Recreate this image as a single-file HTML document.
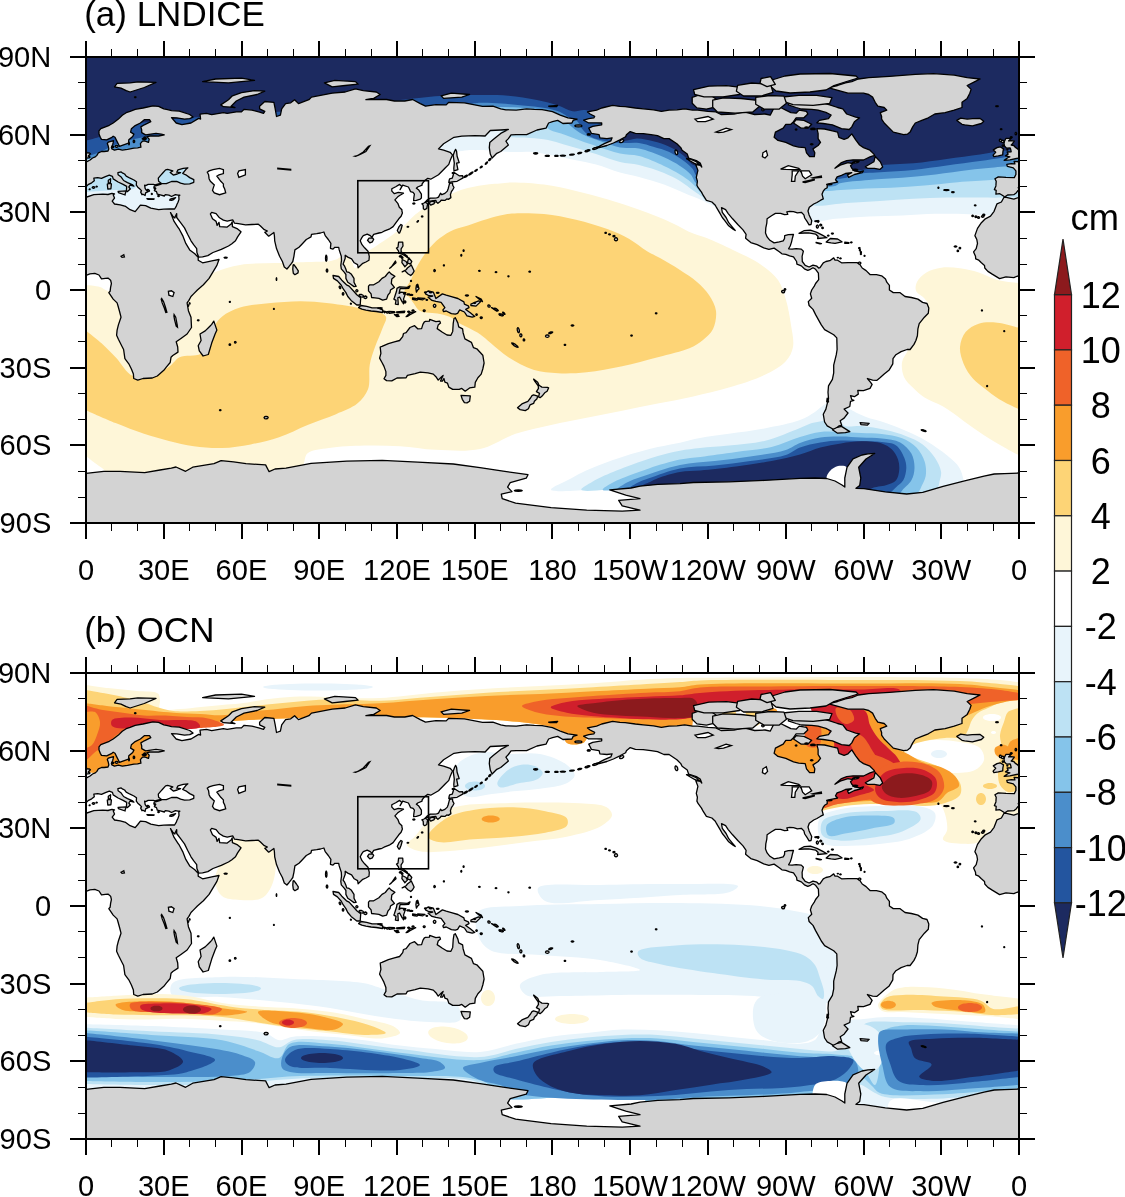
<!DOCTYPE html>
<html><head><meta charset="utf-8"><title>LNDICE OCN</title><style>html,body{margin:0;padding:0;background:#fff;overflow:hidden}svg{display:block}</style></head><body>
<svg width="1125" height="1197" viewBox="0 0 1125 1197" font-family='"Liberation Sans", Arial, Helvetica, sans-serif'>
<clipPath id="clip0"><rect x="86.0" y="57.0" width="933.0" height="466.0"/></clipPath>
<g clip-path="url(#clip0)">
<rect x="86.0" y="57.0" width="933.0" height="466.0" fill="#ffffff"/>
<path d="M86.0 285.0 C86.0 285.0 96.1 285.8 100.0 287.0 C103.1 288.0 104.2 289.7 108.0 291.0 C116.4 293.9 136.3 301.2 150.0 300.0 C163.7 298.8 182.0 287.3 190.0 284.0 C193.4 282.6 194.4 282.3 197.3 280.9 C202.0 278.7 208.5 274.6 215.1 272.0 C222.6 269.1 230.9 266.4 240.0 264.9 C250.7 263.1 263.7 263.6 275.6 263.1 C287.4 262.6 301.3 262.3 311.1 262.0 C318.0 261.8 324.3 261.9 328.9 261.3 C331.8 260.9 333.5 260.5 336.0 259.6 C338.9 258.5 342.3 254.6 345.0 255.0 C347.6 255.4 350.3 259.6 352.0 262.0 C353.4 264.0 353.6 267.7 355.0 268.0 C356.6 268.3 359.0 264.2 361.3 262.4 C363.9 260.4 369.1 258.9 369.9 256.8 C370.5 255.3 367.9 253.4 368.4 251.8 C369.2 249.5 373.8 247.7 377.0 245.4 C380.8 242.7 385.7 239.7 389.8 236.8 C393.7 234.0 397.6 231.4 401.2 228.3 C404.7 225.2 407.9 221.4 411.1 218.4 C414.0 215.7 416.5 213.3 419.6 211.2 C422.7 209.0 426.3 207.5 429.6 205.6 C432.9 203.7 436.1 201.8 439.6 199.9 C443.2 198.0 447.2 195.9 450.9 194.2 C454.3 192.6 457.2 191.1 460.9 189.9 C465.2 188.5 470.3 187.4 475.1 186.4 C479.8 185.5 484.9 184.7 489.3 184.2 C493.1 183.8 496.3 183.8 500.0 183.5 C503.9 183.2 507.0 182.5 512.0 182.4 C520.1 182.3 533.4 183.1 544.0 184.5 C554.7 185.9 565.4 188.4 576.0 190.9 C586.7 193.4 597.4 196.3 608.0 199.5 C618.7 202.7 629.4 206.2 640.0 210.1 C650.7 214.0 662.5 218.6 672.0 222.9 C679.9 226.5 686.9 231.0 693.3 233.6 C698.2 235.6 701.6 236.0 706.7 238.0 C714.1 240.9 724.2 245.7 733.0 250.0 C742.0 254.4 752.2 258.6 760.0 264.0 C766.9 268.8 773.6 273.8 778.0 280.0 C782.1 285.9 783.9 292.9 786.0 300.0 C788.3 307.8 789.8 316.9 791.0 325.0 C792.1 332.5 794.2 340.6 793.0 347.0 C792.0 352.4 789.8 356.8 786.0 361.0 C781.2 366.4 772.8 371.0 764.4 375.1 C754.3 380.1 740.8 384.0 728.9 387.6 C717.1 391.1 705.2 393.7 693.3 396.4 C681.5 399.1 669.6 401.2 657.8 403.6 C645.9 406.0 634.1 408.3 622.2 410.7 C610.4 413.1 598.5 415.4 586.7 417.8 C574.8 420.2 562.9 422.2 551.1 424.9 C539.2 427.6 527.3 429.9 515.6 433.8 C503.6 437.8 492.8 446.3 480.0 449.0 C466.3 451.9 449.6 450.4 435.6 449.8 C423.1 449.3 411.9 446.9 400.0 446.2 C388.1 445.5 376.3 445.2 364.4 445.5 C352.6 445.8 339.2 446.4 328.9 448.0 C320.8 449.3 312.4 449.3 307.6 453.3 C303.2 457.0 306.0 465.8 300.0 470.0 C285.9 479.9 232.0 476.7 200.0 478.0 C170.5 479.2 130.8 483.3 115.0 478.0 C107.9 475.6 105.9 471.1 101.3 467.6 C96.6 464.1 89.2 458.5 87.1 456.9 C86.5 456.4 86.0 456.0 86.0 456.0 L86.0 285.0 Z" fill="#fef6d8"/>
<path d="M1019.0 283.0 C1019.0 283.0 1004.1 281.7 997.3 279.9 C990.7 278.1 985.0 274.3 978.7 272.4 C972.6 270.5 966.3 269.1 960.0 268.3 C953.8 267.5 947.1 266.9 941.3 267.7 C936.0 268.4 930.5 269.9 926.4 272.4 C922.6 274.7 918.7 278.3 917.1 281.7 C915.7 284.6 915.0 288.4 916.1 291.1 C917.3 294.1 922.4 295.8 924.5 298.5 C926.3 300.8 928.4 302.8 928.3 306.0 C928.2 311.8 918.5 322.1 915.0 330.0 C911.8 337.0 910.2 345.0 907.7 350.8 C905.8 355.2 902.8 357.9 902.1 362.0 C901.3 366.5 902.1 372.5 904.0 376.9 C905.9 381.2 909.9 384.7 913.3 388.1 C916.7 391.5 920.1 394.6 924.5 397.5 C929.7 400.9 936.9 402.9 943.1 406.6 C949.9 410.6 956.8 416.1 963.6 420.9 C970.4 425.7 977.1 430.7 984.0 435.2 C990.7 439.6 998.4 444.0 1004.5 447.5 C1009.3 450.3 1015.6 453.7 1017.7 454.6 C1018.3 454.9 1019.0 455.0 1019.0 455.0 L1019.0 283.0 Z" fill="#fef6d8"/>
<path d="M86.0 330.7 C86.0 330.7 96.4 338.7 101.3 343.1 C106.3 347.6 110.7 352.2 115.6 357.3 C121.2 363.1 126.1 373.4 133.0 376.0 C139.4 378.4 148.5 375.9 155.0 374.0 C160.7 372.3 165.7 369.0 170.0 366.0 C173.7 363.4 175.4 359.3 179.6 357.3 C185.0 354.7 195.4 357.0 200.9 353.8 C205.9 350.9 209.6 345.0 212.0 340.0 C214.2 335.4 213.2 329.4 215.1 325.3 C216.8 321.7 218.9 319.0 222.2 316.4 C226.5 312.9 233.2 309.7 240.0 307.6 C248.2 305.0 258.6 304.4 268.4 303.3 C278.7 302.2 290.0 301.2 300.4 301.2 C310.2 301.2 318.9 302.1 328.9 303.3 C340.1 304.7 354.1 306.7 364.4 309.3 C372.5 311.3 383.6 312.3 385.8 316.4 C387.5 319.5 383.7 324.4 382.2 328.9 C380.3 334.4 377.2 340.7 375.1 346.7 C373.1 352.6 371.0 357.9 369.8 364.4 C368.4 371.9 370.6 382.4 368.0 389.3 C365.8 395.1 362.1 399.6 357.3 403.6 C351.8 408.2 343.7 410.8 336.0 414.2 C327.3 418.0 317.0 421.1 307.6 424.9 C298.1 428.8 288.7 434.0 279.1 437.3 C269.8 440.5 260.2 442.6 250.7 444.4 C241.3 446.2 231.7 447.7 222.2 448.0 C212.7 448.3 202.9 447.5 193.8 446.2 C185.2 445.0 177.2 443.0 168.9 440.9 C160.6 438.8 152.5 436.6 144.0 433.8 C134.8 430.8 125.0 426.9 115.6 423.1 C106.1 419.2 90.2 412.3 87.1 410.7 C86.5 410.4 86.0 410.0 86.0 410.0 L86.0 330.7 Z" fill="#fdd476"/>
<path d="M1019.0 328.0 C1019.0 328.0 1004.3 323.5 997.3 322.8 C990.9 322.2 984.2 322.0 978.7 323.7 C973.7 325.3 968.7 328.2 965.6 332.1 C962.4 336.0 960.4 341.9 960.0 347.1 C959.6 352.5 961.5 358.6 963.7 363.9 C965.9 369.2 969.5 374.7 973.1 378.8 C976.3 382.5 980.0 384.8 984.0 388.0 C988.6 391.6 993.7 395.9 999.2 399.3 C1004.9 402.8 1015.1 407.6 1017.7 408.6 C1018.4 408.9 1019.0 409.0 1019.0 409.0 L1019.0 328.0 Z" fill="#fdd476"/>
<path d="M404.0 293.7 C403.2 291.1 409.1 283.8 411.1 279.5 C412.8 275.9 413.8 272.9 415.4 269.6 C417.1 266.2 419.0 262.9 421.1 259.6 C423.3 256.2 425.4 252.9 428.2 249.6 C431.4 245.8 435.4 241.6 439.6 238.3 C443.9 234.9 448.9 231.9 453.8 229.7 C458.4 227.7 463.3 227.0 468.0 225.5 C472.8 224.0 477.2 222.1 482.2 220.5 C487.8 218.7 494.6 216.7 500.0 215.5 C504.4 214.5 507.0 213.9 512.0 213.5 C520.1 212.9 533.4 213.0 544.0 214.0 C554.7 215.0 565.4 217.2 576.0 219.7 C586.7 222.3 598.5 225.7 608.0 229.3 C615.9 232.3 622.7 235.3 629.3 239.0 C635.6 242.5 641.2 247.7 646.7 251.0 C651.3 253.8 655.2 255.3 660.0 258.0 C666.0 261.4 673.7 265.9 680.0 270.0 C686.0 273.9 692.0 277.6 697.0 282.0 C701.6 286.0 705.8 290.1 709.0 295.0 C712.2 299.8 715.3 305.4 716.0 311.0 C716.7 316.7 715.4 324.0 713.0 329.0 C710.8 333.5 706.8 336.8 703.0 340.0 C699.1 343.2 695.5 345.6 690.0 348.0 C681.8 351.6 668.8 354.3 657.8 357.3 C646.3 360.4 634.1 363.7 622.2 366.2 C610.4 368.7 597.9 371.1 586.7 372.3 C576.7 373.3 567.4 373.8 558.2 373.3 C549.6 372.8 541.4 372.3 533.3 369.8 C524.8 367.1 515.8 362.0 508.4 357.3 C501.7 353.0 495.8 347.3 490.7 343.1 C486.7 339.8 484.4 337.2 480.0 334.2 C473.9 330.1 461.7 324.9 456.9 321.8 C454.6 320.3 454.1 319.1 452.0 318.0 C449.0 316.4 444.6 315.1 440.0 314.0 C434.1 312.6 424.0 313.4 419.6 310.8 C416.7 309.1 415.9 306.1 414.0 303.7 C412.0 301.2 410.0 297.7 408.0 296.0 C406.6 294.8 404.4 295.1 404.0 293.7 Z" fill="#fdd476"/>
<path d="M86.0 150.0 C86.0 150.0 239.0 152.5 300.0 150.0 C345.8 148.1 397.3 134.7 420.0 140.0 C430.0 142.3 432.3 150.1 440.0 152.0 C448.7 154.1 462.7 150.2 470.0 150.0 C474.2 149.9 475.8 149.9 480.0 150.0 C487.4 150.2 501.4 151.7 510.7 152.0 C518.4 152.3 524.9 151.4 532.0 152.0 C539.1 152.6 546.2 154.3 553.3 155.6 C560.4 156.9 567.6 158.5 574.7 160.0 C581.8 161.5 588.7 162.5 596.0 164.5 C603.8 166.6 612.4 170.4 620.0 172.6 C626.7 174.5 632.3 175.2 639.0 177.0 C646.8 179.1 656.1 181.6 664.0 184.5 C671.5 187.2 678.7 190.8 685.3 193.5 C691.0 195.9 696.2 197.7 701.3 200.0 C706.1 202.2 712.4 204.9 715.2 207.0 C716.6 208.1 717.8 210.1 718.0 210.0 C718.3 209.8 715.1 206.3 716.0 205.0 C719.7 199.6 794.0 196.4 805.0 205.0 C809.7 208.7 805.1 218.2 808.9 220.9 C813.7 224.4 826.2 219.4 835.6 218.7 C846.1 217.9 857.8 216.9 868.9 216.4 C880.0 215.9 891.1 215.9 902.2 215.5 C913.3 215.1 924.5 214.0 935.6 213.8 C946.7 213.6 959.5 213.9 968.9 214.2 C975.8 214.5 981.2 215.0 986.7 215.3 C991.5 215.6 995.2 215.9 1000.0 216.0 C1005.8 216.2 1019.0 216.0 1019.0 216.0 L1019.0 50.0 L86.0 50.0 L86.0 150.0 Z" fill="#e8f4fb"/>
<path d="M86.0 165.0 C86.0 165.0 233.9 148.4 300.0 140.0 C357.2 132.7 426.1 117.0 460.0 118.0 C476.0 118.5 487.2 120.8 495.0 125.0 C499.9 127.6 502.1 133.1 505.0 135.0 C506.8 136.2 507.7 136.5 510.0 137.0 C514.4 138.0 523.4 137.5 529.9 138.0 C536.1 138.5 542.2 138.9 548.0 140.0 C553.5 141.1 558.7 143.0 564.0 144.5 C569.3 146.0 574.7 147.4 580.0 149.0 C585.3 150.6 590.1 152.1 596.0 154.0 C603.2 156.3 612.4 160.1 620.0 162.0 C626.6 163.6 632.3 163.4 639.0 165.0 C646.8 166.9 656.7 170.0 664.0 173.0 C670.0 175.5 675.0 178.0 680.0 181.0 C684.9 184.0 689.8 188.1 693.9 191.0 C697.1 193.3 700.5 195.2 702.4 197.0 C703.6 198.1 703.2 199.2 705.0 200.0 C714.2 204.2 790.3 195.7 805.0 200.0 C809.6 201.3 809.4 204.3 813.3 205.3 C820.5 207.2 835.6 203.8 846.7 203.1 C857.8 202.4 868.9 201.6 880.0 200.9 C891.1 200.2 902.2 199.2 913.3 198.7 C924.4 198.1 935.6 197.8 946.7 197.6 C957.8 197.4 970.0 197.6 980.0 197.6 C988.1 197.6 995.3 197.7 1002.2 197.6 C1008.2 197.5 1019.0 197.0 1019.0 197.0 L1019.0 50.0 L86.0 50.0 L86.0 165.0 Z" fill="#bde2f4"/>
<path d="M86.0 160.0 C86.0 160.0 92.1 156.7 100.0 155.0 C135.4 147.3 326.8 134.9 400.0 130.0 C442.2 127.2 473.2 125.4 500.0 125.0 C517.9 124.8 537.6 123.4 545.0 126.0 C547.8 127.0 547.8 128.8 550.1 130.0 C553.5 131.8 559.2 132.8 564.0 134.5 C569.2 136.3 574.7 138.6 580.0 140.5 C585.3 142.4 590.1 144.1 596.0 146.0 C603.2 148.4 612.4 151.9 620.0 153.6 C626.6 155.1 632.3 154.3 639.0 156.0 C646.9 158.0 656.7 162.5 664.0 165.9 C670.0 168.7 675.3 171.5 680.0 174.4 C684.0 176.9 687.6 179.3 690.7 181.9 C693.5 184.3 696.5 187.4 698.1 189.3 C699.0 190.4 698.5 191.2 700.0 192.0 C709.0 196.7 804.7 193.0 820.0 192.0 C823.6 191.8 823.6 191.4 826.7 191.1 C833.3 190.4 847.3 189.4 857.8 188.9 C868.7 188.3 880.0 188.3 891.1 187.8 C902.2 187.2 913.3 186.5 924.4 185.6 C935.5 184.7 946.7 183.1 957.8 182.2 C968.9 181.3 982.4 180.6 991.1 180.0 C996.7 179.6 1000.4 179.3 1005.0 179.0 C1009.7 178.7 1019.0 178.0 1019.0 178.0 L1019.0 50.0 L86.0 50.0 L86.0 160.0 Z" fill="#85c4ea"/>
<path d="M86.0 160.0 C86.0 160.0 103.0 153.4 120.0 150.0 C168.0 140.4 337.9 128.6 400.0 120.0 C431.2 115.7 446.2 109.7 470.0 108.0 C494.5 106.2 529.7 107.3 545.0 110.0 C552.0 111.2 556.3 112.6 560.0 115.0 C562.8 116.8 563.8 119.5 566.1 121.7 C568.7 124.2 571.6 126.9 574.7 129.2 C578.0 131.6 581.3 133.7 585.3 135.6 C590.0 137.9 595.7 139.6 601.3 141.5 C607.3 143.6 613.7 146.3 620.0 147.5 C626.2 148.6 632.3 147.2 639.0 148.5 C646.9 150.1 656.7 154.1 664.0 157.3 C670.0 160.0 675.3 162.8 680.0 165.9 C684.1 168.6 687.9 171.3 690.7 174.4 C693.1 177.0 694.0 181.4 696.0 182.9 C697.3 183.8 698.6 183.5 700.0 184.0 C701.6 184.5 702.1 185.4 705.0 186.0 C719.1 188.7 820.9 189.6 835.0 186.0 C837.9 185.3 837.5 184.1 840.0 183.3 C845.6 181.6 858.9 180.9 868.9 180.0 C879.6 179.0 891.1 178.7 902.2 177.8 C913.3 176.9 924.5 175.7 935.6 174.4 C946.7 173.1 958.9 171.2 968.9 170.0 C977.0 169.1 983.5 168.5 991.1 167.8 C999.1 167.0 1011.2 166.0 1015.6 165.6 C1017.3 165.5 1019.0 165.3 1019.0 165.3 L1019.0 50.0 L86.0 50.0 L86.0 160.0 Z" fill="#4b8ecb"/>
<path d="M86.0 157.0 C86.0 157.0 94.5 154.1 100.0 152.0 C108.1 148.9 114.6 143.7 130.0 140.0 C174.6 129.2 339.4 122.6 400.0 115.0 C431.0 111.1 457.2 105.8 470.0 104.0 C474.8 103.3 476.0 103.0 480.0 102.8 C485.8 102.6 494.2 103.0 501.3 103.5 C508.4 104.0 515.5 104.9 522.7 105.6 C530.1 106.4 538.3 106.8 545.0 108.0 C550.5 109.0 555.6 110.1 560.0 112.0 C563.8 113.6 566.9 116.5 570.0 118.0 C572.4 119.2 574.8 119.1 576.8 120.7 C579.3 122.7 580.8 127.6 583.2 130.3 C585.4 132.8 587.6 135.0 590.7 136.7 C594.5 138.8 600.1 140.0 605.0 141.0 C609.9 142.1 614.7 142.6 620.0 143.0 C625.9 143.4 633.2 142.3 639.0 143.0 C644.1 143.7 648.4 145.3 653.3 146.7 C658.5 148.2 664.3 149.7 669.3 152.0 C674.2 154.3 679.1 157.5 683.2 160.5 C686.8 163.2 690.6 166.2 692.8 169.1 C694.4 171.2 694.6 174.0 696.0 175.5 C697.1 176.7 697.5 177.3 700.0 178.0 C713.6 181.9 826.5 181.8 845.0 178.0 C849.6 177.0 849.6 175.3 853.3 174.4 C859.6 172.8 870.6 172.9 880.0 172.2 C890.5 171.4 902.2 171.1 913.3 170.0 C924.4 168.9 935.6 167.1 946.7 165.6 C957.8 164.1 970.0 162.5 980.0 161.1 C988.2 159.9 995.7 158.8 1002.2 157.8 C1007.2 157.0 1012.6 156.1 1015.6 155.6 C1017.1 155.3 1019.0 155.0 1019.0 155.0 L1019.0 50.0 L86.0 50.0 L86.0 157.0 Z" fill="#23559f"/>
<path d="M86.0 140.7 C86.0 140.7 93.8 138.7 99.0 137.0 C107.2 134.3 115.2 128.5 130.0 125.0 C163.6 117.2 250.8 114.6 300.0 110.0 C337.7 106.4 374.2 102.6 400.0 100.0 C416.3 98.4 426.7 96.8 440.0 96.0 C453.3 95.2 467.8 95.0 480.0 95.0 C490.3 95.0 499.0 94.9 508.4 95.7 C517.9 96.5 528.1 98.2 536.9 100.0 C544.6 101.6 551.9 103.5 558.2 105.6 C563.5 107.3 567.8 110.7 572.5 111.3 C576.7 111.9 580.7 109.5 585.0 110.0 C589.8 110.5 595.2 112.6 600.0 115.0 C605.2 117.5 611.4 120.7 615.0 125.0 C618.4 129.2 617.5 138.1 621.3 140.3 C625.0 142.5 632.0 138.3 637.3 138.5 C642.6 138.7 648.0 140.0 653.3 141.3 C658.7 142.7 664.3 144.4 669.3 146.7 C674.2 149.0 679.2 152.0 683.2 155.2 C686.9 158.1 689.9 163.2 692.8 164.8 C694.6 165.8 696.7 165.5 698.0 166.0 C698.8 166.3 698.8 166.7 700.0 167.0 C708.2 168.9 770.6 166.3 800.0 167.0 C823.2 167.6 848.4 171.6 862.2 170.0 C869.2 169.2 871.5 166.7 877.8 165.6 C887.2 164.0 901.7 164.4 913.3 163.3 C924.6 162.2 935.6 160.4 946.7 158.9 C957.8 157.4 970.0 155.8 980.0 154.4 C988.2 153.2 995.7 152.1 1002.2 151.1 C1007.2 150.3 1012.6 149.3 1015.6 148.9 C1017.1 148.7 1019.0 148.5 1019.0 148.5 L1019.0 50.0 L86.0 50.0 L86.0 140.7 Z" fill="#1c2a60"/>
<path d="M72.0 192.0 L72.0 189.0 L79.9 184.0 L86.0 176.0 C86.0 176.0 90.4 171.6 94.0 170.0 C99.5 167.5 112.1 165.5 117.0 165.0 C119.3 164.8 120.0 164.5 122.0 165.0 C125.4 165.9 132.4 169.3 135.0 172.0 C136.8 173.8 136.5 177.1 138.0 178.0 C139.3 178.8 141.0 178.0 143.0 178.0 C145.8 178.0 150.0 178.6 153.0 178.0 C155.6 177.5 159.4 176.5 160.0 175.0 C160.5 173.7 157.8 171.7 158.0 170.0 C158.2 168.0 159.9 165.3 162.0 164.0 C164.9 162.3 170.5 163.5 175.0 163.0 C179.8 162.5 186.6 159.3 190.0 161.0 C192.8 162.4 194.2 167.1 195.0 170.0 C195.6 172.4 196.3 174.9 195.0 177.0 C193.0 180.3 182.9 180.7 180.0 185.0 C176.8 189.7 180.5 201.1 178.0 205.0 C176.4 207.5 174.4 208.0 171.0 209.0 C164.2 211.0 148.2 212.4 138.0 211.0 C128.7 209.7 120.8 204.3 112.0 202.0 C103.4 199.7 86.0 197.0 86.0 197.0 L72.0 192.0 Z" fill="#e8f4fb"/>
<path d="M72.0 192.0 L72.0 189.0 L79.9 184.0 L86.0 176.0 C86.0 176.0 90.4 171.6 94.0 170.0 C99.5 167.5 112.1 165.5 117.0 165.0 C119.3 164.8 120.0 164.4 122.0 165.0 C125.6 166.1 133.5 170.7 136.0 174.0 C137.6 176.2 138.1 178.7 138.0 181.0 C137.9 183.4 136.9 186.5 135.0 188.0 C132.8 189.8 128.4 189.7 125.0 190.0 C121.4 190.4 117.9 189.9 114.0 190.0 C109.6 190.2 104.7 190.7 100.0 191.0 C95.3 191.3 86.0 192.0 86.0 192.0 L72.0 192.0 Z" fill="#bde2f4"/>
<path d="M157.0 165.0 C162.2 159.8 190.6 159.6 196.0 165.0 C199.9 168.9 199.7 181.3 196.0 185.0 C191.4 189.6 170.8 186.6 165.0 185.0 C162.5 184.3 161.5 182.4 160.0 182.0 C158.9 181.7 157.7 182.7 157.0 182.0 C155.3 180.3 153.6 168.4 157.0 165.0 Z" fill="#bde2f4"/>
<path d="M551.0 489.8 C550.4 487.4 563.8 482.4 570.0 479.0 C575.7 475.9 580.0 473.2 586.7 470.2 C596.2 465.9 610.3 460.8 622.2 456.9 C634.0 453.1 647.3 449.6 657.8 447.1 C666.0 445.2 672.8 444.3 680.0 442.7 C686.9 441.2 692.7 439.4 700.0 438.0 C708.7 436.3 718.8 435.3 728.9 433.8 C740.1 432.1 752.6 430.7 764.4 428.4 C776.3 426.1 790.8 423.5 800.0 420.0 C806.3 417.6 810.7 414.8 815.0 412.0 C818.6 409.6 821.1 406.5 824.5 404.5 C827.8 402.5 831.6 399.9 835.0 400.0 C838.4 400.1 842.5 403.3 845.0 405.0 C846.8 406.2 847.2 407.3 849.1 408.6 C852.6 411.0 859.5 414.5 865.4 416.8 C871.7 419.3 879.1 420.5 885.9 422.9 C892.8 425.3 899.6 428.1 906.3 431.1 C913.2 434.2 920.1 437.3 926.8 441.3 C933.8 445.4 941.4 450.8 947.2 455.6 C952.0 459.6 956.8 463.5 959.5 467.9 C961.9 471.7 962.5 475.9 963.6 480.2 C964.7 484.9 962.5 491.6 966.0 495.0 C971.2 500.2 1000.1 498.7 1000.0 500.0 C999.7 504.0 698.9 512.0 660.0 500.0 C651.0 497.2 652.7 492.2 645.0 489.8 C627.5 484.4 552.3 494.8 551.0 489.8 Z" fill="#e8f4fb"/>
<path d="M581.3 489.8 C580.7 488.0 588.2 484.3 592.0 482.0 C595.9 479.6 599.4 477.9 604.4 475.6 C611.6 472.3 622.2 468.2 631.1 464.9 C640.0 461.7 649.3 458.4 657.8 456.0 C665.5 453.8 672.8 452.0 680.0 450.7 C686.8 449.4 692.7 448.8 700.0 448.0 C708.7 447.0 718.8 446.6 728.9 445.5 C740.1 444.3 752.7 443.7 764.4 440.9 C776.4 438.0 791.3 431.4 800.0 428.0 C805.1 426.0 808.1 424.2 812.0 423.0 C815.6 421.9 818.9 421.7 822.5 420.9 C826.5 420.0 831.2 417.1 835.0 418.0 C838.7 418.9 841.0 424.6 845.0 426.0 C849.5 427.6 855.3 425.5 861.3 426.0 C868.7 426.6 878.1 428.3 885.9 430.1 C893.1 431.8 900.0 433.7 906.3 436.2 C912.2 438.5 917.9 440.8 922.7 444.4 C927.4 448.0 931.8 452.9 934.9 457.7 C937.8 462.2 940.5 467.3 941.1 472.0 C941.6 476.2 939.5 480.3 939.0 484.3 C938.5 488.0 935.7 492.3 938.0 495.0 C943.5 501.6 1000.0 498.8 1000.0 500.0 C999.9 502.7 698.9 512.0 660.0 500.0 C651.0 497.2 652.2 492.0 645.0 489.8 C631.5 485.6 582.6 493.7 581.3 489.8 Z" fill="#bde2f4"/>
<path d="M602.7 489.8 C602.2 488.3 608.7 484.9 612.0 483.0 C615.2 481.1 617.9 480.0 622.2 478.2 C629.0 475.4 639.6 471.4 648.9 468.4 C658.8 465.2 670.7 461.5 680.0 459.6 C687.5 458.1 692.7 458.0 700.4 457.0 C710.6 455.6 724.1 453.7 736.0 452.0 C747.9 450.3 760.5 449.7 771.6 447.0 C781.7 444.5 791.3 439.6 800.0 437.0 C807.3 434.8 813.5 432.8 820.4 432.0 C827.2 431.2 834.1 431.8 840.9 432.0 C847.7 432.2 854.5 432.7 861.3 433.0 C868.1 433.3 875.0 433.1 881.8 434.0 C888.6 434.9 896.2 435.8 902.2 438.3 C907.6 440.5 912.7 443.5 916.5 447.5 C920.2 451.4 923.2 456.9 924.7 461.8 C926.1 466.4 926.4 471.6 925.7 476.1 C925.0 480.4 922.0 484.9 920.6 488.4 C919.6 490.9 916.8 493.2 918.0 495.0 C921.9 501.2 1000.0 498.9 1000.0 500.0 C999.9 502.3 698.9 512.0 660.0 500.0 C651.0 497.2 651.7 491.9 645.0 489.8 C634.8 486.7 603.6 492.7 602.7 489.8 Z" fill="#85c4ea"/>
<path d="M616.9 489.8 C616.4 488.3 624.1 484.1 628.0 482.0 C631.8 480.0 634.8 479.1 640.0 477.3 C649.4 474.0 667.0 467.6 680.0 464.9 C691.9 462.4 703.1 462.4 714.7 461.0 C726.5 459.6 738.4 458.3 750.2 456.5 C762.1 454.7 776.8 453.0 785.8 450.0 C791.8 448.0 794.7 445.0 800.0 443.0 C806.1 440.7 813.5 438.6 820.4 437.5 C827.2 436.4 834.1 436.5 840.9 436.5 C847.7 436.5 854.5 437.2 861.3 437.5 C868.1 437.8 875.2 437.6 881.8 438.5 C888.1 439.3 895.1 439.7 900.2 442.4 C904.8 444.9 909.0 449.2 911.4 453.6 C913.7 457.8 914.6 463.3 914.5 467.9 C914.4 472.2 913.4 476.5 911.4 480.2 C909.3 484.0 904.1 487.5 902.2 490.4 C901.0 492.1 899.2 493.7 900.0 495.0 C903.5 500.9 1000.0 498.9 1000.0 500.0 C1000.0 502.0 698.9 512.0 660.0 500.0 C651.0 497.2 651.1 491.7 645.0 489.8 C637.4 487.5 617.6 492.0 616.9 489.8 Z" fill="#4b8ecb"/>
<path d="M627.6 489.8 C627.2 488.6 633.6 484.9 637.0 483.0 C640.6 481.0 644.0 480.0 648.9 478.2 C656.8 475.4 669.2 470.5 680.0 468.4 C691.1 466.2 703.1 466.7 714.7 465.5 C726.5 464.3 738.4 462.7 750.2 461.0 C762.1 459.2 776.8 458.0 785.8 455.0 C791.8 453.0 794.7 449.5 800.0 447.5 C806.1 445.2 813.5 443.7 820.4 442.5 C827.2 441.3 834.1 440.7 840.9 440.5 C847.7 440.3 854.5 440.8 861.3 441.0 C868.1 441.3 875.6 441.1 881.8 442.0 C887.0 442.7 892.4 442.8 896.1 445.4 C899.9 448.0 902.6 453.6 904.3 457.7 C905.7 461.1 906.4 464.4 906.3 467.9 C906.2 471.8 905.2 476.9 903.3 480.2 C901.6 483.2 898.3 484.8 896.1 487.3 C893.9 489.8 889.0 492.9 890.0 495.0 C893.2 502.0 1000.0 498.9 1000.0 500.0 C1000.0 501.9 698.9 512.0 660.0 500.0 C651.0 497.2 650.5 491.5 645.0 489.8 C639.6 488.2 628.1 491.3 627.6 489.8 Z" fill="#23559f"/>
<path d="M640.0 487.0 C640.0 485.5 646.9 483.5 650.0 482.0 C652.8 480.6 654.5 479.5 657.8 478.2 C663.2 476.1 672.7 473.3 680.0 472.0 C686.9 470.8 692.7 471.2 700.4 470.5 C710.6 469.5 724.1 468.1 736.0 466.5 C747.9 464.9 760.4 463.1 771.6 461.0 C781.6 459.1 791.4 457.1 800.0 454.6 C807.4 452.5 813.5 449.4 820.4 447.5 C827.2 445.7 834.1 444.4 840.9 443.4 C847.7 442.4 854.5 441.3 861.3 441.3 C868.1 441.3 876.3 441.6 881.8 443.4 C886.0 444.8 889.3 446.8 892.0 449.5 C894.7 452.2 896.9 456.2 898.1 459.7 C899.2 463.0 899.5 466.6 899.2 470.0 C898.9 473.4 898.2 477.7 896.1 480.2 C893.9 482.8 889.7 484.0 885.9 485.3 C881.6 486.8 875.2 486.4 871.6 488.4 C868.7 490.0 864.3 493.2 865.0 495.0 C867.7 502.0 1000.0 499.0 1000.0 500.0 C1000.0 501.6 698.9 512.0 660.0 500.0 C651.0 497.2 648.7 492.1 645.0 489.8 C642.9 488.5 640.0 488.0 640.0 487.0 Z" fill="#1c2a60"/>
<path d="M826.7 478.5 C825.9 476.8 828.2 473.0 830.0 471.0 C831.9 468.8 835.1 466.6 838.0 466.0 C840.8 465.4 845.8 465.5 847.0 467.3 C848.4 469.2 845.1 474.6 844.8 478.0 C844.5 481.1 846.2 486.2 844.8 487.0 C843.3 487.9 838.2 482.4 835.0 481.0 C832.2 479.7 827.5 480.2 826.7 478.5 Z" fill="#ffffff"/>
<g fill="#d3d3d3" stroke="#000" stroke-width="1.3" stroke-linejoin="round">
<path d="M71.5 196.8 L69.7 195.5 L66.8 193.7 L62.9 194.2 L63.2 190.3 L61.4 189.6 L62.9 185.9 L63.2 181.3 L61.9 178.7 L65.3 176.9 L73.0 177.4 L81.3 177.6 L82.9 174.5 L82.9 170.9 L80.3 167.8 L74.3 166.3 L73.8 164.4 L78.2 163.7 L81.9 163.9 L81.1 161.3 L86.5 161.8 L90.1 160.0 L92.5 158.0 L95.3 156.9 L96.9 155.4 L98.4 152.8 L101.5 151.5 L104.1 151.5 L108.0 151.0 L108.8 148.9 L108.3 146.3 L107.3 143.5 L108.3 142.2 L113.5 140.6 L113.2 142.4 L112.7 144.5 L111.4 147.6 L111.9 148.9 L114.5 150.2 L118.4 149.2 L122.3 150.2 L127.5 149.4 L133.9 148.1 L137.6 147.9 L140.9 147.1 L140.4 143.7 L142.5 141.1 L144.6 140.9 L148.5 142.4 L149.2 139.1 L146.9 136.7 L150.0 136.0 L158.6 136.0 L164.3 134.9 L161.2 134.1 L156.0 133.4 L150.8 134.1 L145.6 134.9 L141.7 132.6 L141.7 130.0 L140.9 126.9 L144.3 124.8 L150.8 121.7 L149.5 119.7 L144.3 119.7 L140.4 123.0 L135.2 125.6 L131.4 128.7 L130.6 132.1 L133.9 134.1 L132.7 136.5 L128.8 139.8 L128.5 143.2 L123.6 144.8 L119.4 146.3 L118.7 144.8 L116.6 140.6 L115.0 137.3 L113.2 136.2 L111.9 137.3 L106.7 139.8 L101.5 139.3 L100.3 137.3 L99.0 133.9 L99.0 130.8 L100.8 128.7 L105.4 126.9 L109.3 125.3 L113.2 123.0 L118.4 119.1 L122.3 115.2 L126.2 112.7 L130.1 111.4 L135.2 109.3 L143.0 108.0 L152.9 105.9 L158.6 106.4 L163.8 108.8 L167.6 109.6 L171.5 110.6 L179.3 111.1 L189.7 114.5 L193.0 117.1 L189.7 118.6 L184.5 119.1 L176.7 117.8 L171.5 117.6 L176.2 123.0 L181.9 124.6 L191.0 123.0 L198.7 118.4 L200.6 119.1 L200.0 114.2 L206.5 113.4 L211.7 114.7 L223.4 112.7 L227.2 113.4 L236.3 111.9 L241.5 111.9 L244.1 109.3 L251.9 110.1 L259.6 112.1 L263.5 113.4 L264.8 111.4 L259.6 108.8 L259.6 106.2 L264.8 101.5 L273.9 102.3 L275.2 108.8 L276.5 116.5 L280.4 115.2 L281.7 108.8 L285.6 103.6 L290.7 102.8 L294.6 99.7 L298.5 103.6 L308.9 99.7 L311.5 97.1 L332.2 93.2 L345.2 92.0 L355.5 88.8 L363.3 90.7 L376.3 92.0 L380.2 94.5 L373.7 98.4 L365.9 99.7 L376.3 99.5 L386.6 99.5 L394.4 101.0 L404.8 101.0 L412.6 99.5 L420.3 103.6 L425.5 106.2 L435.9 104.6 L446.2 104.9 L448.8 102.3 L464.4 102.8 L474.8 104.9 L482.5 106.4 L492.9 106.2 L500.7 108.8 L505.9 109.8 L516.2 110.1 L526.6 108.8 L534.4 109.3 L542.1 109.6 L552.5 111.6 L560.3 115.2 L568.0 117.8 L577.1 119.1 L573.2 120.4 L571.9 123.0 L562.9 123.5 L557.7 120.4 L552.5 121.7 L548.6 123.0 L546.0 128.2 L537.0 130.0 L526.6 134.7 L516.2 134.7 L511.0 134.9 L508.4 138.6 L505.9 141.1 L508.4 145.0 L500.7 151.5 L496.8 153.3 L492.1 158.0 L490.3 154.1 L489.3 147.6 L489.8 142.4 L492.9 139.8 L500.7 133.4 L508.4 129.5 L500.7 130.0 L490.3 130.5 L485.1 136.0 L474.8 135.7 L461.8 136.2 L454.0 137.3 L443.6 143.7 L438.5 148.9 L443.6 150.2 L450.1 152.3 L452.5 154.9 L450.1 160.6 L448.8 164.4 L444.9 168.3 L438.5 174.8 L430.7 179.2 L427.8 178.4 L424.7 180.5 L422.1 183.9 L422.1 185.2 L417.7 187.0 L416.4 188.3 L418.8 190.1 L421.4 194.2 L421.4 198.1 L420.3 199.1 L416.4 200.4 L413.6 200.7 L413.8 198.1 L414.4 194.2 L413.1 192.4 L410.5 191.6 L409.4 189.0 L408.4 187.0 L402.7 185.2 L400.1 189.6 L401.9 186.4 L399.6 184.4 L395.7 186.7 L391.8 188.8 L391.8 191.1 L394.4 193.7 L398.3 192.4 L403.5 193.2 L399.6 195.5 L397.5 197.1 L394.9 199.9 L397.8 203.3 L399.3 207.2 L401.9 209.7 L401.9 211.0 L402.4 212.9 L401.1 216.2 L398.8 218.8 L396.0 222.7 L393.1 226.6 L389.2 229.2 L384.0 231.2 L382.0 232.3 L378.9 233.0 L373.7 234.3 L371.9 237.4 L370.3 235.6 L367.2 234.1 L363.3 235.6 L362.0 237.4 L360.2 240.8 L362.0 244.7 L364.6 247.8 L368.0 251.2 L369.3 256.3 L369.0 260.2 L365.9 262.0 L362.8 263.3 L358.1 267.7 L357.6 264.6 L354.2 262.8 L351.6 258.9 L347.8 257.1 L345.2 255.3 L345.2 258.2 L343.1 264.1 L344.6 266.2 L345.9 269.3 L346.7 271.9 L349.1 272.4 L351.1 273.9 L354.0 278.4 L354.0 282.2 L356.1 286.4 L354.0 286.6 L350.4 284.0 L347.8 282.2 L345.9 278.4 L345.9 274.5 L344.4 272.4 L341.3 268.8 L340.8 265.4 L341.5 260.2 L341.3 256.3 L339.2 249.9 L338.7 247.3 L334.8 247.3 L333.0 249.1 L330.4 248.3 L330.9 243.4 L328.3 239.5 L325.2 235.6 L323.9 232.0 L320.5 233.0 L316.7 233.6 L311.5 234.3 L311.0 236.9 L306.3 239.5 L301.9 244.2 L299.0 247.3 L294.9 249.9 L293.9 256.3 L292.8 261.5 L291.5 263.3 L288.9 266.7 L286.9 269.0 L284.3 267.0 L282.4 261.5 L279.6 256.3 L276.5 248.6 L274.7 240.8 L274.4 235.6 L273.9 232.5 L268.7 236.2 L264.8 232.3 L267.4 231.0 L264.3 229.7 L260.2 225.8 L258.3 224.2 L251.9 224.5 L245.6 224.8 L238.4 223.7 L234.5 223.2 L232.7 219.8 L227.2 221.1 L223.4 220.1 L219.5 217.8 L216.1 213.6 L211.7 212.3 L210.4 213.9 L212.5 218.8 L216.1 221.4 L217.1 225.3 L219.0 222.4 L219.7 226.6 L227.2 227.1 L231.1 224.0 L232.2 221.9 L232.4 226.6 L237.6 228.9 L241.0 231.8 L237.6 236.9 L235.5 240.8 L231.9 243.7 L228.5 246.0 L221.3 249.4 L213.0 252.5 L207.8 255.6 L202.6 256.9 L198.7 257.1 L196.9 252.5 L196.7 248.6 L193.6 244.7 L191.0 240.8 L187.6 234.3 L184.5 227.9 L180.6 222.7 L176.7 217.5 L176.7 213.6 L175.4 216.2 L174.9 218.0 L172.8 216.2 L170.5 212.6 L174.1 221.4 L178.0 227.3 L179.3 229.2 L182.7 235.6 L185.8 243.4 L189.7 249.9 L194.8 253.8 L198.2 257.4 L198.2 260.2 L202.6 262.8 L213.0 260.7 L219.0 259.5 L216.9 265.4 L213.0 271.9 L209.1 278.4 L203.4 284.8 L197.4 290.0 L193.6 293.9 L191.0 296.5 L188.9 300.4 L187.1 302.9 L187.9 307.6 L188.4 310.7 L191.0 317.2 L191.5 327.5 L187.1 334.0 L180.6 338.7 L176.2 341.8 L177.7 347.0 L178.0 352.1 L172.8 355.5 L171.0 357.3 L170.2 362.5 L166.3 367.1 L163.8 370.3 L157.3 376.0 L152.3 378.0 L143.0 378.5 L137.8 380.1 L133.7 378.5 L133.4 374.1 L131.4 369.0 L128.8 363.8 L124.9 358.6 L123.6 349.5 L122.3 347.0 L118.4 339.2 L116.6 335.3 L117.1 330.1 L118.4 324.9 L121.0 317.2 L119.7 312.0 L117.9 305.5 L117.1 302.9 L113.2 299.1 L108.8 292.6 L110.1 291.3 L110.6 287.4 L111.4 283.5 L110.6 280.2 L108.0 278.1 L105.4 278.4 L101.5 278.9 L99.0 275.0 L94.8 273.4 L89.9 273.9 L86.0 275.5 L80.8 277.6 L73.0 276.8 L66.6 278.6 L58.8 273.9 L54.9 271.4 L51.8 268.0 L51.5 265.4 L48.4 262.8 L45.8 260.2 L42.7 258.9 L42.5 256.3 L40.6 251.9 L43.2 248.6 L44.5 243.4 L43.8 239.5 L41.9 235.6 L44.5 228.4 L48.4 222.7 L52.3 218.8 L57.5 216.2 L61.1 211.3 L64.0 203.8 L68.4 202.0 L71.0 197.3 L72.3 197.1 L80.8 199.1 L86.0 197.3 L93.8 194.7 L102.8 194.2 L108.0 194.5 L111.9 193.4 L114.5 194.0 L113.2 194.7 L114.5 198.1 L112.2 201.2 L114.5 204.0 L120.2 204.8 L125.7 206.4 L130.1 209.7 L135.2 211.6 L137.8 208.4 L140.4 205.1 L145.6 205.6 L150.8 208.2 L158.6 209.7 L163.8 209.2 L169.7 209.0 L174.6 209.0 L176.2 206.4 L177.0 204.3 L178.0 202.2 L179.0 199.4 L178.8 196.0 L179.8 195.2 L178.0 195.2 L175.4 194.7 L171.5 196.5 L168.9 195.2 L165.3 194.7 L164.3 196.0 L161.2 195.2 L157.3 194.2 L156.5 191.6 L154.4 190.6 L155.5 188.3 L153.9 187.7 L154.2 186.2 L157.3 185.4 L161.2 184.1 L161.4 183.3 L166.3 183.6 L171.5 181.5 L176.7 181.3 L180.6 183.1 L184.5 184.1 L189.7 183.9 L193.8 182.3 L193.8 179.7 L189.7 177.6 L185.8 174.8 L182.7 173.5 L185.8 169.6 L187.9 167.8 L183.2 168.3 L178.0 169.9 L176.7 172.2 L180.6 172.7 L177.2 174.0 L173.3 175.1 L170.2 172.5 L172.8 170.9 L167.6 169.4 L165.6 169.9 L163.0 172.7 L160.4 175.6 L158.3 178.2 L158.6 181.3 L161.2 183.3 L158.6 183.9 L155.2 184.9 L153.4 184.4 L148.2 184.4 L145.6 185.7 L144.6 185.2 L145.1 188.3 L146.4 190.3 L148.2 191.6 L145.6 192.9 L145.1 195.5 L143.0 194.2 L142.0 194.7 L140.7 192.1 L141.5 190.6 L139.6 188.8 L137.8 187.2 L136.3 185.2 L136.5 181.8 L133.9 180.0 L130.1 178.2 L126.2 176.1 L124.6 174.0 L122.8 173.2 L121.2 171.9 L117.9 172.7 L118.1 174.8 L121.2 177.1 L123.6 180.5 L127.5 182.6 L132.7 184.9 L133.9 186.2 L130.1 185.2 L128.8 187.0 L130.3 189.0 L127.5 191.6 L126.4 190.8 L126.7 186.4 L123.1 184.4 L118.1 182.0 L113.2 178.9 L112.4 176.3 L109.3 175.1 L105.4 176.6 L101.5 178.4 L97.7 177.6 L93.8 178.2 L94.3 180.7 L91.7 182.8 L88.1 184.6 L85.2 187.7 L86.5 189.6 L84.7 190.8 L83.4 192.7 L80.8 194.7 L74.6 195.0 L72.3 196.5 Z"/>
<path d="M1004.5 196.8 L1002.7 195.5 L999.8 193.7 L995.9 194.2 L996.2 190.3 L994.4 189.6 L995.9 185.9 L996.2 181.3 L994.9 178.7 L998.3 176.9 L1006.0 177.4 L1014.3 177.6 L1015.9 174.5 L1015.9 170.9 L1013.3 167.8 L1007.3 166.3 L1006.8 164.4 L1011.2 163.7 L1014.9 163.9 L1014.1 161.3 L1019.5 161.8 L1023.1 160.0 L1025.5 158.0 L1028.3 156.9 L1029.9 155.4 L1031.4 152.8 L1034.5 151.5 L1037.1 151.5 L1041.0 151.0 L1041.8 148.9 L1041.3 146.3 L1040.3 143.5 L1041.3 142.2 L1046.5 140.6 L1046.2 142.4 L1045.7 144.5 L1044.4 147.6 L1044.9 148.9 L1047.5 150.2 L1051.4 149.2 L1055.3 150.2 L1060.5 149.4 L1066.9 148.1 L1070.6 147.9 L1073.9 147.1 L1073.4 143.7 L1075.5 141.1 L1077.6 140.9 L1081.5 142.4 L1082.2 139.1 L1079.9 136.7 L1083.0 136.0 L1091.6 136.0 L1097.3 134.9 L1094.2 134.1 L1089.0 133.4 L1083.8 134.1 L1078.6 134.9 L1074.7 132.6 L1074.7 130.0 L1073.9 126.9 L1077.3 124.8 L1083.8 121.7 L1082.5 119.7 L1077.3 119.7 L1073.4 123.0 L1068.2 125.6 L1064.4 128.7 L1063.6 132.1 L1066.9 134.1 L1065.7 136.5 L1061.8 139.8 L1061.5 143.2 L1056.6 144.8 L1052.4 146.3 L1051.7 144.8 L1049.6 140.6 L1048.0 137.3 L1046.2 136.2 L1044.9 137.3 L1039.7 139.8 L1034.5 139.3 L1033.3 137.3 L1032.0 133.9 L1032.0 130.8 L1033.8 128.7 L1038.4 126.9 L1042.3 125.3 L1046.2 123.0 L1051.4 119.1 L1055.3 115.2 L1059.2 112.7 L1063.1 111.4 L1068.2 109.3 L1076.0 108.0 L1085.9 105.9 L1091.6 106.4 L1096.8 108.8 L1100.6 109.6 L1104.5 110.6 L1112.3 111.1 L1122.7 114.5 L1126.0 117.1 L1122.7 118.6 L1117.5 119.1 L1109.7 117.8 L1104.5 117.6 L1109.2 123.0 L1114.9 124.6 L1124.0 123.0 L1131.7 118.4 L1133.6 119.1 L1133.0 114.2 L1139.5 113.4 L1144.7 114.7 L1156.4 112.7 L1160.2 113.4 L1169.3 111.9 L1174.5 111.9 L1177.1 109.3 L1184.9 110.1 L1192.6 112.1 L1196.5 113.4 L1197.8 111.4 L1192.6 108.8 L1192.6 106.2 L1197.8 101.5 L1206.9 102.3 L1208.2 108.8 L1209.5 116.5 L1213.4 115.2 L1214.7 108.8 L1218.6 103.6 L1223.7 102.8 L1227.6 99.7 L1231.5 103.6 L1241.9 99.7 L1244.5 97.1 L1265.2 93.2 L1278.2 92.0 L1288.5 88.8 L1296.3 90.7 L1309.3 92.0 L1313.2 94.5 L1306.7 98.4 L1298.9 99.7 L1309.3 99.5 L1319.6 99.5 L1327.4 101.0 L1337.8 101.0 L1345.5 99.5 L1353.3 103.6 L1358.5 106.2 L1368.9 104.6 L1379.2 104.9 L1381.8 102.3 L1397.4 102.8 L1407.8 104.9 L1415.5 106.4 L1425.9 106.2 L1433.7 108.8 L1438.8 109.8 L1449.2 110.1 L1459.6 108.8 L1467.4 109.3 L1475.1 109.6 L1485.5 111.6 L1493.3 115.2 L1501.0 117.8 L1510.1 119.1 L1506.2 120.4 L1504.9 123.0 L1495.9 123.5 L1490.7 120.4 L1485.5 121.7 L1481.6 123.0 L1479.0 128.2 L1470.0 130.0 L1459.6 134.7 L1449.2 134.7 L1444.0 134.9 L1441.4 138.6 L1438.8 141.1 L1441.4 145.0 L1433.7 151.5 L1429.8 153.3 L1425.1 158.0 L1423.3 154.1 L1422.3 147.6 L1422.8 142.4 L1425.9 139.8 L1433.7 133.4 L1441.4 129.5 L1433.7 130.0 L1423.3 130.5 L1418.1 136.0 L1407.8 135.7 L1394.8 136.2 L1387.0 137.3 L1376.7 143.7 L1371.5 148.9 L1376.7 150.2 L1383.1 152.3 L1385.5 154.9 L1383.1 160.6 L1381.8 164.4 L1377.9 168.3 L1371.5 174.8 L1363.7 179.2 L1360.8 178.4 L1357.7 180.5 L1355.1 183.9 L1355.1 185.2 L1350.7 187.0 L1349.4 188.3 L1351.8 190.1 L1354.4 194.2 L1354.4 198.1 L1353.3 199.1 L1349.4 200.4 L1346.6 200.7 L1346.8 198.1 L1347.4 194.2 L1346.1 192.4 L1343.5 191.6 L1342.4 189.0 L1341.4 187.0 L1335.7 185.2 L1333.1 189.6 L1334.9 186.4 L1332.6 184.4 L1328.7 186.7 L1324.8 188.8 L1324.8 191.1 L1327.4 193.7 L1331.3 192.4 L1336.5 193.2 L1332.6 195.5 L1330.5 197.1 L1327.9 199.9 L1330.8 203.3 L1332.3 207.2 L1334.9 209.7 L1334.9 211.0 L1335.4 212.9 L1334.1 216.2 L1331.8 218.8 L1329.0 222.7 L1326.1 226.6 L1322.2 229.2 L1317.0 231.2 L1315.0 232.3 L1311.9 233.0 L1306.7 234.3 L1304.9 237.4 L1303.3 235.6 L1300.2 234.1 L1296.3 235.6 L1295.0 237.4 L1293.2 240.8 L1295.0 244.7 L1297.6 247.8 L1301.0 251.2 L1302.3 256.3 L1302.0 260.2 L1298.9 262.0 L1295.8 263.3 L1291.1 267.7 L1290.6 264.6 L1287.2 262.8 L1284.6 258.9 L1280.8 257.1 L1278.2 255.3 L1278.2 258.2 L1276.1 264.1 L1277.6 266.2 L1278.9 269.3 L1279.7 271.9 L1282.1 272.4 L1284.1 273.9 L1287.0 278.4 L1287.0 282.2 L1289.1 286.4 L1287.0 286.6 L1283.3 284.0 L1280.8 282.2 L1278.9 278.4 L1278.9 274.5 L1277.4 272.4 L1274.3 268.8 L1273.8 265.4 L1274.5 260.2 L1274.3 256.3 L1272.2 249.9 L1271.7 247.3 L1267.8 247.3 L1266.0 249.1 L1263.4 248.3 L1263.9 243.4 L1261.3 239.5 L1258.2 235.6 L1256.9 232.0 L1253.5 233.0 L1249.7 233.6 L1244.5 234.3 L1244.0 236.9 L1239.3 239.5 L1234.9 244.2 L1232.0 247.3 L1227.9 249.9 L1226.9 256.3 L1225.8 261.5 L1224.5 263.3 L1221.9 266.7 L1219.9 269.0 L1217.3 267.0 L1215.4 261.5 L1212.6 256.3 L1209.5 248.6 L1207.7 240.8 L1207.4 235.6 L1206.9 232.5 L1201.7 236.2 L1197.8 232.3 L1200.4 231.0 L1197.3 229.7 L1193.2 225.8 L1191.3 224.2 L1184.9 224.5 L1178.6 224.8 L1171.4 223.7 L1167.5 223.2 L1165.7 219.8 L1160.2 221.1 L1156.4 220.1 L1152.5 217.8 L1149.1 213.6 L1144.7 212.3 L1143.4 213.9 L1145.5 218.8 L1149.1 221.4 L1150.1 225.3 L1152.0 222.4 L1152.7 226.6 L1160.2 227.1 L1164.1 224.0 L1165.2 221.9 L1165.4 226.6 L1170.6 228.9 L1174.0 231.8 L1170.6 236.9 L1168.5 240.8 L1164.9 243.7 L1161.5 246.0 L1154.3 249.4 L1146.0 252.5 L1140.8 255.6 L1135.6 256.9 L1131.7 257.1 L1129.9 252.5 L1129.7 248.6 L1126.6 244.7 L1124.0 240.8 L1120.6 234.3 L1117.5 227.9 L1113.6 222.7 L1109.7 217.5 L1109.7 213.6 L1108.4 216.2 L1107.9 218.0 L1105.8 216.2 L1103.5 212.6 L1107.1 221.4 L1111.0 227.3 L1112.3 229.2 L1115.7 235.6 L1118.8 243.4 L1122.7 249.9 L1127.8 253.8 L1131.2 257.4 L1131.2 260.2 L1135.6 262.8 L1146.0 260.7 L1152.0 259.5 L1149.9 265.4 L1146.0 271.9 L1142.1 278.4 L1136.4 284.8 L1130.4 290.0 L1126.6 293.9 L1124.0 296.5 L1121.9 300.4 L1120.1 302.9 L1120.9 307.6 L1121.4 310.7 L1124.0 317.2 L1124.5 327.5 L1120.1 334.0 L1113.6 338.7 L1109.2 341.8 L1110.7 347.0 L1111.0 352.1 L1105.8 355.5 L1104.0 357.3 L1103.2 362.5 L1099.3 367.1 L1096.8 370.3 L1090.3 376.0 L1085.3 378.0 L1076.0 378.5 L1070.8 380.1 L1066.7 378.5 L1066.4 374.1 L1064.4 369.0 L1061.8 363.8 L1057.9 358.6 L1056.6 349.5 L1055.3 347.0 L1051.4 339.2 L1049.6 335.3 L1050.1 330.1 L1051.4 324.9 L1054.0 317.2 L1052.7 312.0 L1050.9 305.5 L1050.1 302.9 L1046.2 299.1 L1041.8 292.6 L1043.1 291.3 L1043.6 287.4 L1044.4 283.5 L1043.6 280.2 L1041.0 278.1 L1038.4 278.4 L1034.5 278.9 L1032.0 275.0 L1027.8 273.4 L1022.9 273.9 L1019.0 275.5 L1013.8 277.6 L1006.0 276.8 L999.6 278.6 L991.8 273.9 L987.9 271.4 L984.8 268.0 L984.5 265.4 L981.4 262.8 L978.8 260.2 L975.7 258.9 L975.5 256.3 L973.6 251.9 L976.2 248.6 L977.5 243.4 L976.8 239.5 L974.9 235.6 L977.5 228.4 L981.4 222.7 L985.3 218.8 L990.5 216.2 L994.1 211.3 L997.0 203.8 L1001.4 202.0 L1004.0 197.3 L1005.3 197.1 L1013.8 199.1 L1019.0 197.3 L1026.8 194.7 L1035.8 194.2 L1041.0 194.5 L1044.9 193.4 L1047.5 194.0 L1046.2 194.7 L1047.5 198.1 L1045.2 201.2 L1047.5 204.0 L1053.2 204.8 L1058.7 206.4 L1063.1 209.7 L1068.2 211.6 L1070.8 208.4 L1073.4 205.1 L1078.6 205.6 L1083.8 208.2 L1091.6 209.7 L1096.8 209.2 L1102.7 209.0 L1107.6 209.0 L1109.2 206.4 L1110.0 204.3 L1111.0 202.2 L1112.0 199.4 L1111.8 196.0 L1112.8 195.2 L1111.0 195.2 L1108.4 194.7 L1104.5 196.5 L1101.9 195.2 L1098.3 194.7 L1097.3 196.0 L1094.2 195.2 L1090.3 194.2 L1089.5 191.6 L1087.4 190.6 L1088.5 188.3 L1086.9 187.7 L1087.2 186.2 L1090.3 185.4 L1094.2 184.1 L1094.4 183.3 L1099.3 183.6 L1104.5 181.5 L1109.7 181.3 L1113.6 183.1 L1117.5 184.1 L1122.7 183.9 L1126.8 182.3 L1126.8 179.7 L1122.7 177.6 L1118.8 174.8 L1115.7 173.5 L1118.8 169.6 L1120.9 167.8 L1116.2 168.3 L1111.0 169.9 L1109.7 172.2 L1113.6 172.7 L1110.2 174.0 L1106.3 175.1 L1103.2 172.5 L1105.8 170.9 L1100.6 169.4 L1098.6 169.9 L1096.0 172.7 L1093.4 175.6 L1091.3 178.2 L1091.6 181.3 L1094.2 183.3 L1091.6 183.9 L1088.2 184.9 L1086.4 184.4 L1081.2 184.4 L1078.6 185.7 L1077.6 185.2 L1078.1 188.3 L1079.4 190.3 L1081.2 191.6 L1078.6 192.9 L1078.1 195.5 L1076.0 194.2 L1075.0 194.7 L1073.7 192.1 L1074.5 190.6 L1072.6 188.8 L1070.8 187.2 L1069.3 185.2 L1069.5 181.8 L1066.9 180.0 L1063.1 178.2 L1059.2 176.1 L1057.6 174.0 L1055.8 173.2 L1054.2 171.9 L1050.9 172.7 L1051.1 174.8 L1054.2 177.1 L1056.6 180.5 L1060.5 182.6 L1065.7 184.9 L1066.9 186.2 L1063.1 185.2 L1061.8 187.0 L1063.3 189.0 L1060.5 191.6 L1059.4 190.8 L1059.7 186.4 L1056.1 184.4 L1051.1 182.0 L1046.2 178.9 L1045.4 176.3 L1042.3 175.1 L1038.4 176.6 L1034.5 178.4 L1030.7 177.6 L1026.8 178.2 L1027.3 180.7 L1024.7 182.8 L1021.1 184.6 L1018.2 187.7 L1019.5 189.6 L1017.7 190.8 L1016.4 192.7 L1013.8 194.7 L1007.6 195.0 L1005.3 196.5 Z"/>
<path d="M583.6 120.2 L588.8 118.6 L594.0 117.8 L594.7 116.3 L590.1 114.0 L587.5 111.9 L596.6 110.1 L601.7 108.0 L612.6 105.4 L619.9 106.4 L625.1 106.7 L635.4 108.0 L643.2 108.8 L653.6 109.8 L661.4 111.4 L669.1 110.1 L676.9 109.8 L684.7 108.8 L692.5 110.1 L697.6 110.1 L708.0 111.4 L715.8 111.9 L721.0 114.5 L733.9 114.0 L744.3 111.9 L754.6 114.5 L765.0 114.0 L770.2 115.2 L771.5 112.7 L775.4 104.9 L780.6 107.5 L785.8 110.1 L790.9 112.7 L796.1 113.2 L799.2 110.1 L806.5 111.4 L807.8 114.0 L803.9 117.8 L796.1 117.8 L793.5 121.7 L790.9 124.3 L785.8 124.3 L783.2 128.2 L775.4 132.1 L774.1 137.3 L778.0 140.4 L785.8 142.4 L793.5 145.8 L798.7 147.1 L805.2 147.6 L806.5 152.8 L809.6 156.7 L814.3 156.7 L814.8 152.8 L813.0 148.9 L818.1 145.5 L820.5 142.4 L818.1 138.6 L818.1 133.4 L816.9 128.7 L824.6 129.0 L832.4 130.8 L837.6 132.1 L838.9 137.3 L844.1 139.3 L848.0 137.8 L851.8 133.9 L855.7 139.8 L859.6 145.0 L863.5 147.6 L870.0 150.2 L873.9 154.1 L874.6 155.4 L870.0 156.9 L863.5 160.0 L853.1 159.8 L846.7 160.6 L841.5 162.6 L836.3 167.0 L835.0 168.3 L840.2 165.2 L848.0 162.6 L852.6 163.7 L850.5 165.7 L851.8 168.3 L854.4 170.9 L859.6 171.9 L863.5 170.9 L862.2 172.7 L854.4 174.5 L848.7 177.4 L847.4 174.8 L851.8 172.7 L845.4 173.5 L841.5 175.3 L837.1 176.9 L835.5 179.7 L837.6 182.0 L833.7 182.8 L829.8 183.6 L827.2 184.9 L827.2 187.7 L824.6 189.3 L823.3 191.1 L822.0 194.2 L823.3 198.9 L820.7 200.2 L816.9 202.5 L813.7 204.0 L809.3 207.2 L808.0 211.0 L809.1 214.9 L811.7 220.6 L811.1 224.5 L809.1 224.8 L807.0 221.4 L804.7 218.0 L803.9 214.9 L801.3 212.3 L797.4 212.9 L793.5 211.6 L789.6 211.3 L786.8 211.8 L787.8 214.4 L784.5 214.7 L780.6 213.4 L775.4 213.4 L771.5 215.7 L767.1 218.8 L766.8 223.2 L765.8 227.9 L765.5 233.0 L767.1 236.9 L769.9 240.3 L774.1 242.9 L779.3 241.8 L783.2 240.8 L784.5 238.7 L784.7 235.6 L788.3 234.6 L793.5 234.3 L792.5 237.7 L791.5 242.1 L790.2 246.0 L788.6 248.8 L792.2 249.1 L796.1 248.6 L801.3 249.1 L803.4 251.2 L802.1 256.3 L802.3 261.5 L805.2 265.4 L809.1 267.0 L813.0 265.1 L816.9 266.2 L818.7 268.0 L820.0 267.7 L823.3 262.8 L825.9 261.5 L829.8 260.7 L833.7 257.9 L835.0 260.2 L837.6 260.2 L841.5 262.8 L848.0 262.6 L853.1 262.6 L857.0 262.6 L859.6 264.1 L862.2 268.0 L866.1 270.6 L870.0 274.5 L876.5 274.7 L881.6 275.8 L885.5 279.1 L886.8 282.2 L889.4 285.3 L889.4 290.0 L893.3 292.6 L899.8 292.6 L905.0 296.5 L911.4 297.5 L917.9 299.1 L922.6 302.4 L927.0 303.5 L928.8 308.1 L928.3 313.3 L924.4 317.2 L919.2 323.7 L917.9 328.8 L917.4 335.8 L915.9 340.5 L914.0 344.4 L910.1 349.5 L907.0 349.5 L901.1 351.6 L895.9 354.7 L893.0 358.6 L892.8 363.8 L888.9 370.3 L884.2 374.1 L880.3 377.5 L876.7 380.4 L872.6 380.1 L867.4 378.5 L870.8 382.7 L872.1 384.5 L870.0 388.4 L863.5 390.7 L857.8 390.4 L858.3 394.1 L854.4 396.7 L850.5 395.6 L851.8 399.5 L853.9 400.3 L850.5 401.3 L849.8 406.5 L844.1 409.1 L848.0 413.0 L844.1 418.1 L840.2 420.7 L841.7 425.4 L838.9 425.9 L836.3 428.5 L833.7 429.5 L827.2 425.9 L824.6 422.0 L823.3 414.3 L825.9 409.1 L827.2 403.9 L828.5 398.7 L828.0 392.3 L828.5 385.8 L832.4 379.3 L833.7 372.8 L833.7 365.1 L836.3 354.7 L837.1 349.5 L836.8 337.9 L833.7 334.8 L824.6 329.6 L821.3 324.9 L819.2 321.1 L815.6 314.6 L813.0 309.4 L809.1 305.5 L808.3 301.6 L811.7 298.3 L810.4 293.9 L811.7 290.0 L814.3 286.1 L815.6 283.5 L818.7 279.6 L818.4 273.2 L815.6 269.3 L813.0 267.7 L810.4 269.3 L807.8 270.3 L804.4 268.8 L801.3 265.9 L796.9 264.1 L796.6 261.5 L793.5 256.9 L789.6 255.8 L785.8 254.3 L781.9 253.8 L779.3 251.7 L774.1 248.1 L768.9 249.4 L763.7 247.8 L757.2 244.7 L750.8 242.6 L745.6 238.2 L746.1 234.3 L743.0 229.9 L737.8 224.5 L732.6 218.8 L728.2 213.6 L725.6 209.7 L721.5 207.7 L722.3 212.3 L726.1 217.5 L728.7 222.7 L732.6 227.3 L735.2 230.5 L733.1 229.2 L728.7 225.8 L724.8 220.6 L722.3 217.5 L719.7 212.9 L716.6 207.7 L715.3 205.3 L711.9 202.0 L706.4 200.4 L703.1 195.2 L701.5 192.1 L698.2 187.7 L696.9 185.2 L697.4 181.3 L696.3 177.4 L697.9 170.4 L695.8 164.7 L700.2 165.0 L701.8 167.0 L700.2 163.1 L696.3 160.6 L688.6 158.0 L687.3 154.1 L682.1 150.2 L680.8 147.6 L676.9 143.7 L669.1 138.6 L663.9 138.6 L657.5 135.7 L651.0 134.7 L643.2 133.6 L635.4 133.4 L630.2 131.6 L626.4 134.7 L625.6 136.7 L619.9 139.8 L613.4 143.0 L606.9 145.5 L599.1 147.6 L592.7 148.9 L599.1 146.3 L604.3 143.7 L610.8 140.9 L612.1 137.8 L606.9 138.6 L599.9 137.8 L599.1 134.7 L591.4 133.4 L590.1 130.8 L588.8 128.2 L592.7 126.4 L601.7 124.8 L601.7 123.0 L596.6 122.8 L588.3 122.8 Z"/>
<path d="M118.1 191.4 L126.4 190.8 L125.1 194.0 L125.1 195.0 L118.4 192.7 Z"/>
<path d="M107.8 189.0 L107.3 184.1 L109.3 183.3 L111.4 183.9 L110.9 188.8 Z"/>
<path d="M108.3 182.8 L110.4 182.8 L110.6 178.7 L108.3 180.2 Z"/>
<path d="M146.9 198.6 L154.2 198.9 L153.4 199.4 L148.2 199.4 Z"/>
<path d="M169.7 200.2 L170.2 199.1 L175.7 197.6 L173.6 199.6 L171.5 200.4 Z"/>
<path d="M71.2 160.3 L76.9 159.8 L83.4 158.5 L89.6 157.7 L89.9 156.9 L88.1 156.2 L90.4 153.8 L89.4 153.0 L86.8 152.8 L86.3 151.2 L84.7 148.9 L82.1 147.1 L80.8 145.5 L78.2 145.0 L79.5 143.7 L81.3 141.1 L78.2 140.6 L75.6 140.9 L78.2 138.3 L73.0 138.3 L71.5 141.1 L71.0 143.7 L71.7 146.3 L73.6 148.1 L77.2 147.9 L77.7 149.4 L78.2 151.8 L74.1 152.0 L75.1 154.1 L72.5 155.9 L76.9 156.9 L75.1 157.4 Z"/>
<path d="M1004.2 160.3 L1009.9 159.8 L1016.4 158.5 L1022.6 157.7 L1022.9 156.9 L1021.1 156.2 L1023.4 153.8 L1022.4 153.0 L1019.8 152.8 L1019.3 151.2 L1017.7 148.9 L1015.1 147.1 L1013.8 145.5 L1011.2 145.0 L1012.5 143.7 L1014.3 141.1 L1011.2 140.6 L1008.6 140.9 L1011.2 138.3 L1006.0 138.3 L1004.5 141.1 L1004.0 143.7 L1004.7 146.3 L1006.6 148.1 L1010.2 147.9 L1010.7 149.4 L1011.2 151.8 L1007.1 152.0 L1008.1 154.1 L1005.5 155.9 L1009.9 156.9 L1008.1 157.4 Z"/>
<path d="M1002.9 151.8 L1003.5 148.9 L1000.1 146.8 L997.0 147.6 L993.3 149.9 L995.7 152.3 L993.1 155.1 L993.9 156.7 L998.3 155.9 L1002.7 154.9 Z"/>
<path d="M962.0 124.3 L956.8 120.4 L960.7 118.1 L967.2 119.1 L972.4 118.6 L980.1 118.4 L983.8 121.2 L981.4 123.5 L972.4 125.9 L964.6 124.8 Z"/>
<path d="M114.5 86.8 L117.1 83.4 L130.1 82.9 L137.8 81.9 L156.0 82.4 L144.3 87.5 L130.1 92.0 L126.2 90.7 L121.0 88.1 Z"/>
<path d="M202.6 81.6 L215.6 79.0 L241.5 78.2 L254.5 80.3 L228.5 82.9 Z"/>
<path d="M220.8 104.9 L228.5 99.7 L232.4 95.8 L241.5 92.7 L254.5 90.7 L264.8 91.2 L257.1 94.5 L244.1 97.1 L236.3 101.0 L231.1 106.2 L235.0 107.5 L223.4 106.7 Z"/>
<path d="M332.2 86.8 L345.2 85.5 L358.1 84.2 L355.5 81.6 L334.8 80.3 L324.4 82.9 Z"/>
<path d="M441.1 95.8 L451.4 93.2 L469.6 94.5 L461.8 97.1 L443.6 98.4 Z"/>
<path d="M548.6 106.2 L557.7 105.4 L556.4 106.7 L549.9 106.7 Z"/>
<path d="M425.2 202.2 L429.1 201.2 L432.0 200.9 L435.9 200.4 L436.4 202.0 L437.9 203.3 L440.5 201.2 L441.1 200.2 L444.9 200.4 L446.8 198.9 L448.3 199.4 L450.9 197.6 L450.4 194.7 L451.4 191.6 L453.0 189.3 L454.0 187.5 L452.7 185.2 L452.5 182.8 L449.6 183.3 L448.8 186.4 L448.1 189.0 L447.3 191.1 L444.9 193.4 L441.8 194.7 L440.5 193.2 L438.5 197.1 L436.7 197.8 L433.3 198.1 L430.2 198.1 L426.8 200.4 Z"/>
<path d="M425.2 202.2 L427.6 203.8 L426.8 208.4 L424.7 209.7 L423.4 208.7 L423.2 205.3 L421.9 203.8 L424.0 203.0 Z"/>
<path d="M429.4 203.5 L430.7 205.1 L433.8 203.8 L435.1 202.0 L432.0 201.2 L429.9 202.2 Z"/>
<path d="M448.8 182.6 L451.9 181.8 L457.1 181.3 L463.1 177.9 L462.6 175.6 L459.2 175.8 L453.8 172.2 L453.0 176.1 L452.2 178.2 L449.6 178.9 L449.1 180.5 Z"/>
<path d="M454.0 170.9 L457.9 169.6 L456.6 163.1 L459.2 162.6 L457.1 156.2 L456.6 151.5 L455.6 149.4 L454.5 151.5 L453.2 155.4 L454.3 163.1 L453.8 168.3 Z"/>
<path d="M397.3 230.5 L398.8 233.0 L399.6 233.0 L401.1 229.2 L402.2 225.3 L400.9 224.5 L399.1 226.6 Z"/>
<path d="M367.5 240.3 L369.8 242.9 L372.4 241.8 L373.7 239.3 L372.6 238.0 L369.0 238.2 Z"/>
<path d="M293.1 265.1 L293.9 264.6 L296.4 268.0 L298.3 270.8 L298.0 272.9 L294.9 274.7 L293.3 273.2 L292.8 269.3 Z"/>
<path d="M398.6 242.1 L402.7 242.1 L403.0 246.0 L401.1 248.8 L401.1 251.9 L403.5 253.2 L407.4 256.3 L407.6 257.6 L405.6 256.3 L401.9 254.0 L398.6 253.2 L398.6 251.2 L396.5 248.1 L398.0 247.3 Z"/>
<path d="M402.2 271.9 L406.1 269.8 L407.4 268.0 L411.3 264.9 L414.1 271.1 L412.6 273.7 L410.7 275.5 L407.9 273.7 L404.8 270.6 Z"/>
<path d="M408.7 257.6 L411.8 261.5 L410.5 264.1 L407.4 262.8 Z"/>
<path d="M402.2 259.5 L406.1 261.5 L407.4 264.1 L404.8 266.7 L403.2 264.4 L401.9 262.6 Z"/>
<path d="M389.7 268.3 L396.0 262.8 L395.4 261.0 L391.0 267.5 Z"/>
<path d="M368.5 286.1 L369.8 284.8 L373.7 284.8 L378.9 281.7 L382.0 278.4 L385.3 276.5 L387.9 273.2 L389.2 271.9 L391.0 273.9 L394.9 276.3 L391.8 278.9 L391.3 283.5 L394.4 287.4 L390.5 290.0 L390.0 292.6 L387.9 295.2 L386.6 299.1 L382.7 300.1 L378.9 298.3 L375.0 297.8 L371.6 297.5 L371.1 293.9 L368.5 290.8 L368.5 287.4 Z"/>
<path d="M333.0 275.5 L338.7 276.5 L341.8 280.2 L346.5 284.8 L349.1 286.1 L354.2 291.8 L356.8 294.7 L360.7 297.8 L360.2 305.0 L356.8 305.0 L351.1 300.4 L347.8 296.5 L345.9 292.6 L343.1 288.7 L341.3 285.3 L337.4 280.9 L333.5 278.4 Z"/>
<path d="M358.6 307.6 L361.0 305.5 L366.7 306.3 L372.1 307.9 L377.8 307.9 L382.7 309.9 L382.5 312.5 L376.3 311.5 L371.1 311.0 L365.9 310.2 L361.8 309.2 Z"/>
<path d="M382.7 311.0 L385.9 311.7 L384.6 312.8 Z"/>
<path d="M388.7 311.5 L394.4 311.7 L394.9 312.5 L389.2 313.3 Z"/>
<path d="M396.5 312.0 L404.8 311.2 L404.3 312.5 L397.0 312.8 Z"/>
<path d="M406.1 316.7 L410.5 312.3 L415.7 311.7 L410.0 314.6 L407.4 316.4 Z"/>
<path d="M394.4 314.6 L399.1 316.4 L397.0 316.7 Z"/>
<path d="M395.4 304.2 L398.3 304.5 L397.8 297.8 L399.6 297.0 L402.2 301.9 L404.8 302.7 L403.5 299.1 L405.8 292.6 L400.9 292.1 L399.1 293.4 L400.1 288.7 L404.8 288.7 L408.7 288.4 L410.0 285.9 L407.4 287.4 L399.6 286.9 L397.0 288.4 L396.5 291.3 L394.4 297.8 L393.9 299.1 L396.0 300.4 Z"/>
<path d="M416.4 285.3 L417.7 284.3 L419.0 288.7 L417.7 290.0 L416.4 292.1 L415.9 288.7 Z"/>
<path d="M417.7 297.8 L425.0 298.5 L422.9 299.8 L417.7 299.1 Z"/>
<path d="M412.6 298.0 L415.7 298.5 L414.6 299.8 L412.6 299.3 Z"/>
<path d="M425.5 292.6 L428.1 291.0 L433.3 292.1 L435.9 298.5 L442.4 293.9 L446.2 295.2 L451.4 296.7 L457.9 298.5 L463.9 301.9 L464.4 304.2 L468.3 305.8 L469.0 307.6 L465.7 309.4 L470.3 312.8 L474.8 316.4 L472.2 317.2 L467.0 315.9 L464.4 312.0 L459.7 309.9 L457.6 313.3 L455.3 314.1 L451.4 313.6 L446.2 311.0 L443.6 311.7 L442.9 309.9 L444.9 307.6 L441.1 302.4 L435.9 301.4 L432.0 300.4 L428.1 297.2 L432.8 296.0 L428.9 295.7 L425.5 293.9 Z"/>
<path d="M470.9 304.2 L478.6 300.9 L480.7 301.6 L476.0 306.1 L470.9 305.5 Z"/>
<path d="M476.0 296.5 L481.2 299.1 L482.5 301.6 L479.9 299.8 Z"/>
<path d="M491.6 307.6 L498.1 310.7 L496.8 311.2 Z"/>
<path d="M499.4 313.8 L502.7 314.6 L502.0 315.6 L499.6 315.1 Z"/>
<path d="M380.2 347.0 L382.0 346.4 L388.4 343.6 L394.4 341.8 L399.6 340.5 L402.7 336.6 L403.5 333.5 L406.1 332.7 L410.0 327.5 L414.6 325.7 L417.7 328.8 L421.6 328.6 L422.9 324.4 L424.2 322.1 L425.5 321.3 L429.4 321.1 L429.7 319.3 L435.9 321.6 L439.8 321.1 L440.5 323.1 L438.2 324.9 L437.2 328.6 L442.4 332.2 L447.0 335.0 L450.9 335.3 L452.7 331.4 L453.2 323.7 L454.0 318.5 L455.3 317.7 L457.9 323.1 L458.7 326.8 L462.6 328.8 L463.1 332.7 L464.9 338.9 L471.4 342.3 L473.5 347.7 L476.8 348.8 L482.8 355.2 L484.1 363.0 L482.8 369.0 L481.2 374.1 L477.9 377.8 L475.3 382.4 L474.8 387.1 L469.6 387.9 L465.2 391.2 L461.8 388.4 L459.2 389.4 L452.7 389.4 L448.8 387.1 L447.5 383.2 L444.9 382.2 L443.9 378.5 L442.4 381.1 L440.5 381.1 L443.1 375.4 L441.1 377.2 L438.2 380.1 L435.9 376.7 L433.3 374.1 L428.1 372.8 L420.3 372.1 L415.1 373.6 L407.4 375.4 L406.1 377.8 L397.0 378.0 L391.8 380.9 L386.6 380.6 L384.0 378.8 L385.9 375.4 L385.9 371.6 L384.0 366.4 L382.0 362.5 L379.6 358.1 L380.9 353.4 Z"/>
<path d="M461.0 395.4 L470.3 395.9 L469.6 401.3 L467.0 402.9 L464.4 402.6 L462.3 399.3 Z"/>
<path d="M533.6 379.1 L537.7 382.2 L539.0 385.3 L541.9 387.1 L547.3 387.3 L548.6 387.9 L547.1 391.2 L544.7 392.8 L542.1 396.1 L540.1 397.7 L538.5 396.9 L539.5 393.3 L536.4 391.7 L538.5 388.4 L538.2 385.8 L534.9 381.4 Z"/>
<path d="M533.6 394.9 L537.7 396.1 L537.0 398.7 L534.4 401.3 L533.6 403.4 L530.0 404.9 L528.4 408.8 L525.3 410.6 L520.1 409.6 L517.5 407.8 L521.9 403.9 L527.9 401.3 L530.5 398.0 L532.0 395.6 Z"/>
<path d="M213.8 321.1 L216.9 330.1 L215.1 334.0 L211.7 343.1 L208.3 354.5 L203.1 356.0 L199.3 350.8 L198.2 345.7 L201.1 340.5 L200.0 334.0 L205.2 330.9 L209.9 326.2 L211.7 324.4 Z"/>
<path d="M829.8 88.1 L848.0 93.2 L863.5 93.2 L868.7 94.5 L872.6 97.1 L875.2 102.3 L877.8 106.2 L884.2 107.5 L886.8 110.1 L880.3 112.7 L881.6 116.5 L881.6 119.1 L884.2 123.0 L888.1 126.9 L893.3 132.1 L903.7 134.7 L907.6 134.1 L910.1 132.1 L912.7 126.9 L915.3 123.0 L921.8 120.4 L928.3 117.8 L934.8 114.0 L945.1 112.7 L954.2 110.1 L962.0 107.5 L962.0 102.3 L967.2 98.4 L969.8 93.2 L971.1 89.4 L967.2 85.5 L974.9 81.6 L980.1 79.0 L967.2 77.7 L954.2 75.1 L933.5 73.6 L915.3 74.3 L889.4 76.4 L868.7 77.7 L858.3 79.0 L851.8 81.6 L845.4 82.9 L837.6 85.5 L829.8 87.3 Z"/>
<path d="M851.8 126.9 L849.2 129.5 L841.5 128.7 L832.4 124.8 L823.3 123.5 L816.9 122.8 L819.4 120.4 L828.5 118.6 L831.1 115.0 L825.9 112.4 L818.1 110.1 L811.7 109.3 L801.3 109.0 L796.1 107.5 L788.3 104.9 L790.9 99.7 L798.7 99.2 L811.7 99.7 L819.4 102.0 L829.8 104.9 L837.6 107.5 L842.8 108.8 L846.7 114.0 L855.7 117.1 L859.6 117.8 L854.4 121.7 Z"/>
<path d="M811.7 124.3 L807.8 128.2 L801.3 128.2 L793.5 123.0 L796.1 119.7 L803.9 120.4 L809.1 123.0 Z"/>
<path d="M865.3 166.8 L873.9 161.8 L875.2 156.4 L880.3 161.8 L882.7 167.0 L879.8 169.4 L874.4 168.3 L867.4 168.3 Z"/>
<path d="M799.0 233.3 L803.9 230.7 L810.4 230.2 L816.9 232.3 L822.8 235.4 L827.0 237.7 L817.6 238.5 L818.1 236.4 L815.6 234.1 L808.6 232.8 L804.4 233.0 Z"/>
<path d="M826.2 242.1 L830.3 238.5 L837.6 239.0 L842.0 241.8 L835.0 243.4 L831.1 242.9 Z"/>
<path d="M816.1 242.4 L821.5 243.7 L820.0 243.9 L816.3 242.9 Z"/>
<path d="M844.8 242.1 L849.0 242.6 L848.7 243.4 L844.8 243.4 Z"/>
<path d="M699.4 165.0 L695.0 163.7 L686.5 158.7 L689.9 159.0 L696.3 161.6 Z"/>
<path d="M841.5 426.4 L849.8 431.6 L845.4 432.6 L837.6 433.2 L832.4 429.8 L836.3 427.7 Z"/>
<path d="M860.1 422.6 L869.2 423.3 L867.4 425.1 L860.9 424.6 Z"/>
<path d="M827.2 398.2 L828.5 401.8 L826.7 401.8 Z"/>
<path d="M617.6 239.3 L617.1 238.2 L616.0 237.7 L614.9 238.2 L614.4 239.3 L614.9 240.4 L616.0 240.8 L617.1 240.4 Z"/>
<path d="M615.0 236.2 L614.7 235.7 L613.9 235.5 L613.2 235.7 L612.9 236.2 L613.2 236.6 L613.9 236.8 L614.7 236.6 Z"/>
<path d="M610.4 234.3 L610.2 234.0 L609.5 233.8 L608.9 234.0 L608.6 234.3 L608.9 234.7 L609.5 234.9 L610.2 234.7 Z"/>
<path d="M606.4 232.9 L606.2 232.5 L605.6 232.4 L605.1 232.5 L604.9 232.9 L605.1 233.3 L605.6 233.4 L606.2 233.3 Z"/>
<path d="M467.5 175.4 L466.7 175.2 L465.4 175.8 L464.2 176.6 L463.9 177.3 L464.6 177.5 L466.0 176.9 L467.2 176.0 Z"/>
<path d="M473.0 172.0 L472.1 172.1 L470.5 173.0 L469.1 174.2 L468.7 175.0 L469.6 174.9 L471.2 174.0 L472.6 172.8 Z"/>
<path d="M477.3 169.5 L476.7 169.5 L475.8 170.0 L474.9 170.7 L474.8 171.3 L475.3 171.3 L476.3 170.8 L477.2 170.1 Z"/>
<path d="M482.3 166.3 L481.8 166.2 L480.9 166.6 L480.3 167.2 L480.2 167.8 L480.7 167.8 L481.5 167.5 L482.2 166.8 Z"/>
<path d="M487.5 162.0 L486.9 162.1 L486.0 162.8 L485.4 163.7 L485.3 164.3 L485.9 164.2 L486.8 163.5 L487.4 162.6 Z"/>
<path d="M490.9 158.4 L490.2 158.4 L489.3 159.1 L488.7 160.0 L488.7 160.6 L489.3 160.6 L490.2 160.0 L490.9 159.1 Z"/>
<path d="M597.7 147.6 L596.9 147.3 L595.0 147.6 L593.3 148.4 L592.8 149.2 L593.7 149.5 L595.5 149.1 L597.2 148.4 Z"/>
<path d="M590.0 150.0 L589.1 149.7 L587.3 150.0 L585.6 150.7 L585.0 151.5 L585.9 151.8 L587.7 151.5 L589.4 150.7 Z"/>
<path d="M581.7 152.6 L581.1 152.3 L579.6 152.4 L578.2 152.9 L577.7 153.5 L578.4 153.8 L579.8 153.7 L581.2 153.2 Z"/>
<path d="M574.3 154.4 L573.5 154.1 L571.9 154.1 L570.3 154.4 L569.6 154.8 L570.3 155.1 L572.0 155.1 L573.6 154.8 Z"/>
<path d="M565.5 155.6 L564.7 155.3 L562.9 155.1 L561.0 155.3 L560.3 155.6 L561.0 156.0 L562.9 156.2 L564.7 156.0 Z"/>
<path d="M558.2 155.9 L557.7 155.5 L556.4 155.4 L555.1 155.5 L554.6 155.9 L555.1 156.3 L556.4 156.4 L557.7 156.3 Z"/>
<path d="M549.4 155.9 L548.8 155.5 L547.3 155.4 L545.9 155.5 L545.2 155.9 L545.9 156.3 L547.3 156.4 L548.8 156.3 Z"/>
<path d="M537.7 153.3 L537.1 152.8 L535.7 152.7 L534.2 152.8 L533.6 153.3 L534.2 153.8 L535.7 154.0 L537.1 153.8 Z"/>
<path d="M519.3 329.9 L518.6 328.2 L517.8 327.6 L517.2 328.5 L517.3 330.3 L517.9 332.1 L518.8 332.7 L519.4 331.8 Z"/>
<path d="M521.9 335.3 L521.6 334.2 L520.9 333.8 L520.1 334.2 L519.8 335.3 L520.1 336.4 L520.9 336.9 L521.6 336.4 Z"/>
<path d="M524.8 340.0 L524.5 339.2 L524.0 338.9 L523.4 339.2 L523.2 340.0 L523.4 340.7 L524.0 341.0 L524.5 340.7 Z"/>
<path d="M518.1 347.3 L517.6 346.2 L515.4 344.4 L513.0 343.1 L511.7 343.0 L512.3 344.1 L514.4 345.9 L516.8 347.2 Z"/>
<path d="M549.1 336.1 L548.6 335.2 L547.3 334.8 L546.0 335.2 L545.5 336.1 L546.0 337.0 L547.3 337.4 L548.6 337.0 Z"/>
<path d="M552.7 332.1 L551.9 331.8 L550.5 332.0 L549.1 332.6 L548.7 333.3 L549.4 333.7 L550.9 333.5 L552.2 332.8 Z"/>
<path d="M573.8 325.5 L573.4 325.1 L572.5 324.9 L571.5 325.1 L571.2 325.5 L571.5 325.8 L572.5 326.0 L573.4 325.8 Z"/>
<path d="M565.7 344.9 L565.5 344.5 L564.9 344.4 L564.4 344.5 L564.2 344.9 L564.4 345.3 L564.9 345.4 L565.5 345.3 Z"/>
<path d="M498.0 310.5 L497.7 309.7 L496.4 308.7 L494.8 308.1 L494.0 308.3 L494.3 309.1 L495.6 310.1 L497.2 310.7 Z"/>
<path d="M503.4 315.5 L502.9 314.8 L501.4 314.1 L499.8 313.8 L499.0 314.2 L499.4 314.9 L501.0 315.6 L502.6 315.9 Z"/>
<path d="M504.9 314.4 L504.9 313.8 L504.2 312.8 L503.3 312.2 L502.7 312.2 L502.7 312.8 L503.3 313.8 L504.2 314.4 Z"/>
<path d="M490.0 306.9 L490.2 306.1 L489.7 305.3 L488.8 304.9 L488.0 305.2 L487.8 306.0 L488.3 306.8 L489.2 307.2 Z"/>
<path d="M632.3 335.6 L632.1 335.2 L631.5 335.0 L631.0 335.2 L630.8 335.6 L631.0 335.9 L631.5 336.1 L632.1 335.9 Z"/>
<path d="M656.9 313.3 L656.7 312.9 L656.2 312.8 L655.6 312.9 L655.4 313.3 L655.6 313.7 L656.2 313.8 L656.7 313.7 Z"/>
<path d="M435.4 270.6 L435.1 269.9 L434.6 269.5 L434.0 269.9 L433.8 270.6 L434.0 271.3 L434.6 271.6 L435.1 271.3 Z"/>
<path d="M444.4 265.4 L444.3 265.0 L443.9 264.9 L443.5 265.0 L443.4 265.4 L443.5 265.8 L443.9 265.9 L444.3 265.8 Z"/>
<path d="M480.2 270.8 L480.0 270.5 L479.4 270.3 L478.9 270.5 L478.6 270.8 L478.9 271.2 L479.4 271.4 L480.0 271.2 Z"/>
<path d="M496.8 272.1 L496.6 271.8 L496.0 271.6 L495.5 271.8 L495.2 272.1 L495.5 272.5 L496.0 272.7 L496.6 272.5 Z"/>
<path d="M509.0 276.3 L508.8 275.9 L508.4 275.8 L508.1 275.9 L507.9 276.3 L508.1 276.6 L508.4 276.8 L508.8 276.6 Z"/>
<path d="M530.5 271.6 L530.2 271.3 L529.7 271.1 L529.1 271.3 L528.9 271.6 L529.1 272.0 L529.7 272.1 L530.2 272.0 Z"/>
<path d="M461.8 255.3 L461.6 254.8 L461.3 254.5 L460.9 254.8 L460.8 255.3 L460.9 255.9 L461.3 256.1 L461.6 255.9 Z"/>
<path d="M464.1 250.6 L464.0 250.1 L463.6 249.9 L463.2 250.1 L463.1 250.6 L463.2 251.2 L463.6 251.4 L464.0 251.2 Z"/>
<path d="M979.6 217.5 L979.3 217.0 L978.6 216.7 L977.8 217.0 L977.5 217.5 L977.8 218.1 L978.6 218.3 L979.3 218.1 Z"/>
<path d="M977.0 216.7 L976.7 216.2 L976.0 216.0 L975.2 216.2 L974.9 216.7 L975.2 217.3 L976.0 217.5 L976.7 217.3 Z"/>
<path d="M984.0 216.5 L983.6 215.9 L982.7 215.7 L981.8 215.9 L981.4 216.5 L981.8 217.0 L982.7 217.3 L983.6 217.0 Z"/>
<path d="M984.8 214.9 L984.5 214.4 L983.8 214.1 L983.0 214.4 L982.7 214.9 L983.0 215.5 L983.8 215.7 L984.5 215.5 Z"/>
<path d="M973.4 216.0 L973.2 215.4 L972.6 215.2 L972.1 215.4 L971.8 216.0 L972.1 216.5 L972.6 216.7 L973.2 216.5 Z"/>
<path d="M958.6 250.9 L958.4 250.4 L957.8 250.1 L957.3 250.4 L957.1 250.9 L957.3 251.5 L957.8 251.7 L958.4 251.5 Z"/>
<path d="M956.8 246.5 L956.4 246.1 L955.5 246.0 L954.6 246.1 L954.2 246.5 L954.6 246.9 L955.5 247.0 L956.4 246.9 Z"/>
<path d="M960.7 248.1 L960.5 247.5 L959.9 247.3 L959.4 247.5 L959.1 248.1 L959.4 248.6 L959.9 248.8 L960.5 248.6 Z"/>
<path d="M949.0 190.1 L948.3 189.7 L946.4 189.6 L944.6 189.7 L943.8 190.1 L944.6 190.4 L946.4 190.6 L948.3 190.4 Z"/>
<path d="M954.2 192.1 L953.8 191.8 L952.9 191.6 L952.0 191.8 L951.6 192.1 L952.0 192.5 L952.9 192.7 L953.8 192.5 Z"/>
<path d="M938.9 187.7 L938.8 187.4 L938.4 187.2 L938.0 187.4 L937.9 187.7 L938.0 188.1 L938.4 188.3 L938.8 188.1 Z"/>
<path d="M976.0 205.3 L975.8 205.0 L975.2 204.8 L974.7 205.0 L974.4 205.3 L974.7 205.7 L975.2 205.9 L975.8 205.7 Z"/>
<path d="M926.1 431.3 L925.5 430.7 L923.8 430.0 L922.0 429.6 L921.2 429.8 L921.7 430.5 L923.4 431.2 L925.2 431.6 Z"/>
<path d="M982.5 310.5 L982.3 310.1 L981.9 309.9 L981.6 310.1 L981.4 310.5 L981.6 310.8 L981.9 311.0 L982.3 310.8 Z"/>
<path d="M1004.7 331.2 L1004.6 330.8 L1004.2 330.6 L1003.9 330.8 L1003.7 331.2 L1003.9 331.5 L1004.2 331.7 L1004.6 331.5 Z"/>
<path d="M987.6 386.0 L987.5 385.7 L987.1 385.5 L986.8 385.7 L986.6 386.0 L986.8 386.4 L987.1 386.6 L987.5 386.4 Z"/>
<path d="M784.7 291.6 L784.3 290.6 L783.2 290.3 L782.1 290.6 L781.6 291.6 L782.1 292.5 L783.2 292.8 L784.3 292.5 Z"/>
<path d="M785.8 289.5 L785.5 288.9 L785.0 288.7 L784.4 288.9 L784.2 289.5 L784.4 290.0 L785.0 290.3 L785.5 290.0 Z"/>
<path d="M818.4 226.6 L818.1 225.5 L817.4 225.0 L816.6 225.5 L816.3 226.6 L816.6 227.7 L817.4 228.1 L818.1 227.7 Z"/>
<path d="M821.8 225.0 L821.5 224.5 L820.7 224.2 L820.0 224.5 L819.7 225.0 L820.0 225.6 L820.7 225.8 L821.5 225.6 Z"/>
<path d="M823.3 227.9 L823.1 227.3 L822.6 227.1 L822.0 227.3 L821.8 227.9 L822.0 228.4 L822.6 228.6 L823.1 228.4 Z"/>
<path d="M818.9 221.1 L818.3 220.8 L816.9 220.6 L815.4 220.8 L814.8 221.1 L815.4 221.5 L816.9 221.7 L818.3 221.5 Z"/>
<path d="M818.7 221.4 L818.5 220.7 L818.1 220.4 L817.8 220.7 L817.6 221.4 L817.8 222.1 L818.1 222.4 L818.5 222.1 Z"/>
<path d="M829.0 235.6 L828.8 235.3 L828.3 235.1 L827.7 235.3 L827.5 235.6 L827.7 236.0 L828.3 236.2 L828.8 236.0 Z"/>
<path d="M833.4 233.6 L833.1 233.2 L832.4 233.0 L831.7 233.2 L831.4 233.6 L831.7 233.9 L832.4 234.1 L833.1 233.9 Z"/>
<path d="M860.9 263.1 L860.5 262.3 L859.6 262.0 L858.7 262.3 L858.3 263.1 L858.7 263.8 L859.6 264.1 L860.5 263.8 Z"/>
<path d="M861.4 252.2 L861.3 251.7 L860.9 251.4 L860.5 251.7 L860.4 252.2 L860.5 252.8 L860.9 253.0 L861.3 252.8 Z"/>
<path d="M860.4 250.1 L860.2 249.6 L859.9 249.4 L859.5 249.6 L859.4 250.1 L859.5 250.7 L859.9 250.9 L860.2 250.7 Z"/>
<path d="M860.1 248.1 L859.9 247.7 L859.4 247.5 L858.8 247.7 L858.6 248.1 L858.8 248.4 L859.4 248.6 L859.9 248.4 Z"/>
<path d="M865.1 255.8 L864.9 255.5 L864.5 255.3 L864.2 255.5 L864.0 255.8 L864.2 256.2 L864.5 256.3 L864.9 256.2 Z"/>
<path d="M861.4 254.0 L861.3 253.6 L860.9 253.5 L860.5 253.6 L860.4 254.0 L860.5 254.4 L860.9 254.5 L861.3 254.4 Z"/>
<path d="M852.1 242.4 L851.9 242.1 L851.3 242.0 L850.8 242.1 L850.5 242.4 L850.8 242.6 L851.3 242.8 L851.9 242.6 Z"/>
<path d="M841.2 258.4 L841.0 258.1 L840.4 258.0 L839.9 258.1 L839.7 258.4 L839.9 258.7 L840.4 258.8 L841.0 258.7 Z"/>
<path d="M838.4 257.6 L838.2 257.5 L837.8 257.4 L837.5 257.5 L837.3 257.6 L837.5 257.8 L837.8 257.9 L838.2 257.8 Z"/>
<path d="M327.0 258.2 L326.8 256.0 L326.2 255.1 L325.7 256.0 L325.5 258.2 L325.7 260.4 L326.2 261.3 L326.8 260.4 Z"/>
<path d="M327.8 270.6 L327.6 269.5 L327.0 269.0 L326.5 269.5 L326.2 270.6 L326.5 271.7 L327.0 272.1 L327.6 271.7 Z"/>
<path d="M227.2 257.6 L226.8 257.3 L225.7 257.1 L224.6 257.3 L224.1 257.6 L224.6 258.0 L225.7 258.2 L226.8 258.0 Z"/>
<path d="M230.6 344.6 L230.4 344.1 L229.8 343.8 L229.3 344.1 L229.1 344.6 L229.3 345.2 L229.8 345.4 L230.4 345.2 Z"/>
<path d="M236.1 342.3 L235.8 341.7 L235.3 341.5 L234.7 341.7 L234.5 342.3 L234.7 342.8 L235.3 343.1 L235.8 342.8 Z"/>
<path d="M268.2 417.6 L267.6 416.7 L266.1 416.3 L264.7 416.7 L264.0 417.6 L264.7 418.5 L266.1 418.9 L267.6 418.5 Z"/>
<path d="M221.0 410.1 L220.8 409.8 L220.2 409.6 L219.7 409.8 L219.5 410.1 L219.7 410.5 L220.2 410.6 L220.8 410.5 Z"/>
<path d="M276.7 279.1 L276.7 278.2 L276.5 277.8 L276.3 278.2 L276.2 279.1 L276.3 280.0 L276.5 280.4 L276.7 280.0 Z"/>
<path d="M274.3 308.9 L274.2 308.5 L273.9 308.4 L273.6 308.5 L273.5 308.9 L273.6 309.3 L273.9 309.4 L274.2 309.3 Z"/>
<path d="M199.0 320.3 L198.8 319.9 L198.2 319.8 L197.7 319.9 L197.4 320.3 L197.7 320.7 L198.2 320.8 L198.8 320.7 Z"/>
<path d="M230.4 301.9 L230.2 301.5 L229.8 301.4 L229.5 301.5 L229.3 301.9 L229.5 302.3 L229.8 302.4 L230.2 302.3 Z"/>
<path d="M188.8 305.5 L188.6 305.0 L188.4 304.8 L188.1 305.0 L188.0 305.5 L188.1 306.1 L188.4 306.3 L188.6 306.1 Z"/>
<path d="M190.1 303.5 L189.9 302.9 L189.7 302.7 L189.4 302.9 L189.3 303.5 L189.4 304.0 L189.7 304.2 L189.9 304.0 Z"/>
<path d="M118.1 146.3 L117.7 145.6 L116.6 145.3 L115.5 145.6 L115.0 146.3 L115.5 147.0 L116.6 147.4 L117.7 147.0 Z"/>
<path d="M113.7 146.8 L113.4 146.3 L112.7 146.1 L112.0 146.3 L111.7 146.8 L112.0 147.4 L112.7 147.6 L113.4 147.4 Z"/>
<path d="M134.7 141.4 L134.5 140.5 L133.9 140.1 L133.4 140.5 L133.2 141.4 L133.4 142.3 L133.9 142.7 L134.5 142.3 Z"/>
<path d="M129.4 143.5 L129.3 142.6 L129.0 142.2 L128.7 142.6 L128.6 143.5 L128.7 144.4 L129.0 144.8 L129.3 144.4 Z"/>
<path d="M146.4 138.8 L145.8 138.3 L144.3 138.0 L142.8 138.3 L142.2 138.8 L142.8 139.4 L144.3 139.6 L145.8 139.4 Z"/>
<path d="M145.9 137.5 L145.6 137.1 L144.8 137.0 L144.1 137.1 L143.8 137.5 L144.1 137.9 L144.8 138.0 L145.6 137.9 Z"/>
<path d="M94.8 187.5 L94.4 186.9 L93.5 186.7 L92.6 186.9 L92.2 187.5 L92.6 188.0 L93.5 188.3 L94.4 188.0 Z"/>
<path d="M90.1 189.3 L90.0 189.0 L89.6 188.9 L89.3 189.0 L89.1 189.3 L89.3 189.6 L89.6 189.7 L90.0 189.6 Z"/>
<path d="M97.3 186.6 L97.1 186.3 L96.6 186.2 L96.2 186.3 L96.0 186.6 L96.2 186.8 L96.6 187.0 L97.1 186.8 Z"/>
<path d="M1001.9 129.2 L1001.7 128.9 L1001.1 128.7 L1000.6 128.9 L1000.3 129.2 L1000.6 129.6 L1001.1 129.7 L1001.7 129.6 Z"/>
<path d="M1016.7 133.6 L1016.4 132.7 L1015.9 132.3 L1015.3 132.7 L1015.1 133.6 L1015.3 134.5 L1015.9 134.9 L1016.4 134.5 Z"/>
<path d="M1012.3 137.3 L1012.0 136.9 L1011.2 136.7 L1010.5 136.9 L1010.2 137.3 L1010.5 137.6 L1011.2 137.8 L1012.0 137.6 Z"/>
<path d="M1004.0 141.4 L1003.6 140.5 L1002.7 140.1 L1001.8 140.5 L1001.4 141.4 L1001.8 142.3 L1002.7 142.7 L1003.6 142.3 Z"/>
<path d="M1001.4 140.4 L1001.1 139.4 L1000.3 139.1 L999.6 139.4 L999.3 140.4 L999.6 141.3 L1000.3 141.7 L1001.1 141.3 Z"/>
<path d="M1007.9 149.7 L1007.7 149.3 L1007.3 149.2 L1007.0 149.3 L1006.8 149.7 L1007.0 150.0 L1007.3 150.2 L1007.7 150.0 Z"/>
<path d="M1003.7 145.5 L1003.5 145.0 L1002.9 144.8 L1002.4 145.0 L1002.2 145.5 L1002.4 146.1 L1002.9 146.3 L1003.5 146.1 Z"/>
<path d="M136.0 97.1 L135.8 96.8 L135.2 96.6 L134.7 96.8 L134.5 97.1 L134.7 97.5 L135.2 97.6 L135.8 97.5 Z"/>
<path d="M998.3 106.2 L997.9 105.8 L997.0 105.7 L996.1 105.8 L995.7 106.2 L996.1 106.6 L997.0 106.7 L997.9 106.6 Z"/>
<path d="M149.5 191.2 L149.4 190.5 L148.6 189.7 L147.6 189.3 L146.9 189.5 L147.0 190.2 L147.8 191.0 L148.8 191.4 Z"/>
<path d="M152.3 194.0 L152.2 193.6 L151.8 193.4 L151.5 193.6 L151.3 194.0 L151.5 194.3 L151.8 194.5 L152.2 194.3 Z"/>
<path d="M155.7 188.5 L155.5 188.1 L154.9 188.0 L154.4 188.1 L154.2 188.5 L154.4 188.9 L154.9 189.0 L155.5 188.9 Z"/>
<path d="M159.3 196.0 L159.1 195.7 L158.6 195.5 L158.0 195.7 L157.8 196.0 L158.0 196.4 L158.6 196.5 L159.1 196.4 Z"/>
<path d="M859.1 161.6 L858.0 161.2 L855.6 161.3 L853.3 161.9 L852.4 162.6 L853.5 163.0 L855.8 162.9 L858.2 162.3 Z"/>
<path d="M857.8 169.9 L857.0 169.3 L855.2 169.1 L853.4 169.3 L852.6 169.9 L853.4 170.4 L855.2 170.7 L857.0 170.4 Z"/>
<path d="M831.9 184.4 L831.1 184.1 L829.3 184.0 L827.5 184.1 L826.7 184.4 L827.5 184.6 L829.3 184.8 L831.1 184.6 Z"/>
<path d="M677.6 151.9 L676.7 150.3 L675.6 149.8 L675.0 150.8 L675.1 152.7 L676.0 154.3 L677.1 154.7 L677.8 153.7 Z"/>
<path d="M623.7 140.0 L622.7 139.5 L621.1 140.0 L619.8 141.1 L619.7 142.3 L620.7 142.7 L622.3 142.3 L623.6 141.2 Z"/>
<path d="M582.0 125.9 L581.0 125.1 L578.4 124.8 L575.9 125.1 L574.8 125.9 L575.9 126.6 L578.4 126.9 L581.0 126.6 Z"/>
<path d="M590.3 134.4 L589.9 133.9 L588.8 133.6 L587.7 133.9 L587.2 134.4 L587.7 135.0 L588.8 135.2 L589.9 135.0 Z"/>
<path d="M815.6 129.0 L814.8 128.4 L813.0 128.2 L811.1 128.4 L810.4 129.0 L811.1 129.5 L813.0 129.7 L814.8 129.5 Z"/>
<path d="M808.0 127.4 L807.6 127.1 L806.5 126.9 L805.4 127.1 L804.9 127.4 L805.4 127.8 L806.5 127.9 L807.6 127.8 Z"/>
<path d="M813.0 144.2 L812.6 143.9 L811.7 143.7 L810.8 143.9 L810.4 144.2 L810.8 144.6 L811.7 144.8 L812.6 144.6 Z"/>
<path d="M796.9 129.5 L796.7 129.1 L796.1 129.0 L795.6 129.1 L795.3 129.5 L795.6 129.9 L796.1 130.0 L796.7 129.9 Z"/>
<path d="M764.2 109.8 L763.9 109.1 L762.9 108.8 L762.0 109.1 L761.6 109.8 L762.0 110.5 L762.9 110.8 L763.9 110.5 Z"/>
<path d="M453.2 173.0 L453.1 172.7 L452.7 172.6 L452.4 172.7 L452.2 173.0 L452.4 173.3 L452.7 173.4 L453.1 173.3 Z"/>
<path d="M422.9 216.5 L422.7 216.1 L422.1 216.0 L421.6 216.1 L421.4 216.5 L421.6 216.8 L422.1 217.0 L422.7 216.8 Z"/>
<path d="M418.5 220.7 L418.0 220.7 L417.5 221.1 L417.0 221.7 L417.0 222.1 L417.4 222.1 L418.0 221.7 L418.4 221.1 Z"/>
<path d="M408.7 226.8 L408.4 226.6 L407.9 226.4 L407.3 226.6 L407.1 226.8 L407.3 227.1 L407.9 227.2 L408.4 227.1 Z"/>
<path d="M414.9 203.5 L414.6 203.2 L413.8 203.0 L413.1 203.2 L412.8 203.5 L413.1 203.9 L413.8 204.0 L414.6 203.9 Z"/>
<path d="M401.9 256.3 L401.5 255.8 L400.6 255.6 L399.7 255.8 L399.3 256.3 L399.7 256.9 L400.6 257.1 L401.5 256.9 Z"/>
<path d="M403.0 257.6 L402.7 257.1 L402.2 256.9 L401.6 257.1 L401.4 257.6 L401.6 258.2 L402.2 258.4 L402.7 258.2 Z"/>
<path d="M398.6 315.1 L398.1 314.7 L397.0 314.6 L395.9 314.7 L395.4 315.1 L395.9 315.5 L397.0 315.6 L398.1 315.5 Z"/>
<path d="M417.7 299.3 L417.4 298.8 L416.4 298.5 L415.5 298.8 L415.1 299.3 L415.5 299.9 L416.4 300.1 L417.4 299.9 Z"/>
<path d="M427.6 299.8 L427.4 299.5 L426.8 299.3 L426.3 299.5 L426.0 299.8 L426.3 300.2 L426.8 300.4 L427.4 300.2 Z"/>
<path d="M435.9 305.8 L435.5 304.7 L434.6 304.2 L433.7 304.7 L433.3 305.8 L433.7 306.9 L434.6 307.3 L435.5 306.9 Z"/>
<path d="M414.1 310.5 L413.8 310.1 L413.1 309.9 L412.3 310.1 L412.0 310.5 L412.3 310.8 L413.1 311.0 L413.8 310.8 Z"/>
<path d="M425.2 310.7 L424.9 310.2 L424.2 309.9 L423.5 310.2 L423.2 310.7 L423.5 311.3 L424.2 311.5 L424.9 311.3 Z"/>
<path d="M409.7 311.7 L409.4 311.4 L408.7 311.2 L407.9 311.4 L407.6 311.7 L407.9 312.1 L408.7 312.3 L409.4 312.1 Z"/>
<path d="M432.0 292.3 L431.6 292.0 L430.7 291.8 L429.8 292.0 L429.4 292.3 L429.8 292.7 L430.7 292.8 L431.6 292.7 Z"/>
<path d="M439.0 292.8 L438.6 292.5 L437.7 292.3 L436.8 292.5 L436.4 292.8 L436.8 293.2 L437.7 293.4 L438.6 293.2 Z"/>
<path d="M426.0 292.3 L425.8 292.0 L425.2 291.8 L424.7 292.0 L424.5 292.3 L424.7 292.7 L425.2 292.8 L425.8 292.7 Z"/>
<path d="M412.8 294.9 L412.4 294.6 L411.3 294.4 L410.2 294.6 L409.7 294.9 L410.2 295.3 L411.3 295.4 L412.4 295.3 Z"/>
<path d="M417.5 286.1 L417.4 285.2 L417.2 284.8 L417.0 285.2 L417.0 286.1 L417.0 287.0 L417.2 287.4 L417.4 287.0 Z"/>
<path d="M411.5 280.9 L411.4 280.6 L411.0 280.4 L410.6 280.6 L410.5 280.9 L410.6 281.3 L411.0 281.5 L411.4 281.3 Z"/>
<path d="M404.0 302.4 L403.8 301.5 L403.5 301.1 L403.1 301.5 L403.0 302.4 L403.1 303.3 L403.5 303.7 L403.8 303.3 Z"/>
<path d="M405.8 301.9 L405.7 301.2 L405.3 300.9 L404.9 301.2 L404.8 301.9 L404.9 302.6 L405.3 302.9 L405.7 302.6 Z"/>
<path d="M410.0 294.4 L409.5 294.0 L408.4 293.9 L407.3 294.0 L406.8 294.4 L407.3 294.8 L408.4 294.9 L409.5 294.8 Z"/>
<path d="M405.0 293.6 L404.8 293.3 L404.3 293.1 L403.7 293.3 L403.5 293.6 L403.7 294.0 L404.3 294.1 L404.8 294.0 Z"/>
<path d="M363.5 296.4 L363.1 295.3 L361.6 294.5 L359.9 294.3 L359.0 295.0 L359.4 296.1 L360.9 296.9 L362.5 297.1 Z"/>
<path d="M366.9 297.2 L366.5 296.3 L365.4 296.0 L364.3 296.3 L363.8 297.2 L364.3 298.2 L365.4 298.5 L366.5 298.2 Z"/>
<path d="M357.9 290.8 L357.6 290.0 L356.8 289.7 L356.1 290.0 L355.8 290.8 L356.1 291.5 L356.8 291.8 L357.6 291.5 Z"/>
<path d="M340.7 287.1 L340.1 286.4 L339.5 286.2 L339.1 286.8 L339.3 287.7 L339.8 288.5 L340.5 288.6 L340.8 288.0 Z"/>
<path d="M343.9 293.9 L343.6 293.0 L343.1 292.6 L342.5 293.0 L342.3 293.9 L342.5 294.8 L343.1 295.2 L343.6 294.8 Z"/>
<path d="M351.4 303.7 L351.2 303.4 L350.9 303.2 L350.5 303.4 L350.4 303.7 L350.5 304.1 L350.9 304.2 L351.2 304.1 Z"/>
<path d="M388.4 312.3 L388.1 311.7 L387.4 311.5 L386.7 311.7 L386.4 312.3 L386.7 312.8 L387.4 313.0 L388.1 312.8 Z"/>
<path d="M382.2 308.1 L381.8 307.8 L380.7 307.7 L379.6 307.8 L379.1 308.1 L379.6 308.4 L380.7 308.5 L381.8 308.4 Z"/>
<path d="M379.4 308.1 L379.1 307.9 L378.6 307.9 L378.0 307.9 L377.8 308.1 L378.0 308.3 L378.6 308.4 L379.1 308.3 Z"/>
<path d="M475.5 302.9 L475.3 302.6 L474.8 302.4 L474.2 302.6 L474.0 302.9 L474.2 303.3 L474.8 303.5 L475.3 303.3 Z"/>
<path d="M468.5 295.4 L468.1 295.1 L467.0 294.9 L465.9 295.1 L465.4 295.4 L465.9 295.8 L467.0 296.0 L468.1 295.8 Z"/>
<path d="M477.3 314.6 L477.1 314.0 L476.6 313.8 L476.0 314.0 L475.8 314.6 L476.0 315.1 L476.6 315.4 L477.1 315.1 Z"/>
<path d="M482.3 317.7 L482.0 317.2 L481.2 316.9 L480.5 317.2 L480.2 317.7 L480.5 318.3 L481.2 318.5 L482.0 318.3 Z"/>
<path d="M522.2 490.6 L521.0 490.1 L518.3 489.9 L515.5 490.1 L514.4 490.6 L515.5 491.2 L518.3 491.4 L521.0 491.2 Z"/>
<path d="M80.0 473.4 L86.0 473.4 L103.8 471.3 L120.0 471.3 L144.7 472.6 L160.0 470.0 L171.3 468.1 L176.0 467.0 L185.6 471.3 L192.7 467.2 L214.0 463.7 L221.1 460.6 L233.6 461.9 L246.0 463.7 L265.6 464.9 L269.1 471.7 L275.0 469.0 L286.0 468.1 L311.1 463.3 L346.7 461.2 L382.2 460.4 L417.8 462.2 L453.3 464.0 L480.0 467.6 L503.1 471.1 L528.0 474.7 L526.2 478.2 L510.2 482.7 L507.6 487.1 L512.0 491.6 L501.3 494.2 L502.2 498.7 L515.6 503.1 L551.1 507.6 L586.7 510.2 L622.2 511.1 L640.0 510.2 L622.2 505.8 L618.7 500.4 L640.0 498.7 L625.8 495.1 L615.1 491.6 L609.8 489.8 L631.1 488.0 L640.0 486.2 L657.8 484.4 L680.0 483.6 L693.3 482.5 L728.9 481.8 L764.4 480.4 L800.0 478.3 L815.0 478.0 L826.7 478.5 L835.0 481.0 L842.0 485.0 L844.8 487.0 L844.8 478.0 L847.0 467.3 L853.0 458.8 L862.0 455.0 L868.0 453.8 L874.7 453.5 L866.0 459.0 L858.7 467.3 L860.8 478.0 L859.7 485.5 L856.0 488.3 L864.0 488.7 L885.3 491.9 L906.7 494.0 L922.7 492.4 L943.1 486.3 L963.6 481.2 L984.0 476.1 L994.2 474.0 L1004.5 473.6 L1019.0 473.0 L1025.0 473.0 L1025.0 540.0 L80.0 540.0 Z"/>
<path d="M772.0 80.0 L785.0 76.0 L800.0 74.0 L830.0 73.5 L856.0 76.0 L858.0 78.0 L845.0 82.0 L834.0 85.6 L826.0 90.0 L810.0 92.0 L790.0 93.0 L776.0 91.0 L770.0 86.0 Z"/>
<path d="M782.4 97.0 L798.9 95.3 L816.6 95.3 L832.0 97.6 L829.6 103.5 L813.1 105.3 L793.0 104.7 L782.4 101.2 Z"/>
<path d="M692.2 97.3 L699.3 95.0 L711.1 95.5 L717.0 99.7 L715.8 106.8 L706.4 109.1 L696.9 107.9 L692.2 103.2 Z"/>
<path d="M712.7 100.2 L723.3 97.9 L741.0 98.5 L755.2 100.2 L759.9 106.1 L752.8 112.0 L735.1 113.2 L717.4 112.0 L712.7 107.3 Z"/>
<path d="M693.5 89.7 L708.9 86.2 L726.6 85.6 L740.7 87.4 L739.5 94.5 L723.0 96.8 L704.1 96.8 L694.7 94.5 Z"/>
<path d="M737.6 85.3 L751.7 83.0 L770.6 84.2 L773.0 92.4 L761.2 96.0 L743.5 96.0 L736.4 91.2 Z"/>
<path d="M755.7 97.3 L769.9 95.5 L784.0 96.1 L786.4 103.2 L779.3 109.1 L764.0 109.1 L755.7 104.3 Z"/>
<path d="M761.1 78.5 L770.6 76.7 L775.3 84.4 L767.0 86.7 L760.0 83.2 Z"/>
</g>
<g fill="#fff" stroke="#000" stroke-width="1.3">
<path d="M213.0 169.6 L219.5 168.3 L223.4 169.6 L223.4 173.5 L219.0 174.8 L216.9 176.1 L220.8 181.3 L223.4 183.9 L223.4 186.4 L224.7 189.0 L225.7 192.9 L219.5 194.7 L214.3 192.9 L212.5 190.3 L213.8 186.4 L214.3 184.9 L210.4 181.3 L209.1 178.7 L208.6 174.8 L207.3 172.2 L209.1 170.9 Z"/>
<path d="M238.9 170.9 L245.4 169.6 L245.4 174.8 L238.9 177.4 L237.6 173.5 Z"/>
<path d="M355.5 156.4 L360.7 154.1 L365.9 151.5 L369.8 145.8 L368.5 146.3 L363.3 152.0 L358.1 155.4 L354.8 156.2 Z"/>
<path d="M277.8 168.8 L290.7 170.1 L290.7 169.4 L277.8 168.3 Z"/>
<path d="M171.5 290.8 L174.1 292.6 L172.8 296.5 L168.9 295.2 L168.4 291.3 Z"/>
<path d="M780.6 169.1 L788.3 165.7 L798.7 168.3 L800.0 169.6 L793.5 169.6 L785.8 169.4 Z"/>
<path d="M792.2 170.9 L798.7 170.9 L795.3 176.1 L794.8 181.3 L791.5 181.3 L792.2 174.8 Z"/>
<path d="M800.0 170.9 L809.1 170.9 L811.7 174.8 L805.2 178.7 L802.6 176.1 L801.3 172.2 Z"/>
<path d="M802.6 182.0 L814.3 179.2 L814.3 180.0 L805.2 182.6 Z"/>
<path d="M812.2 177.9 L821.3 176.1 L821.5 177.4 L813.0 178.2 Z"/>
<path d="M695.0 119.1 L708.0 116.5 L713.2 119.1 L705.4 121.7 L697.6 121.7 Z"/>
<path d="M715.8 132.1 L726.1 128.2 L731.3 129.5 L723.5 132.1 L718.4 132.6 Z"/>
<path d="M161.7 298.5 L163.5 301.6 L165.3 306.8 L166.9 312.3 L165.8 312.5 L164.3 308.1 L162.2 302.9 L161.2 299.1 Z"/>
<path d="M174.1 314.6 L175.7 317.2 L177.2 324.9 L177.5 327.3 L176.2 326.2 L174.6 319.8 L173.9 315.9 Z"/>
<path d="M121.0 256.3 L123.8 254.8 L124.4 256.9 L122.0 257.4 Z"/>
<path d="M765.0 158.0 L767.6 155.4 L766.3 150.7 L762.9 152.8 L762.4 156.7 Z"/>
</g>
</g>
<rect x="357.8" y="180.7" width="70.7" height="72.1" fill="none" stroke="#000" stroke-width="1.6"/>
<rect x="86.0" y="57.0" width="933.0" height="466.0" fill="none" stroke="#000" stroke-width="2"/>
<g stroke="#000" stroke-linecap="butt"><line x1="86.0" y1="57.0" x2="86.0" y2="41.0" stroke-width="2"/><line x1="86.0" y1="523.0" x2="86.0" y2="539.0" stroke-width="2"/><line x1="111.5" y1="57.0" x2="111.5" y2="49.0" stroke-width="1"/><line x1="111.5" y1="523.0" x2="111.5" y2="531.0" stroke-width="1"/><line x1="137.5" y1="57.0" x2="137.5" y2="49.0" stroke-width="1"/><line x1="137.5" y1="523.0" x2="137.5" y2="531.0" stroke-width="1"/><line x1="164.0" y1="57.0" x2="164.0" y2="41.0" stroke-width="2"/><line x1="164.0" y1="523.0" x2="164.0" y2="539.0" stroke-width="2"/><line x1="189.5" y1="57.0" x2="189.5" y2="49.0" stroke-width="1"/><line x1="189.5" y1="523.0" x2="189.5" y2="531.0" stroke-width="1"/><line x1="215.5" y1="57.0" x2="215.5" y2="49.0" stroke-width="1"/><line x1="215.5" y1="523.0" x2="215.5" y2="531.0" stroke-width="1"/><line x1="242.0" y1="57.0" x2="242.0" y2="41.0" stroke-width="2"/><line x1="242.0" y1="523.0" x2="242.0" y2="539.0" stroke-width="2"/><line x1="267.5" y1="57.0" x2="267.5" y2="49.0" stroke-width="1"/><line x1="267.5" y1="523.0" x2="267.5" y2="531.0" stroke-width="1"/><line x1="293.5" y1="57.0" x2="293.5" y2="49.0" stroke-width="1"/><line x1="293.5" y1="523.0" x2="293.5" y2="531.0" stroke-width="1"/><line x1="319.0" y1="57.0" x2="319.0" y2="41.0" stroke-width="2"/><line x1="319.0" y1="523.0" x2="319.0" y2="539.0" stroke-width="2"/><line x1="345.5" y1="57.0" x2="345.5" y2="49.0" stroke-width="1"/><line x1="345.5" y1="523.0" x2="345.5" y2="531.0" stroke-width="1"/><line x1="371.5" y1="57.0" x2="371.5" y2="49.0" stroke-width="1"/><line x1="371.5" y1="523.0" x2="371.5" y2="531.0" stroke-width="1"/><line x1="397.0" y1="57.0" x2="397.0" y2="41.0" stroke-width="2"/><line x1="397.0" y1="523.0" x2="397.0" y2="539.0" stroke-width="2"/><line x1="422.5" y1="57.0" x2="422.5" y2="49.0" stroke-width="1"/><line x1="422.5" y1="523.0" x2="422.5" y2="531.0" stroke-width="1"/><line x1="448.5" y1="57.0" x2="448.5" y2="49.0" stroke-width="1"/><line x1="448.5" y1="523.0" x2="448.5" y2="531.0" stroke-width="1"/><line x1="475.0" y1="57.0" x2="475.0" y2="41.0" stroke-width="2"/><line x1="475.0" y1="523.0" x2="475.0" y2="539.0" stroke-width="2"/><line x1="500.5" y1="57.0" x2="500.5" y2="49.0" stroke-width="1"/><line x1="500.5" y1="523.0" x2="500.5" y2="531.0" stroke-width="1"/><line x1="526.5" y1="57.0" x2="526.5" y2="49.0" stroke-width="1"/><line x1="526.5" y1="523.0" x2="526.5" y2="531.0" stroke-width="1"/><line x1="552.0" y1="57.0" x2="552.0" y2="41.0" stroke-width="2"/><line x1="552.0" y1="523.0" x2="552.0" y2="539.0" stroke-width="2"/><line x1="578.5" y1="57.0" x2="578.5" y2="49.0" stroke-width="1"/><line x1="578.5" y1="523.0" x2="578.5" y2="531.0" stroke-width="1"/><line x1="604.5" y1="57.0" x2="604.5" y2="49.0" stroke-width="1"/><line x1="604.5" y1="523.0" x2="604.5" y2="531.0" stroke-width="1"/><line x1="630.0" y1="57.0" x2="630.0" y2="41.0" stroke-width="2"/><line x1="630.0" y1="523.0" x2="630.0" y2="539.0" stroke-width="2"/><line x1="656.5" y1="57.0" x2="656.5" y2="49.0" stroke-width="1"/><line x1="656.5" y1="523.0" x2="656.5" y2="531.0" stroke-width="1"/><line x1="682.5" y1="57.0" x2="682.5" y2="49.0" stroke-width="1"/><line x1="682.5" y1="523.0" x2="682.5" y2="531.0" stroke-width="1"/><line x1="708.0" y1="57.0" x2="708.0" y2="41.0" stroke-width="2"/><line x1="708.0" y1="523.0" x2="708.0" y2="539.0" stroke-width="2"/><line x1="733.5" y1="57.0" x2="733.5" y2="49.0" stroke-width="1"/><line x1="733.5" y1="523.0" x2="733.5" y2="531.0" stroke-width="1"/><line x1="759.5" y1="57.0" x2="759.5" y2="49.0" stroke-width="1"/><line x1="759.5" y1="523.0" x2="759.5" y2="531.0" stroke-width="1"/><line x1="786.0" y1="57.0" x2="786.0" y2="41.0" stroke-width="2"/><line x1="786.0" y1="523.0" x2="786.0" y2="539.0" stroke-width="2"/><line x1="811.5" y1="57.0" x2="811.5" y2="49.0" stroke-width="1"/><line x1="811.5" y1="523.0" x2="811.5" y2="531.0" stroke-width="1"/><line x1="837.5" y1="57.0" x2="837.5" y2="49.0" stroke-width="1"/><line x1="837.5" y1="523.0" x2="837.5" y2="531.0" stroke-width="1"/><line x1="864.0" y1="57.0" x2="864.0" y2="41.0" stroke-width="2"/><line x1="864.0" y1="523.0" x2="864.0" y2="539.0" stroke-width="2"/><line x1="889.5" y1="57.0" x2="889.5" y2="49.0" stroke-width="1"/><line x1="889.5" y1="523.0" x2="889.5" y2="531.0" stroke-width="1"/><line x1="915.5" y1="57.0" x2="915.5" y2="49.0" stroke-width="1"/><line x1="915.5" y1="523.0" x2="915.5" y2="531.0" stroke-width="1"/><line x1="941.0" y1="57.0" x2="941.0" y2="41.0" stroke-width="2"/><line x1="941.0" y1="523.0" x2="941.0" y2="539.0" stroke-width="2"/><line x1="967.5" y1="57.0" x2="967.5" y2="49.0" stroke-width="1"/><line x1="967.5" y1="523.0" x2="967.5" y2="531.0" stroke-width="1"/><line x1="993.5" y1="57.0" x2="993.5" y2="49.0" stroke-width="1"/><line x1="993.5" y1="523.0" x2="993.5" y2="531.0" stroke-width="1"/><line x1="1019.0" y1="57.0" x2="1019.0" y2="41.0" stroke-width="2"/><line x1="1019.0" y1="523.0" x2="1019.0" y2="539.0" stroke-width="2"/><line x1="86.0" y1="523.0" x2="70.0" y2="523.0" stroke-width="2"/><line x1="1019.0" y1="523.0" x2="1035.0" y2="523.0" stroke-width="2"/><line x1="86.0" y1="497.5" x2="78.0" y2="497.5" stroke-width="1"/><line x1="1019.0" y1="497.5" x2="1027.0" y2="497.5" stroke-width="1"/><line x1="86.0" y1="471.5" x2="78.0" y2="471.5" stroke-width="1"/><line x1="1019.0" y1="471.5" x2="1027.0" y2="471.5" stroke-width="1"/><line x1="86.0" y1="445.0" x2="70.0" y2="445.0" stroke-width="2"/><line x1="1019.0" y1="445.0" x2="1035.0" y2="445.0" stroke-width="2"/><line x1="86.0" y1="419.5" x2="78.0" y2="419.5" stroke-width="1"/><line x1="1019.0" y1="419.5" x2="1027.0" y2="419.5" stroke-width="1"/><line x1="86.0" y1="393.5" x2="78.0" y2="393.5" stroke-width="1"/><line x1="1019.0" y1="393.5" x2="1027.0" y2="393.5" stroke-width="1"/><line x1="86.0" y1="368.0" x2="70.0" y2="368.0" stroke-width="2"/><line x1="1019.0" y1="368.0" x2="1035.0" y2="368.0" stroke-width="2"/><line x1="86.0" y1="341.5" x2="78.0" y2="341.5" stroke-width="1"/><line x1="1019.0" y1="341.5" x2="1027.0" y2="341.5" stroke-width="1"/><line x1="86.0" y1="315.5" x2="78.0" y2="315.5" stroke-width="1"/><line x1="1019.0" y1="315.5" x2="1027.0" y2="315.5" stroke-width="1"/><line x1="86.0" y1="290.0" x2="70.0" y2="290.0" stroke-width="2"/><line x1="1019.0" y1="290.0" x2="1035.0" y2="290.0" stroke-width="2"/><line x1="86.0" y1="264.5" x2="78.0" y2="264.5" stroke-width="1"/><line x1="1019.0" y1="264.5" x2="1027.0" y2="264.5" stroke-width="1"/><line x1="86.0" y1="238.5" x2="78.0" y2="238.5" stroke-width="1"/><line x1="1019.0" y1="238.5" x2="1027.0" y2="238.5" stroke-width="1"/><line x1="86.0" y1="212.0" x2="70.0" y2="212.0" stroke-width="2"/><line x1="1019.0" y1="212.0" x2="1035.0" y2="212.0" stroke-width="2"/><line x1="86.0" y1="186.5" x2="78.0" y2="186.5" stroke-width="1"/><line x1="1019.0" y1="186.5" x2="1027.0" y2="186.5" stroke-width="1"/><line x1="86.0" y1="160.5" x2="78.0" y2="160.5" stroke-width="1"/><line x1="1019.0" y1="160.5" x2="1027.0" y2="160.5" stroke-width="1"/><line x1="86.0" y1="135.0" x2="70.0" y2="135.0" stroke-width="2"/><line x1="1019.0" y1="135.0" x2="1035.0" y2="135.0" stroke-width="2"/><line x1="86.0" y1="108.5" x2="78.0" y2="108.5" stroke-width="1"/><line x1="1019.0" y1="108.5" x2="1027.0" y2="108.5" stroke-width="1"/><line x1="86.0" y1="82.5" x2="78.0" y2="82.5" stroke-width="1"/><line x1="1019.0" y1="82.5" x2="1027.0" y2="82.5" stroke-width="1"/><line x1="86.0" y1="57.0" x2="70.0" y2="57.0" stroke-width="2"/><line x1="1019.0" y1="57.0" x2="1035.0" y2="57.0" stroke-width="2"/></g>
<g font-size="30" fill="#000"><text transform="translate(51.3 67.1) scale(0.97 1)" text-anchor="end">90N</text><text transform="translate(51.3 144.8) scale(0.97 1)" text-anchor="end">60N</text><text transform="translate(51.3 222.4) scale(0.97 1)" text-anchor="end">30N</text><text transform="translate(51.3 300.1) scale(0.97 1)" text-anchor="end">0</text><text transform="translate(51.3 377.8) scale(0.97 1)" text-anchor="end">30S</text><text transform="translate(51.3 455.4) scale(0.97 1)" text-anchor="end">60S</text><text transform="translate(51.3 533.1) scale(0.97 1)" text-anchor="end">90S</text><text transform="translate(86.0 580.3) scale(0.97 1)" text-anchor="middle">0</text><text transform="translate(163.8 580.3) scale(0.97 1)" text-anchor="middle">30E</text><text transform="translate(241.5 580.3) scale(0.97 1)" text-anchor="middle">60E</text><text transform="translate(319.2 580.3) scale(0.97 1)" text-anchor="middle">90E</text><text transform="translate(397.0 580.3) scale(0.97 1)" text-anchor="middle">120E</text><text transform="translate(474.8 580.3) scale(0.97 1)" text-anchor="middle">150E</text><text transform="translate(552.5 580.3) scale(0.97 1)" text-anchor="middle">180</text><text transform="translate(630.2 580.3) scale(0.97 1)" text-anchor="middle">150W</text><text transform="translate(708.0 580.3) scale(0.97 1)" text-anchor="middle">120W</text><text transform="translate(785.8 580.3) scale(0.97 1)" text-anchor="middle">90W</text><text transform="translate(863.5 580.3) scale(0.97 1)" text-anchor="middle">60W</text><text transform="translate(941.2 580.3) scale(0.97 1)" text-anchor="middle">30W</text><text transform="translate(1019.0 580.3) scale(0.97 1)" text-anchor="middle">0</text></g>
<text transform="translate(84.2 26.0) scale(0.972 1)" font-size="36">(a) LNDICE</text>
<clipPath id="clip1"><rect x="86.0" y="673.0" width="933.0" height="466.0"/></clipPath>
<g clip-path="url(#clip1)">
<rect x="86.0" y="673.0" width="933.0" height="466.0" fill="#ffffff"/>
<path d="M86.0 684.9 C86.0 684.9 100.2 687.0 108.0 688.0 C117.0 689.1 128.1 690.0 137.0 691.0 C144.6 691.8 154.7 690.8 158.0 693.5 C159.9 695.1 159.6 697.6 160.0 700.0 C160.4 702.7 158.2 707.2 160.0 709.0 C162.7 711.7 173.3 709.3 180.0 709.0 C186.9 708.7 194.0 707.7 201.0 707.0 C208.0 706.3 215.3 705.6 222.0 705.0 C228.2 704.4 233.4 704.3 240.0 703.5 C248.0 702.5 257.8 700.4 266.7 699.3 C275.6 698.2 284.4 697.1 293.3 696.7 C302.2 696.3 311.1 696.5 320.0 696.7 C328.9 696.9 337.3 697.8 346.7 698.0 C357.2 698.3 367.6 698.6 380.0 698.0 C395.7 697.2 415.5 694.3 433.3 692.7 C451.1 691.2 468.9 689.8 486.7 688.7 C504.5 687.6 522.2 686.9 540.0 686.0 C557.8 685.1 575.5 684.4 593.3 683.3 C611.1 682.2 631.0 680.2 646.7 679.3 C659.1 678.6 666.5 678.3 680.0 678.0 C700.9 677.5 731.8 677.7 760.0 677.5 C791.5 677.3 826.7 676.9 860.0 677.0 C893.3 677.1 934.2 677.2 960.0 678.0 C976.3 678.5 989.1 679.1 1000.0 680.0 C1007.5 680.6 1019.0 682.3 1019.0 682.3 L1019.0 830.0 C1019.0 830.0 996.7 826.9 990.0 830.0 C985.1 832.3 984.2 839.4 979.9 841.7 C975.5 844.1 969.3 844.0 963.6 843.8 C957.1 843.6 944.9 843.0 943.1 839.7 C941.8 837.3 946.8 833.6 947.2 829.5 C947.7 823.9 945.8 814.6 943.1 809.0 C940.7 804.1 936.9 798.0 932.9 797.0 C929.1 796.0 925.6 800.9 920.0 802.0 C910.8 803.9 893.8 802.6 881.8 803.0 C871.0 803.3 860.3 803.2 851.0 804.0 C843.3 804.7 835.6 805.5 830.0 807.0 C826.1 808.1 823.2 810.2 820.4 811.0 C818.4 811.6 816.7 812.9 815.0 812.0 C811.4 810.1 812.7 795.5 805.0 790.0 C789.0 778.6 713.3 794.7 700.0 780.0 C691.8 771.0 708.3 748.6 700.0 740.0 C686.2 725.7 604.4 730.3 590.0 736.0 C585.7 737.7 586.2 741.7 583.0 743.0 C579.0 744.7 570.9 745.3 567.0 743.0 C563.3 740.8 566.1 733.6 560.0 730.0 C528.8 711.2 217.4 715.0 170.0 728.0 C158.4 731.2 153.5 733.7 150.0 740.0 C146.0 747.1 155.9 763.9 150.0 770.0 C141.3 778.9 86.0 772.0 86.0 772.0 L86.0 684.9 Z" fill="#fef6d8"/>
<path d="M906.0 755.0 C906.5 751.0 910.7 745.5 915.0 743.0 C920.0 740.0 927.9 740.2 935.0 740.0 C942.9 739.7 952.2 740.5 960.0 742.0 C967.1 743.3 976.1 744.2 980.0 748.0 C983.0 750.9 984.8 756.4 984.0 760.0 C983.2 763.7 979.3 767.8 975.0 770.0 C969.1 773.1 958.3 773.0 950.0 773.0 C941.7 773.0 932.2 771.6 925.0 770.0 C919.3 768.7 913.1 768.0 910.0 765.0 C907.4 762.6 905.6 758.4 906.0 755.0 Z" fill="#ffffff"/>
<path d="M947.0 754.0 C947.0 754.3 946.9 754.7 946.7 755.0 C946.5 755.4 946.3 755.7 945.9 756.0 C945.6 756.3 945.1 756.6 944.7 756.8 C944.2 757.1 943.6 757.3 943.0 757.5 C942.4 757.6 941.7 757.8 941.1 757.9 C940.4 758.0 939.7 758.0 939.0 758.0 C938.3 758.0 937.6 758.0 936.9 757.9 C936.3 757.8 935.6 757.6 935.0 757.5 C934.4 757.3 933.8 757.1 933.3 756.8 C932.9 756.6 932.4 756.3 932.1 756.0 C931.7 755.7 931.5 755.4 931.3 755.0 C931.1 754.7 931.0 754.3 931.0 754.0 C931.0 753.7 931.1 753.3 931.3 753.0 C931.5 752.6 931.7 752.3 932.1 752.0 C932.4 751.7 932.9 751.4 933.3 751.2 C933.8 750.9 934.4 750.7 935.0 750.5 C935.6 750.4 936.3 750.2 936.9 750.1 C937.6 750.0 938.3 750.0 939.0 750.0 C939.7 750.0 940.4 750.0 941.1 750.1 C941.7 750.2 942.4 750.4 943.0 750.5 C943.6 750.7 944.2 750.9 944.7 751.2 C945.1 751.4 945.6 751.7 945.9 752.0 C946.3 752.3 946.5 752.6 946.7 753.0 C946.9 753.3 947.0 753.7 947.0 754.0 Z" fill="#e8f4fb"/>
<path d="M86.0 690.0 C86.0 690.0 119.9 695.8 133.3 699.3 C143.6 702.0 152.6 706.0 160.0 708.0 C165.2 709.4 168.1 710.4 173.3 711.0 C180.6 711.8 191.1 711.3 200.0 711.0 C208.9 710.7 217.8 709.8 226.7 709.0 C235.6 708.2 244.4 706.9 253.3 706.0 C262.2 705.0 271.1 704.2 280.0 703.3 C288.9 702.4 297.8 701.4 306.7 700.7 C315.6 700.0 323.2 699.4 333.3 699.3 C346.7 699.1 363.9 701.1 380.0 700.7 C397.2 700.3 415.5 698.0 433.3 696.7 C451.1 695.4 468.9 693.8 486.7 692.7 C504.5 691.6 522.2 690.9 540.0 690.0 C557.8 689.1 575.5 688.3 593.3 687.3 C611.1 686.3 631.0 685.1 646.7 684.1 C659.1 683.3 670.3 682.7 680.0 682.0 C687.5 681.5 690.1 680.8 700.0 680.4 C727.9 679.3 812.9 679.8 860.0 680.0 C897.2 680.1 934.2 679.9 960.0 681.0 C976.3 681.7 989.1 683.0 1000.0 684.0 C1007.5 684.7 1019.0 686.0 1019.0 686.0 L1019.0 700.0 C1019.0 700.0 1005.5 701.4 1000.0 703.0 C995.5 704.3 991.8 706.3 988.0 708.0 C984.5 709.6 980.7 710.9 978.0 713.0 C975.5 714.9 973.6 717.3 972.0 720.0 C970.2 722.9 969.6 727.0 968.0 730.0 C966.6 732.6 965.7 735.5 963.0 737.0 C959.1 739.1 951.1 737.4 945.0 738.0 C938.5 738.7 931.1 739.5 925.0 741.0 C919.6 742.3 913.7 743.7 910.0 746.0 C907.3 747.7 903.7 750.2 904.0 752.0 C904.3 754.2 910.7 756.1 915.0 758.0 C920.6 760.5 928.9 762.3 935.0 765.0 C940.5 767.4 945.7 769.8 950.0 773.0 C953.9 775.9 958.4 779.1 960.0 783.0 C961.5 786.6 961.9 791.8 960.0 795.0 C957.7 798.8 950.5 801.2 945.0 803.0 C939.0 805.0 932.1 805.7 925.0 806.0 C917.1 806.3 908.7 804.8 900.0 804.5 C890.5 804.1 879.5 803.7 870.0 804.0 C861.3 804.3 852.8 804.9 845.0 806.0 C837.9 807.0 830.5 808.9 825.0 810.0 C821.1 810.8 817.9 813.5 815.0 812.0 C810.6 809.7 812.7 795.5 805.0 790.0 C789.0 778.6 713.3 794.7 700.0 780.0 C691.8 771.0 708.3 748.6 700.0 740.0 C686.2 725.7 604.4 730.3 590.0 736.0 C585.7 737.7 586.2 741.7 583.0 743.0 C579.0 744.7 570.9 745.3 567.0 743.0 C563.3 740.8 566.1 733.6 560.0 730.0 C528.8 711.2 217.4 715.0 170.0 728.0 C158.4 731.2 153.5 733.7 150.0 740.0 C146.0 747.1 155.9 763.9 150.0 770.0 C141.3 778.9 86.0 772.0 86.0 772.0 L86.0 690.0 Z" fill="#fdd476"/>
<path d="M1008.0 712.0 C1010.5 709.6 1019.0 708.0 1019.0 708.0 L1019.0 790.0 C1019.0 790.0 1011.2 792.9 1008.0 792.0 C1004.9 791.1 1001.7 788.2 1000.0 785.0 C998.0 781.2 997.8 775.3 998.0 770.0 C998.2 763.8 1001.8 756.2 1002.0 750.0 C1002.2 744.7 999.6 739.8 1000.0 735.0 C1000.4 730.5 1002.6 726.0 1004.0 722.0 C1005.3 718.4 1005.6 714.3 1008.0 712.0 Z" fill="#fdd476"/>
<path d="M986.0 799.0 C986.0 799.5 985.9 800.1 985.8 800.6 C985.7 801.1 985.5 801.5 985.3 802.0 C985.1 802.4 984.8 802.9 984.5 803.2 C984.2 803.6 983.9 803.9 983.5 804.2 C983.1 804.5 982.7 804.7 982.3 804.8 C981.9 804.9 981.4 805.0 981.0 805.0 C980.6 805.0 980.1 804.9 979.7 804.8 C979.3 804.7 978.9 804.5 978.5 804.2 C978.1 803.9 977.8 803.6 977.5 803.2 C977.2 802.9 976.9 802.4 976.7 802.0 C976.5 801.5 976.3 801.1 976.2 800.6 C976.1 800.1 976.0 799.5 976.0 799.0 C976.0 798.5 976.1 797.9 976.2 797.4 C976.3 796.9 976.5 796.5 976.7 796.0 C976.9 795.6 977.2 795.1 977.5 794.8 C977.8 794.4 978.1 794.1 978.5 793.8 C978.9 793.5 979.3 793.3 979.7 793.2 C980.1 793.1 980.6 793.0 981.0 793.0 C981.4 793.0 981.9 793.1 982.3 793.2 C982.7 793.3 983.1 793.5 983.5 793.8 C983.9 794.1 984.2 794.4 984.5 794.8 C984.8 795.1 985.1 795.6 985.3 796.0 C985.5 796.5 985.7 796.9 985.8 797.4 C985.9 797.9 986.0 798.5 986.0 799.0 Z" fill="#fdd476"/>
<path d="M997.0 786.0 C997.0 786.3 996.9 786.5 996.8 786.8 C996.6 787.0 996.3 787.3 996.1 787.5 C995.7 787.7 995.4 787.9 994.9 788.1 C994.5 788.3 994.0 788.5 993.5 788.6 C993.0 788.7 992.4 788.8 991.8 788.9 C991.2 789.0 990.6 789.0 990.0 789.0 C989.4 789.0 988.8 789.0 988.2 788.9 C987.6 788.8 987.0 788.7 986.5 788.6 C986.0 788.5 985.5 788.3 985.1 788.1 C984.6 787.9 984.3 787.7 983.9 787.5 C983.7 787.3 983.4 787.0 983.2 786.8 C983.1 786.5 983.0 786.3 983.0 786.0 C983.0 785.7 983.1 785.5 983.2 785.2 C983.4 785.0 983.7 784.7 983.9 784.5 C984.3 784.3 984.6 784.1 985.1 783.9 C985.5 783.7 986.0 783.5 986.5 783.4 C987.0 783.3 987.6 783.2 988.2 783.1 C988.8 783.0 989.4 783.0 990.0 783.0 C990.6 783.0 991.2 783.0 991.8 783.1 C992.4 783.2 993.0 783.3 993.5 783.4 C994.0 783.5 994.5 783.7 994.9 783.9 C995.4 784.1 995.7 784.3 996.1 784.5 C996.3 784.7 996.6 785.0 996.8 785.2 C996.9 785.5 997.0 785.7 997.0 786.0 Z" fill="#fdd476"/>
<path d="M86.0 703.3 C86.0 703.3 99.4 705.1 106.7 706.0 C115.0 707.0 123.5 707.7 133.3 708.7 C145.3 709.9 161.3 711.8 173.3 712.7 C183.1 713.4 191.6 713.5 200.0 714.0 C207.5 714.4 213.5 715.5 221.3 715.3 C230.9 715.0 243.1 712.4 253.3 711.3 C262.6 710.3 271.1 709.6 280.0 708.7 C288.9 707.8 297.8 706.7 306.7 706.0 C315.6 705.3 323.2 705.1 333.3 704.7 C346.7 704.2 363.9 704.1 380.0 703.3 C397.2 702.4 415.5 700.5 433.3 699.3 C451.1 698.1 468.9 696.8 486.7 695.9 C504.5 695.0 522.2 694.8 540.0 694.0 C557.8 693.2 575.5 692.2 593.3 691.3 C611.1 690.4 631.0 689.4 646.7 688.7 C659.1 688.1 670.3 688.2 680.0 687.3 C687.5 686.6 690.1 685.2 700.0 684.5 C727.8 682.5 812.9 683.5 860.0 683.5 C897.2 683.5 934.2 682.6 960.0 684.0 C976.4 684.9 989.1 686.9 1000.0 688.0 C1007.5 688.8 1019.0 690.0 1019.0 690.0 L1019.0 700.0 C1019.0 700.0 1009.7 701.0 1005.0 702.0 C1000.1 703.0 995.0 704.4 990.0 706.0 C984.9 707.7 979.8 709.9 975.0 712.0 C970.5 713.9 966.2 715.8 962.0 718.0 C957.9 720.2 954.6 722.8 950.0 725.0 C944.3 727.8 936.2 730.3 930.0 733.0 C924.6 735.3 919.5 737.8 915.0 740.0 C911.3 741.8 908.3 743.6 905.0 745.0 C902.0 746.3 896.1 746.7 896.0 748.0 C895.9 749.6 903.9 751.8 908.0 754.0 C912.5 756.4 916.7 759.8 922.0 762.0 C928.2 764.6 937.1 765.3 943.0 768.0 C947.8 770.2 952.3 772.7 955.0 776.0 C957.3 778.9 959.9 783.3 959.0 786.0 C957.9 789.1 950.5 790.3 947.0 793.0 C943.9 795.4 942.5 799.3 939.0 801.0 C934.6 803.1 928.0 802.8 922.0 803.0 C915.1 803.2 907.9 802.3 900.0 802.0 C890.8 801.6 879.5 800.8 870.0 801.0 C861.3 801.2 852.5 802.0 845.0 803.0 C838.8 803.8 832.9 804.6 828.0 806.0 C824.2 807.1 820.3 808.8 818.0 810.0 C816.7 810.7 816.1 812.3 815.0 812.0 C812.2 811.2 812.7 795.5 805.0 790.0 C789.0 778.6 713.3 794.7 700.0 780.0 C691.8 771.0 708.3 748.6 700.0 740.0 C686.2 725.7 604.4 730.3 590.0 736.0 C585.7 737.7 586.2 741.7 583.0 743.0 C579.0 744.7 570.9 745.3 567.0 743.0 C563.3 740.8 566.1 733.6 560.0 730.0 C528.8 711.2 217.4 715.0 170.0 728.0 C158.4 731.2 153.5 733.7 150.0 740.0 C146.0 747.1 155.9 763.9 150.0 770.0 C141.3 778.9 86.0 772.0 86.0 772.0 L86.0 703.3 Z" fill="#f99d2c"/>
<path d="M1010.0 742.0 C1011.9 739.5 1019.0 738.0 1019.0 738.0 L1019.0 760.0 C1019.0 760.0 1009.7 759.6 1008.0 757.0 C1006.0 754.1 1007.6 745.1 1010.0 742.0 Z" fill="#f99d2c"/>
<path d="M995.0 748.0 C996.3 746.0 1002.1 744.3 1005.0 745.0 C1007.8 745.7 1012.1 749.8 1012.0 752.0 C1011.9 754.1 1007.6 757.5 1005.0 758.0 C1002.3 758.5 997.6 756.9 996.0 755.0 C994.6 753.3 993.9 749.7 995.0 748.0 Z" fill="#f99d2c"/>
<path d="M1001.0 717.5 C1001.0 717.8 1000.9 718.1 1000.7 718.4 C1000.5 718.7 1000.1 719.0 999.8 719.2 C999.4 719.5 998.9 719.8 998.4 720.0 C997.8 720.2 997.2 720.4 996.5 720.5 C995.8 720.7 995.1 720.8 994.3 720.9 C993.6 721.0 992.8 721.0 992.0 721.0 C991.2 721.0 990.4 721.0 989.7 720.9 C988.9 720.8 988.2 720.7 987.5 720.5 C986.8 720.4 986.2 720.2 985.6 720.0 C985.1 719.8 984.6 719.5 984.2 719.2 C983.9 719.0 983.5 718.7 983.3 718.4 C983.1 718.1 983.0 717.8 983.0 717.5 C983.0 717.2 983.1 716.9 983.3 716.6 C983.5 716.3 983.9 716.0 984.2 715.8 C984.6 715.5 985.1 715.2 985.6 715.0 C986.2 714.8 986.8 714.6 987.5 714.5 C988.2 714.3 988.9 714.2 989.7 714.1 C990.4 714.0 991.2 714.0 992.0 714.0 C992.8 714.0 993.6 714.0 994.3 714.1 C995.1 714.2 995.8 714.3 996.5 714.5 C997.2 714.6 997.8 714.8 998.4 715.0 C998.9 715.2 999.4 715.5 999.8 715.8 C1000.1 716.0 1000.5 716.3 1000.7 716.6 C1000.9 716.9 1001.0 717.2 1001.0 717.5 Z" fill="#ffffff"/>
<path d="M996.0 732.5 C996.0 732.6 996.0 732.8 995.9 732.9 C995.9 733.0 995.8 733.1 995.7 733.2 C995.6 733.4 995.4 733.5 995.3 733.6 C995.1 733.7 994.9 733.7 994.8 733.8 C994.6 733.9 994.4 733.9 994.1 733.9 C993.9 734.0 993.7 734.0 993.5 734.0 C993.3 734.0 993.1 734.0 992.9 733.9 C992.6 733.9 992.4 733.9 992.2 733.8 C992.1 733.7 991.9 733.7 991.7 733.6 C991.6 733.5 991.4 733.4 991.3 733.2 C991.2 733.1 991.1 733.0 991.1 732.9 C991.0 732.8 991.0 732.6 991.0 732.5 C991.0 732.4 991.0 732.2 991.1 732.1 C991.1 732.0 991.2 731.9 991.3 731.8 C991.4 731.6 991.6 731.5 991.7 731.4 C991.9 731.3 992.1 731.3 992.2 731.2 C992.4 731.1 992.6 731.1 992.9 731.1 C993.1 731.0 993.3 731.0 993.5 731.0 C993.7 731.0 993.9 731.0 994.1 731.1 C994.4 731.1 994.6 731.1 994.8 731.2 C994.9 731.3 995.1 731.3 995.3 731.4 C995.4 731.5 995.6 731.6 995.7 731.8 C995.8 731.9 995.9 732.0 995.9 732.1 C996.0 732.2 996.0 732.4 996.0 732.5 Z" fill="#ffffff"/>
<path d="M86.0 705.6 C86.0 705.6 95.7 708.7 101.3 709.8 C107.8 711.1 115.6 711.7 122.7 712.7 C129.8 713.6 136.9 715.0 144.0 715.5 C151.1 716.0 158.2 715.3 165.3 715.5 C172.4 715.7 179.6 716.5 186.7 717.0 C193.8 717.5 201.5 716.9 208.0 718.4 C213.8 719.7 224.2 723.1 224.0 724.7 C223.8 726.6 209.0 727.4 200.0 728.0 C188.4 728.8 172.4 727.6 160.0 728.0 C149.3 728.4 138.2 728.1 130.0 730.0 C124.0 731.4 118.7 732.8 115.0 736.0 C111.6 739.0 111.1 745.8 108.0 748.0 C105.4 749.8 101.5 748.3 98.5 749.7 C95.0 751.4 90.7 756.4 88.5 758.2 C87.4 759.1 86.0 760.0 86.0 760.0 L86.0 705.6 Z" fill="#ef6229"/>
<path d="M166.0 731.5 C169.3 728.2 187.1 728.3 191.0 731.5 C193.6 733.6 194.8 739.9 193.0 742.0 C190.2 745.4 169.5 745.5 166.0 742.0 C163.8 739.8 163.9 733.6 166.0 731.5 Z" fill="#ffffff"/>
<path d="M522.0 706.0 C522.1 704.0 533.3 702.0 540.0 700.7 C548.0 699.1 557.8 698.8 566.7 698.0 C575.6 697.2 582.9 696.6 593.3 695.9 C608.0 694.9 631.0 693.5 646.7 692.7 C659.1 692.1 670.3 692.4 680.0 691.3 C687.5 690.4 691.5 688.5 700.0 687.6 C714.6 686.1 737.5 686.8 760.0 686.5 C789.1 686.2 826.7 685.9 860.0 686.0 C893.3 686.1 934.2 685.9 960.0 687.0 C976.3 687.7 989.1 688.7 1000.0 690.0 C1007.5 690.9 1019.0 693.0 1019.0 693.0 L1019.0 700.0 C1019.0 700.0 999.7 701.2 990.0 702.0 C980.1 702.8 970.0 704.0 960.0 705.0 C950.0 706.0 940.0 707.7 930.0 708.0 C920.0 708.3 910.0 707.5 900.0 707.0 C890.0 706.5 877.3 706.3 870.0 705.0 C865.7 704.2 864.8 702.7 860.0 702.0 C848.5 700.4 818.0 702.4 800.0 703.0 C785.3 703.5 773.2 702.9 760.0 705.0 C746.5 707.2 731.1 714.1 720.0 716.0 C712.3 717.3 708.5 717.1 700.0 717.5 C685.4 718.2 658.0 719.0 640.0 719.0 C625.3 719.0 613.3 718.5 600.0 718.0 C586.7 717.5 571.7 717.2 560.0 716.0 C550.7 715.0 541.9 714.1 535.0 712.0 C529.8 710.4 521.9 707.8 522.0 706.0 Z" fill="#ef6229"/>
<path d="M86.0 712.0 C86.0 712.0 92.7 710.6 95.0 712.0 C97.6 713.6 99.6 718.4 100.0 722.0 C100.5 726.0 98.4 731.0 97.0 735.0 C95.7 738.6 94.2 742.8 92.0 745.0 C90.3 746.7 86.0 748.0 86.0 748.0 L86.0 712.0 Z" fill="#f99d2c"/>
<path d="M112.0 720.0 C114.2 717.5 123.2 717.7 130.0 717.5 C138.7 717.3 149.5 719.3 160.0 720.0 C171.7 720.8 191.7 718.8 197.0 722.0 C199.1 723.3 200.7 725.7 200.0 727.0 C198.2 730.3 172.4 728.7 160.0 729.0 C149.3 729.3 138.7 729.7 130.0 729.0 C123.2 728.4 114.2 728.6 112.0 726.0 C110.7 724.5 110.7 721.4 112.0 720.0 Z" fill="#d01f2c"/>
<path d="M550.7 707.3 C550.7 705.5 560.6 703.3 566.7 702.0 C574.4 700.4 582.9 700.1 593.3 699.3 C608.0 698.2 631.0 697.4 646.7 696.7 C659.1 696.1 670.3 696.1 680.0 695.3 C687.5 694.7 691.5 693.6 700.0 692.9 C714.6 691.7 737.5 690.6 760.0 690.0 C789.1 689.2 834.2 689.4 860.0 689.5 C876.3 689.6 895.6 685.5 900.0 690.0 C902.2 692.3 902.2 697.6 900.0 700.0 C895.6 704.9 874.7 703.1 860.0 704.0 C842.0 705.0 818.0 704.2 800.0 705.0 C785.3 705.7 774.7 706.5 760.0 708.0 C742.0 709.9 714.6 713.8 700.0 716.0 C691.5 717.3 688.5 718.7 680.0 719.3 C665.4 720.3 639.4 719.2 620.0 718.0 C601.7 716.9 579.2 715.4 566.7 712.7 C559.7 711.2 550.7 709.1 550.7 707.3 Z" fill="#d01f2c"/>
<path d="M577.3 706.0 C577.5 704.5 586.7 704.2 593.3 703.3 C603.6 701.9 619.4 700.2 633.3 699.3 C648.2 698.3 669.0 697.8 680.0 698.0 C686.0 698.1 690.8 697.1 693.8 699.0 C696.1 700.4 697.8 703.4 698.0 706.0 C698.2 709.0 696.4 714.0 693.8 716.0 C690.8 718.3 685.6 717.7 680.0 718.0 C671.3 718.5 659.1 717.4 646.7 716.7 C631.0 715.8 605.7 715.7 593.3 712.7 C586.2 711.0 577.1 707.6 577.3 706.0 Z" fill="#8c1a1d"/>
<path d="M696.0 712.0 C697.9 709.1 701.5 709.0 705.0 708.0 C709.3 706.8 713.8 706.5 720.0 706.0 C730.1 705.2 746.7 705.2 760.0 705.0 C773.3 704.8 790.1 704.6 800.0 705.0 C805.9 705.2 811.2 702.9 814.0 706.0 C818.4 710.7 821.4 732.6 814.0 740.0 C800.3 753.7 708.9 752.9 696.0 740.0 C689.7 733.7 692.8 716.9 696.0 712.0 Z" fill="#ffffff"/>
<path d="M745.0 708.0 C746.6 705.7 757.0 704.8 760.0 707.0 C762.8 709.1 764.2 716.8 763.0 720.0 C762.0 722.8 757.5 726.3 755.0 726.0 C752.5 725.7 749.7 721.0 748.0 718.0 C746.3 715.0 743.7 709.9 745.0 708.0 Z" fill="#fdd476"/>
<path d="M768.0 710.0 C769.3 708.3 774.3 707.7 776.0 709.0 C778.2 710.7 779.5 719.4 778.0 722.0 C776.8 724.1 771.7 726.0 770.0 725.0 C767.7 723.6 766.2 712.4 768.0 710.0 Z" fill="#f99d2c"/>
<path d="M722.0 712.0 C723.1 710.3 733.0 709.5 735.0 711.0 C736.2 711.9 736.8 714.9 736.0 716.0 C734.7 717.7 726.2 718.4 724.0 717.0 C722.5 716.1 721.3 713.1 722.0 712.0 Z" fill="#fdd476"/>
<path d="M770.0 742.0 C773.1 738.0 783.1 737.8 790.0 737.0 C797.1 736.1 806.1 735.3 812.0 737.0 C816.5 738.3 820.9 740.2 823.0 744.0 C825.9 749.2 825.2 762.2 823.0 768.0 C821.4 772.1 818.5 775.6 815.0 777.0 C811.1 778.6 804.9 777.4 800.0 776.0 C794.8 774.5 789.9 770.9 785.0 768.0 C779.9 765.0 772.4 762.5 770.0 758.0 C767.7 753.7 767.2 745.5 770.0 742.0 Z" fill="#f99d2c"/>
<path d="M807.0 722.0 C809.3 719.7 816.7 719.7 819.0 722.0 C822.3 725.3 822.3 742.7 819.0 746.0 C816.7 748.3 809.3 748.3 807.0 746.0 C803.7 742.7 803.7 725.3 807.0 722.0 Z" fill="#ef6229"/>
<path d="M812.0 700.0 C814.7 697.2 823.9 698.6 830.0 699.0 C836.5 699.5 843.9 700.7 850.0 703.0 C855.8 705.2 862.7 707.9 866.0 712.0 C868.8 715.5 868.1 720.8 870.0 725.0 C872.0 729.5 874.9 734.1 878.0 738.0 C881.0 741.7 884.8 744.8 888.0 748.0 C891.1 751.1 894.7 753.6 897.0 757.0 C899.3 760.3 902.2 764.5 902.0 768.0 C901.8 771.5 898.8 775.1 896.0 778.0 C892.9 781.2 888.6 784.0 884.0 786.0 C878.8 788.2 871.9 789.2 866.0 790.0 C860.5 790.8 855.2 790.0 850.0 791.0 C844.9 792.0 839.7 794.0 835.0 796.0 C830.4 798.0 825.7 801.2 822.0 803.0 C819.3 804.3 817.0 806.9 815.0 806.0 C811.3 804.2 805.8 787.5 808.0 780.0 C810.3 772.1 825.8 767.2 830.0 760.0 C833.3 754.3 835.0 748.0 834.0 742.0 C832.9 735.3 826.2 727.3 822.0 722.0 C818.8 717.9 813.6 715.9 812.0 712.0 C810.5 708.4 809.8 702.3 812.0 700.0 Z" fill="#d01f2c"/>
<path d="M836.0 708.0 C837.7 706.2 847.0 707.6 850.0 710.0 C852.6 712.1 854.9 717.6 854.0 720.0 C853.2 722.1 848.6 724.2 846.0 724.0 C843.3 723.8 839.7 720.6 838.0 718.0 C836.3 715.3 834.5 709.5 836.0 708.0 Z" fill="#ef6229"/>
<path d="M848.0 732.0 C849.8 730.3 858.1 733.2 862.0 736.0 C866.2 739.0 869.2 745.4 872.0 750.0 C874.4 754.1 878.3 758.5 878.0 762.0 C877.7 765.0 874.6 769.6 872.0 770.0 C868.9 770.5 863.3 765.5 860.0 762.0 C856.5 758.3 854.0 753.0 852.0 748.0 C850.0 743.0 846.1 733.9 848.0 732.0 Z" fill="#ef6229"/>
<path d="M870.0 755.0 C871.9 752.9 882.8 757.3 888.0 760.0 C892.7 762.5 899.9 766.8 900.0 770.0 C900.1 772.7 895.4 777.0 892.0 778.0 C888.2 779.1 881.5 778.0 878.0 775.0 C873.6 771.3 867.9 757.3 870.0 755.0 Z" fill="#ef6229"/>
<path d="M868.0 790.0 C868.3 784.3 872.8 774.7 878.0 770.0 C883.3 765.2 892.3 763.0 900.0 762.0 C908.0 760.9 917.9 761.7 925.0 764.0 C930.9 765.9 936.8 768.8 940.0 773.0 C943.0 776.9 944.8 783.6 944.0 788.0 C943.2 792.2 939.8 796.4 936.0 799.0 C931.6 802.1 924.4 802.8 918.0 804.0 C910.9 805.3 902.6 806.5 895.0 806.0 C887.3 805.5 876.3 804.7 872.0 801.0 C869.0 798.4 867.8 794.2 868.0 790.0 Z" fill="#ef6229"/>
<path d="M818.0 798.0 C819.9 794.3 829.0 792.0 835.0 790.0 C841.3 787.9 848.6 786.6 855.0 786.0 C860.9 785.4 868.6 783.6 872.0 786.0 C874.9 788.0 877.4 794.5 876.0 797.0 C874.3 800.2 864.2 799.9 858.0 801.0 C851.5 802.2 844.5 802.8 838.0 804.0 C831.8 805.1 823.1 810.0 820.0 808.0 C817.7 806.5 816.6 800.8 818.0 798.0 Z" fill="#ef6229"/>
<path d="M875.0 789.0 C875.0 784.4 879.4 776.5 884.0 773.0 C888.9 769.3 897.3 768.5 904.0 768.0 C910.6 767.5 918.4 767.8 924.0 770.0 C928.8 771.9 934.3 775.1 936.0 779.0 C937.6 782.6 937.3 788.6 935.0 792.0 C932.3 796.0 924.9 798.3 919.0 800.0 C912.4 801.9 903.8 802.5 897.0 802.0 C890.9 801.6 883.7 800.8 880.0 798.0 C877.2 795.9 875.0 792.4 875.0 789.0 Z" fill="#d01f2c"/>
<path d="M828.0 793.0 C828.1 790.9 839.9 788.3 846.0 787.0 C851.9 785.7 859.0 784.1 864.0 785.0 C867.9 785.7 874.1 788.4 874.0 790.0 C873.9 791.8 865.0 793.6 860.0 795.0 C854.4 796.6 847.5 799.5 842.0 799.0 C837.0 798.5 827.9 794.9 828.0 793.0 Z" fill="#d01f2c"/>
<path d="M881.8 786.5 C882.2 783.2 887.9 778.5 892.0 776.3 C896.1 774.1 901.4 773.4 906.3 773.2 C911.6 773.0 918.2 773.6 922.7 775.3 C926.4 776.7 930.8 778.7 931.9 781.4 C932.9 783.9 931.8 788.3 929.8 790.6 C927.3 793.4 921.4 794.5 916.5 795.7 C910.9 797.1 903.5 798.4 898.1 797.8 C893.6 797.3 888.7 796.0 885.9 793.7 C883.7 791.9 881.5 789.0 881.8 786.5 Z" fill="#8c1a1d"/>
<path d="M820.4 817.2 C824.0 812.5 832.7 810.9 840.9 809.0 C852.0 806.4 868.2 806.3 881.8 806.0 C895.4 805.7 913.2 804.6 922.7 807.0 C928.2 808.4 933.3 809.9 934.9 813.1 C936.5 816.1 935.4 821.8 932.9 825.4 C929.5 830.4 920.3 834.7 912.5 837.7 C903.6 841.2 892.1 842.5 881.8 843.8 C871.6 845.1 861.0 845.8 851.1 845.8 C841.9 845.8 829.9 847.1 824.5 843.8 C820.9 841.6 819.2 837.6 818.4 833.6 C817.4 828.9 817.3 821.2 820.4 817.2 Z" fill="#e8f4fb"/>
<path d="M822.5 821.3 C825.3 817.2 833.4 815.8 840.9 814.1 C851.7 811.6 868.7 811.4 881.8 811.1 C893.8 810.8 910.8 808.7 916.5 812.1 C919.3 813.8 921.2 816.9 920.6 819.3 C919.7 823.3 909.4 828.5 902.2 831.5 C893.6 835.1 881.8 836.2 871.6 837.7 C861.4 839.2 849.8 841.5 840.9 840.7 C833.9 840.1 825.3 839.3 822.5 835.6 C820.0 832.4 820.1 824.8 822.5 821.3 Z" fill="#bde2f4"/>
<path d="M826.6 825.4 C828.3 822.0 835.0 819.9 840.9 818.2 C849.0 815.9 862.2 815.5 871.6 815.6 C879.7 815.7 891.6 815.5 894.0 818.2 C895.1 819.5 895.1 821.9 894.0 823.3 C891.6 826.3 879.4 826.8 871.6 828.5 C863.1 830.3 852.8 832.4 845.0 833.6 C838.9 834.6 831.5 837.7 828.6 835.6 C826.3 833.9 825.3 828.1 826.6 825.4 Z" fill="#85c4ea"/>
<path d="M373.0 687.0 C373.0 687.3 371.9 687.7 371.1 687.9 C369.8 688.3 367.7 688.5 365.6 688.8 C363.1 689.1 360.0 689.3 356.9 689.5 C353.3 689.7 349.4 689.9 345.5 690.0 C341.2 690.2 336.7 690.3 332.2 690.4 C327.6 690.5 322.7 690.5 318.0 690.5 C313.3 690.5 308.4 690.5 303.8 690.4 C299.3 690.3 294.8 690.2 290.5 690.0 C286.6 689.9 282.7 689.7 279.1 689.5 C276.0 689.3 272.9 689.1 270.4 688.8 C268.3 688.5 266.2 688.3 264.9 687.9 C264.1 687.7 263.0 687.3 263.0 687.0 C263.0 686.7 264.1 686.3 264.9 686.1 C266.2 685.7 268.3 685.5 270.4 685.2 C272.9 684.9 276.0 684.7 279.1 684.5 C282.7 684.3 286.6 684.1 290.5 684.0 C294.8 683.8 299.3 683.7 303.8 683.6 C308.4 683.5 313.3 683.5 318.0 683.5 C322.7 683.5 327.6 683.5 332.2 683.6 C336.7 683.7 341.2 683.8 345.5 684.0 C349.4 684.1 353.3 684.3 356.9 684.5 C360.0 684.7 363.1 684.9 365.6 685.2 C367.7 685.5 369.8 685.7 371.1 686.1 C371.9 686.3 373.0 686.7 373.0 687.0 Z" fill="#e8f4fb"/>
<path d="M457.3 764.7 C459.5 761.2 463.8 758.8 468.0 756.7 C472.8 754.3 479.0 752.5 485.0 752.0 C491.4 751.4 497.6 753.6 505.3 754.0 C515.3 754.5 529.4 751.9 540.0 754.0 C549.7 755.9 560.8 760.2 566.7 764.7 C570.7 767.8 574.9 772.1 574.7 775.3 C574.5 778.3 570.6 781.2 566.7 783.3 C560.7 786.5 548.9 787.4 540.0 788.7 C531.1 790.0 521.7 790.4 513.3 791.3 C505.8 792.1 499.3 793.1 492.0 794.0 C484.2 794.9 474.2 798.4 468.0 796.7 C463.4 795.5 459.5 792.0 457.3 788.7 C455.3 785.7 454.8 781.8 454.7 778.0 C454.6 773.8 455.1 768.3 457.3 764.7 Z" fill="#e8f4fb"/>
<path d="M497.3 783.3 C497.4 780.1 503.8 773.1 508.0 770.0 C511.9 767.1 516.8 765.3 521.3 764.7 C525.7 764.1 531.0 764.4 534.7 766.0 C538.0 767.4 542.5 770.4 542.7 772.7 C542.9 774.8 540.0 777.6 537.3 779.3 C533.2 781.8 524.9 782.0 518.7 783.3 C512.5 784.6 503.3 788.6 500.0 787.3 C498.4 786.6 497.2 785.0 497.3 783.3 Z" fill="#bde2f4"/>
<path d="M485.0 786.0 C485.0 786.4 484.9 786.8 484.7 787.2 C484.4 787.6 484.1 787.9 483.7 788.2 C483.2 788.6 482.7 788.9 482.1 789.2 C481.4 789.5 480.7 789.7 480.0 789.9 C479.2 790.1 478.4 790.2 477.6 790.3 C476.7 790.4 475.9 790.5 475.0 790.5 C474.1 790.5 473.3 790.4 472.4 790.3 C471.6 790.2 470.8 790.1 470.0 789.9 C469.3 789.7 468.6 789.5 467.9 789.2 C467.3 788.9 466.8 788.6 466.3 788.2 C465.9 787.9 465.6 787.6 465.3 787.2 C465.1 786.8 465.0 786.4 465.0 786.0 C465.0 785.6 465.1 785.2 465.3 784.8 C465.6 784.4 465.9 784.1 466.3 783.8 C466.8 783.4 467.3 783.1 467.9 782.8 C468.6 782.5 469.3 782.3 470.0 782.1 C470.8 781.9 471.6 781.8 472.4 781.7 C473.3 781.6 474.1 781.5 475.0 781.5 C475.9 781.5 476.7 781.6 477.6 781.7 C478.4 781.8 479.2 781.9 480.0 782.1 C480.7 782.3 481.4 782.5 482.1 782.8 C482.7 783.1 483.2 783.4 483.7 783.8 C484.1 784.1 484.4 784.4 484.7 784.8 C484.9 785.2 485.0 785.6 485.0 786.0 Z" fill="#bde2f4"/>
<path d="M414.7 836.7 C419.7 831.4 425.7 820.4 433.3 815.3 C440.8 810.2 450.1 808.0 460.0 806.0 C471.8 803.6 486.7 803.9 500.0 803.3 C513.3 802.7 526.7 802.5 540.0 802.5 C553.3 802.5 568.0 802.3 580.0 803.3 C589.8 804.1 601.5 804.0 606.7 807.3 C609.8 809.3 612.3 812.6 612.0 815.3 C611.7 818.7 606.4 822.9 601.3 826.0 C593.4 830.8 578.8 834.1 566.7 836.7 C554.0 839.5 540.0 840.2 526.7 842.0 C513.4 843.8 500.0 845.7 486.7 847.3 C473.4 848.8 458.7 850.7 446.7 851.3 C436.9 851.8 427.2 853.0 420.0 851.3 C414.6 850.0 407.1 847.4 406.7 844.7 C406.3 842.4 411.5 840.1 414.7 836.7 Z" fill="#fef6d8"/>
<path d="M428.0 836.7 C427.3 832.6 439.3 822.4 446.7 818.0 C454.3 813.4 463.4 811.8 473.3 810.0 C485.2 807.8 500.7 806.9 513.3 807.3 C524.6 807.6 535.8 809.2 545.3 811.3 C553.2 813.0 564.0 814.4 566.7 818.0 C568.3 820.2 568.3 823.8 566.7 826.0 C564.0 829.6 553.2 831.0 545.3 832.7 C535.8 834.8 524.6 835.6 513.3 836.7 C500.7 837.9 486.1 838.4 473.3 839.3 C461.3 840.2 446.8 843.6 438.7 842.0 C434.0 841.1 428.4 839.4 428.0 836.7 Z" fill="#fdd476"/>
<path d="M499.7 819.0 C499.7 819.3 499.6 819.6 499.4 819.9 C499.2 820.2 498.8 820.5 498.5 820.8 C498.1 821.0 497.6 821.3 497.1 821.5 C496.5 821.7 495.9 821.9 495.2 822.0 C494.5 822.2 493.8 822.3 493.0 822.4 C492.3 822.5 491.5 822.5 490.7 822.5 C489.9 822.5 489.1 822.5 488.4 822.4 C487.6 822.3 486.9 822.2 486.2 822.0 C485.5 821.9 484.9 821.7 484.3 821.5 C483.8 821.3 483.3 821.0 482.9 820.8 C482.6 820.5 482.2 820.2 482.0 819.9 C481.8 819.6 481.7 819.3 481.7 819.0 C481.7 818.7 481.8 818.4 482.0 818.1 C482.2 817.8 482.6 817.5 482.9 817.2 C483.3 817.0 483.8 816.7 484.3 816.5 C484.9 816.3 485.5 816.1 486.2 816.0 C486.9 815.8 487.6 815.7 488.4 815.6 C489.1 815.5 489.9 815.5 490.7 815.5 C491.5 815.5 492.3 815.5 493.0 815.6 C493.8 815.7 494.5 815.8 495.2 816.0 C495.9 816.1 496.5 816.3 497.1 816.5 C497.6 816.7 498.1 817.0 498.5 817.2 C498.8 817.5 499.2 817.8 499.4 818.1 C499.6 818.4 499.7 818.7 499.7 819.0 Z" fill="#f99d2c"/>
<path d="M232.0 840.0 C236.6 836.4 243.7 836.4 250.0 836.0 C256.9 835.6 267.7 834.0 272.0 838.0 C276.4 842.0 275.9 852.4 276.0 860.0 C276.1 868.1 274.9 878.3 272.0 885.0 C269.7 890.4 266.7 895.4 262.0 898.0 C256.5 901.0 246.9 900.4 240.0 900.0 C233.7 899.6 226.2 899.4 222.0 896.0 C217.9 892.7 215.2 885.7 215.0 880.0 C214.8 873.7 219.2 866.6 222.0 860.0 C224.9 853.2 227.0 843.9 232.0 840.0 Z" fill="#fef6d8"/>
<path d="M538.0 888.0 C541.6 881.7 578.0 885.7 600.0 885.0 C625.0 884.2 655.5 883.7 680.0 884.0 C700.9 884.2 736.9 882.4 738.0 886.0 C738.5 887.5 734.1 890.5 730.0 892.0 C720.7 895.4 698.6 893.9 680.0 895.0 C656.5 896.4 624.2 899.0 600.0 900.0 C580.0 900.8 554.2 906.4 545.0 901.0 C540.2 898.2 536.3 891.1 538.0 888.0 Z" fill="#e8f4fb"/>
<path d="M478.0 912.0 C483.9 905.2 503.7 907.4 520.0 906.0 C542.4 904.1 573.3 904.5 600.0 904.0 C626.7 903.5 653.3 902.7 680.0 903.0 C706.7 903.3 738.0 903.9 760.0 906.0 C775.7 907.5 788.7 909.6 800.0 912.0 C808.5 913.8 816.3 915.3 822.0 918.0 C826.2 920.0 829.3 921.0 832.0 925.0 C836.6 931.8 839.2 947.9 840.0 960.0 C840.8 972.8 843.2 993.3 836.0 1000.0 C829.2 1006.3 812.7 1001.5 800.0 1001.0 C785.6 1000.4 770.0 997.0 754.0 996.0 C736.7 994.9 719.8 995.2 700.0 995.0 C675.9 994.8 644.8 994.8 620.0 995.0 C598.6 995.2 577.2 996.1 560.0 996.0 C547.1 995.9 532.3 998.7 526.0 995.0 C522.3 992.8 519.1 987.9 520.0 985.0 C521.2 980.9 531.2 977.3 540.0 975.0 C554.4 971.2 582.0 972.9 600.0 972.0 C614.7 971.3 639.8 972.0 640.0 970.0 C640.2 968.0 614.8 962.4 600.0 960.0 C582.1 957.0 559.1 956.7 540.0 955.0 C522.6 953.4 500.4 955.6 490.0 950.0 C483.6 946.5 480.1 941.0 478.0 935.0 C475.7 928.5 473.6 917.0 478.0 912.0 Z" fill="#e8f4fb"/>
<path d="M800.0 950.0 C805.3 944.8 817.2 941.4 822.0 945.0 C829.5 950.6 826.5 984.4 826.0 1000.0 C825.7 1011.5 826.3 1022.8 822.0 1030.0 C818.4 1035.9 812.1 1040.0 805.0 1042.0 C795.8 1044.6 778.7 1043.1 770.0 1040.0 C763.9 1037.8 758.8 1035.0 756.0 1030.0 C752.6 1024.0 752.0 1011.0 754.0 1005.0 C755.4 1000.9 758.0 998.3 762.0 996.0 C768.2 992.4 783.6 996.1 790.0 990.0 C797.6 982.6 792.9 957.0 800.0 950.0 Z" fill="#e8f4fb"/>
<path d="M638.0 951.7 C640.6 947.3 663.5 946.5 678.6 945.3 C697.5 943.8 723.5 944.2 742.6 945.3 C758.2 946.2 773.6 947.7 785.0 950.0 C793.0 951.6 799.7 953.0 805.0 956.0 C809.2 958.4 812.5 961.4 815.0 965.0 C817.5 968.7 818.5 973.6 820.0 978.0 C821.5 982.5 823.7 988.1 824.0 992.0 C824.2 994.7 824.1 998.5 823.0 999.0 C822.0 999.5 819.6 997.6 818.0 996.0 C815.8 993.8 814.9 988.5 812.0 986.0 C809.0 983.4 805.2 982.2 800.0 981.0 C791.3 979.1 777.0 980.6 764.0 979.5 C748.4 978.2 729.8 975.6 712.8 973.1 C695.7 970.6 674.9 967.6 661.6 964.5 C652.9 962.5 643.6 961.4 640.2 958.1 C638.3 956.3 636.9 953.5 638.0 951.7 Z" fill="#bde2f4"/>
<path d="M495.0 998.0 C495.0 998.7 494.9 999.4 494.8 1000.1 C494.6 1000.7 494.4 1001.4 494.1 1002.0 C493.8 1002.6 493.4 1003.2 492.9 1003.7 C492.5 1004.1 492.0 1004.6 491.5 1004.9 C491.0 1005.3 490.4 1005.5 489.8 1005.7 C489.2 1005.9 488.6 1006.0 488.0 1006.0 C487.4 1006.0 486.8 1005.9 486.2 1005.7 C485.6 1005.5 485.0 1005.3 484.5 1004.9 C484.0 1004.6 483.5 1004.1 483.1 1003.7 C482.6 1003.2 482.2 1002.6 481.9 1002.0 C481.6 1001.4 481.4 1000.7 481.2 1000.1 C481.1 999.4 481.0 998.7 481.0 998.0 C481.0 997.3 481.1 996.6 481.2 995.9 C481.4 995.3 481.6 994.6 481.9 994.0 C482.2 993.4 482.6 992.8 483.1 992.3 C483.5 991.9 484.0 991.4 484.5 991.1 C485.0 990.7 485.6 990.5 486.2 990.3 C486.8 990.1 487.4 990.0 488.0 990.0 C488.6 990.0 489.2 990.1 489.8 990.3 C490.4 990.5 491.0 990.7 491.5 991.1 C492.0 991.4 492.5 991.9 492.9 992.3 C493.4 992.8 493.8 993.4 494.1 994.0 C494.4 994.6 494.6 995.3 494.8 995.9 C494.9 996.6 495.0 997.3 495.0 998.0 Z" fill="#fef6d8"/>
<path d="M589.0 1019.0 C589.0 1019.4 588.7 1019.9 588.4 1020.3 C588.0 1020.8 587.4 1021.1 586.7 1021.5 C585.9 1021.9 585.0 1022.2 584.0 1022.5 C582.9 1022.9 581.7 1023.1 580.5 1023.3 C579.2 1023.6 577.8 1023.7 576.4 1023.8 C575.0 1023.9 573.5 1024.0 572.0 1024.0 C570.5 1024.0 569.0 1023.9 567.6 1023.8 C566.2 1023.7 564.8 1023.6 563.5 1023.3 C562.3 1023.1 561.1 1022.9 560.0 1022.5 C559.0 1022.2 558.1 1021.9 557.3 1021.5 C556.6 1021.1 556.0 1020.8 555.6 1020.3 C555.3 1019.9 555.0 1019.4 555.0 1019.0 C555.0 1018.6 555.3 1018.1 555.6 1017.7 C556.0 1017.2 556.6 1016.9 557.3 1016.5 C558.1 1016.1 559.0 1015.8 560.0 1015.5 C561.1 1015.1 562.3 1014.9 563.5 1014.7 C564.8 1014.4 566.2 1014.3 567.6 1014.2 C569.0 1014.1 570.5 1014.0 572.0 1014.0 C573.5 1014.0 575.0 1014.1 576.4 1014.2 C577.8 1014.3 579.2 1014.4 580.5 1014.7 C581.7 1014.9 582.9 1015.1 584.0 1015.5 C585.0 1015.8 585.9 1016.1 586.7 1016.5 C587.4 1016.9 588.0 1017.2 588.4 1017.7 C588.7 1018.1 589.0 1018.6 589.0 1019.0 Z" fill="#fef6d8"/>
<path d="M823.0 870.0 C823.0 870.3 822.9 870.7 822.7 871.0 C822.5 871.4 822.3 871.7 821.9 872.0 C821.6 872.3 821.1 872.6 820.7 872.8 C820.2 873.1 819.6 873.3 819.0 873.5 C818.4 873.6 817.7 873.8 817.1 873.9 C816.4 874.0 815.7 874.0 815.0 874.0 C814.3 874.0 813.6 874.0 812.9 873.9 C812.3 873.8 811.6 873.6 811.0 873.5 C810.4 873.3 809.8 873.1 809.3 872.8 C808.9 872.6 808.4 872.3 808.1 872.0 C807.7 871.7 807.5 871.4 807.3 871.0 C807.1 870.7 807.0 870.3 807.0 870.0 C807.0 869.7 807.1 869.3 807.3 869.0 C807.5 868.6 807.7 868.3 808.1 868.0 C808.4 867.7 808.9 867.4 809.3 867.2 C809.8 866.9 810.4 866.7 811.0 866.5 C811.6 866.4 812.3 866.2 812.9 866.1 C813.6 866.0 814.3 866.0 815.0 866.0 C815.7 866.0 816.4 866.0 817.1 866.1 C817.7 866.2 818.4 866.4 819.0 866.5 C819.6 866.7 820.2 866.9 820.7 867.2 C821.1 867.4 821.6 867.7 821.9 868.0 C822.3 868.3 822.5 868.6 822.7 869.0 C822.9 869.3 823.0 869.7 823.0 870.0 Z" fill="#fef6d8"/>
<path d="M467.8 1038.0 C467.7 1038.7 467.3 1039.4 466.8 1039.9 C466.2 1040.6 465.4 1041.1 464.5 1041.5 C463.5 1042.0 462.3 1042.4 461.1 1042.7 C459.8 1043.0 458.3 1043.2 456.9 1043.3 C455.3 1043.5 453.6 1043.5 452.0 1043.4 C450.3 1043.3 448.5 1043.2 446.8 1042.9 C445.1 1042.7 443.4 1042.3 441.7 1041.9 C440.1 1041.4 438.5 1040.9 437.1 1040.4 C435.7 1039.8 434.3 1039.2 433.2 1038.5 C432.1 1037.8 431.1 1037.1 430.3 1036.4 C429.6 1035.7 428.9 1034.9 428.6 1034.2 C428.3 1033.5 428.1 1032.7 428.2 1032.0 C428.3 1031.3 428.7 1030.6 429.2 1030.1 C429.8 1029.4 430.6 1028.9 431.5 1028.5 C432.5 1028.0 433.7 1027.6 434.9 1027.3 C436.2 1027.0 437.7 1026.8 439.1 1026.7 C440.7 1026.5 442.4 1026.5 444.0 1026.6 C445.7 1026.7 447.5 1026.8 449.2 1027.1 C450.9 1027.3 452.6 1027.7 454.3 1028.1 C455.9 1028.6 457.5 1029.1 458.9 1029.6 C460.3 1030.2 461.7 1030.8 462.8 1031.5 C463.9 1032.2 464.9 1032.9 465.7 1033.6 C466.4 1034.3 467.1 1035.1 467.4 1035.8 C467.7 1036.5 467.9 1037.3 467.8 1038.0 Z" fill="#fef6d8"/>
<path d="M172.4 983.3 C178.0 977.2 204.1 977.9 222.2 977.0 C243.8 975.9 269.6 978.0 293.3 979.0 C317.0 980.1 348.7 980.5 364.4 983.3 C372.4 984.7 375.2 986.6 382.2 988.7 C392.5 991.8 407.4 997.3 420.0 1000.0 C432.3 1002.7 451.2 999.6 457.0 1005.0 C460.7 1008.5 462.4 1016.9 460.0 1020.0 C456.7 1024.4 441.5 1022.2 430.0 1022.0 C414.4 1021.7 392.4 1018.5 375.0 1016.0 C359.2 1013.7 345.4 1010.3 330.0 1008.0 C313.8 1005.6 297.4 1003.8 280.0 1002.0 C260.9 1000.1 238.9 998.2 220.0 997.0 C203.1 995.9 177.1 1000.5 172.0 995.0 C169.5 992.3 169.7 986.3 172.4 983.3 Z" fill="#e8f4fb"/>
<path d="M261.0 988.5 C261.0 989.0 260.3 989.5 259.6 989.9 C258.6 990.5 257.0 990.9 255.5 991.2 C253.6 991.7 251.3 992.1 249.0 992.4 C246.4 992.8 243.4 993.0 240.5 993.3 C237.3 993.5 234.0 993.7 230.6 993.8 C227.1 993.9 223.5 994.0 220.0 994.0 C216.5 994.0 212.9 993.9 209.4 993.8 C206.0 993.7 202.7 993.5 199.5 993.3 C196.6 993.0 193.6 992.8 191.0 992.4 C188.7 992.1 186.4 991.7 184.5 991.2 C183.0 990.9 181.4 990.5 180.4 989.9 C179.7 989.5 179.0 989.0 179.0 988.5 C179.0 988.0 179.7 987.5 180.4 987.1 C181.4 986.5 183.0 986.1 184.5 985.8 C186.4 985.3 188.7 984.9 191.0 984.6 C193.6 984.2 196.6 984.0 199.5 983.7 C202.7 983.5 206.0 983.3 209.4 983.2 C212.9 983.1 216.5 983.0 220.0 983.0 C223.5 983.0 227.1 983.1 230.6 983.2 C234.0 983.3 237.3 983.5 240.5 983.7 C243.4 984.0 246.4 984.2 249.0 984.6 C251.3 984.9 253.6 985.3 255.5 985.8 C257.0 986.1 258.6 986.5 259.6 987.1 C260.3 987.5 261.0 988.0 261.0 988.5 Z" fill="#bde2f4"/>
<path d="M86.0 997.6 C86.0 997.6 105.3 996.4 115.6 995.8 C126.9 995.2 139.3 994.0 151.1 994.0 C163.0 994.0 174.9 994.3 186.7 995.8 C198.6 997.3 210.3 1001.1 222.2 1002.9 C234.0 1004.7 245.9 1005.5 257.8 1006.4 C269.6 1007.3 281.5 1007.3 293.3 1008.2 C305.2 1009.1 317.1 1010.0 328.9 1011.8 C340.8 1013.6 353.2 1016.4 364.4 1018.9 C374.4 1021.2 386.8 1022.6 392.9 1026.0 C396.4 1028.0 400.5 1031.2 400.0 1033.1 C399.3 1035.7 389.2 1037.7 382.2 1038.4 C372.5 1039.3 358.5 1036.1 346.7 1034.9 C334.8 1033.7 322.9 1032.8 311.1 1031.3 C299.2 1029.8 286.4 1027.6 275.6 1026.0 C266.6 1024.7 259.3 1023.3 250.7 1022.4 C241.5 1021.5 232.2 1021.3 222.2 1020.7 C211.0 1020.1 198.5 1019.1 186.7 1018.9 C174.8 1018.7 163.0 1019.6 151.1 1019.6 C139.3 1019.6 126.9 1019.4 115.6 1018.9 C105.3 1018.5 86.0 1017.1 86.0 1017.1 L86.0 997.6 Z" fill="#fef6d8"/>
<path d="M86.0 1002.9 C86.0 1002.9 105.3 1000.1 115.6 999.3 C126.9 998.5 139.3 998.3 151.1 998.3 C163.0 998.3 174.3 998.1 186.7 999.3 C200.3 1000.6 215.7 1004.6 229.3 1006.4 C241.7 1008.1 253.0 1009.1 264.9 1010.0 C276.7 1010.9 288.6 1010.6 300.4 1011.8 C312.3 1013.0 324.2 1014.8 336.0 1017.1 C347.9 1019.5 362.6 1022.7 371.6 1026.0 C377.6 1028.2 386.1 1031.6 385.8 1033.1 C385.5 1034.9 372.4 1035.0 364.4 1034.9 C354.1 1034.8 340.7 1032.5 328.9 1031.3 C317.0 1030.1 305.1 1029.3 293.3 1027.8 C281.4 1026.3 269.6 1024.2 257.8 1022.4 C245.9 1020.6 234.1 1018.3 222.2 1017.1 C210.4 1015.9 198.5 1015.6 186.7 1015.3 C174.8 1015.0 163.0 1015.4 151.1 1015.3 C139.3 1015.2 126.9 1015.1 115.6 1014.6 C105.3 1014.1 86.0 1012.5 86.0 1012.5 L86.0 1002.9 Z" fill="#fdd476"/>
<path d="M115.6 1004.7 C116.4 1001.9 139.2 1001.4 151.1 1001.1 C162.9 1000.8 174.9 1001.7 186.7 1002.9 C198.6 1004.1 211.4 1006.6 222.2 1008.2 C231.2 1009.5 247.1 1010.5 247.1 1011.8 C247.1 1012.9 236.5 1014.7 229.3 1015.3 C218.2 1016.2 200.3 1014.2 186.7 1013.6 C174.3 1013.0 162.3 1012.4 151.1 1011.8 C141.1 1011.2 128.8 1012.2 122.7 1010.0 C119.3 1008.7 115.2 1006.1 115.6 1004.7 Z" fill="#f99d2c"/>
<path d="M258.0 1012.0 C259.0 1009.2 279.5 1011.3 290.0 1012.0 C300.2 1012.7 310.8 1013.8 320.0 1016.0 C328.3 1018.0 342.6 1021.2 343.0 1024.0 C343.2 1025.8 338.9 1028.5 335.0 1029.6 C327.7 1031.6 311.2 1028.3 300.0 1027.0 C289.6 1025.7 277.4 1025.4 270.0 1022.0 C264.7 1019.6 257.3 1014.0 258.0 1012.0 Z" fill="#f99d2c"/>
<path d="M130.0 1004.0 C132.1 1000.8 150.0 1002.1 160.0 1002.0 C170.0 1001.9 179.9 1002.4 190.0 1003.5 C200.5 1004.7 221.4 1006.2 222.0 1009.0 C222.3 1010.4 218.3 1013.0 215.0 1014.0 C209.4 1015.7 198.7 1013.3 190.0 1013.0 C180.5 1012.7 169.8 1012.5 160.0 1012.0 C150.5 1011.5 136.0 1013.1 132.0 1010.0 C130.1 1008.5 129.0 1005.5 130.0 1004.0 Z" fill="#ef6229"/>
<path d="M307.0 1023.0 C307.0 1023.4 306.8 1023.9 306.5 1024.3 C306.2 1024.7 305.7 1025.1 305.1 1025.5 C304.5 1025.9 303.7 1026.2 302.9 1026.5 C302.0 1026.9 301.0 1027.1 300.0 1027.3 C298.9 1027.6 297.8 1027.7 296.6 1027.8 C295.4 1027.9 294.2 1028.0 293.0 1028.0 C291.8 1028.0 290.6 1027.9 289.4 1027.8 C288.2 1027.7 287.1 1027.6 286.0 1027.3 C285.0 1027.1 284.0 1026.9 283.1 1026.5 C282.3 1026.2 281.5 1025.9 280.9 1025.5 C280.3 1025.1 279.8 1024.7 279.5 1024.3 C279.2 1023.9 279.0 1023.4 279.0 1023.0 C279.0 1022.6 279.2 1022.1 279.5 1021.7 C279.8 1021.3 280.3 1020.9 280.9 1020.5 C281.5 1020.1 282.3 1019.8 283.1 1019.5 C284.0 1019.1 285.0 1018.9 286.0 1018.7 C287.1 1018.4 288.2 1018.3 289.4 1018.2 C290.6 1018.1 291.8 1018.0 293.0 1018.0 C294.2 1018.0 295.4 1018.1 296.6 1018.2 C297.8 1018.3 298.9 1018.4 300.0 1018.7 C301.0 1018.9 302.0 1019.1 302.9 1019.5 C303.7 1019.8 304.5 1020.1 305.1 1020.5 C305.7 1020.9 306.2 1021.3 306.5 1021.7 C306.8 1022.1 307.0 1022.6 307.0 1023.0 Z" fill="#ef6229"/>
<path d="M140.4 1005.5 C142.0 1003.4 152.8 1003.7 160.0 1003.5 C168.9 1003.2 180.9 1003.4 190.0 1004.5 C197.8 1005.4 211.3 1007.0 211.6 1009.0 C211.8 1010.2 208.1 1012.1 205.0 1013.0 C199.5 1014.6 188.7 1013.6 180.0 1013.5 C170.5 1013.4 157.0 1013.3 150.0 1012.0 C146.1 1011.3 142.3 1010.6 141.0 1009.0 C140.2 1008.0 139.7 1006.4 140.4 1005.5 Z" fill="#d01f2c"/>
<path d="M294.0 1022.5 C294.0 1022.8 293.9 1023.0 293.8 1023.3 C293.7 1023.5 293.4 1023.8 293.2 1024.0 C292.9 1024.2 292.6 1024.4 292.2 1024.6 C291.9 1024.8 291.4 1025.0 291.0 1025.1 C290.5 1025.2 290.0 1025.3 289.6 1025.4 C289.0 1025.5 288.5 1025.5 288.0 1025.5 C287.5 1025.5 287.0 1025.5 286.4 1025.4 C286.0 1025.3 285.5 1025.2 285.0 1025.1 C284.6 1025.0 284.1 1024.8 283.8 1024.6 C283.4 1024.4 283.1 1024.2 282.8 1024.0 C282.6 1023.8 282.3 1023.5 282.2 1023.3 C282.1 1023.0 282.0 1022.8 282.0 1022.5 C282.0 1022.2 282.1 1022.0 282.2 1021.7 C282.3 1021.5 282.6 1021.2 282.8 1021.0 C283.1 1020.8 283.4 1020.6 283.8 1020.4 C284.1 1020.2 284.6 1020.0 285.0 1019.9 C285.5 1019.8 286.0 1019.7 286.4 1019.6 C287.0 1019.5 287.5 1019.5 288.0 1019.5 C288.5 1019.5 289.0 1019.5 289.6 1019.6 C290.0 1019.7 290.5 1019.8 291.0 1019.9 C291.4 1020.0 291.9 1020.2 292.2 1020.4 C292.6 1020.6 292.9 1020.8 293.2 1021.0 C293.4 1021.2 293.7 1021.5 293.8 1021.7 C293.9 1022.0 294.0 1022.2 294.0 1022.5 Z" fill="#d01f2c"/>
<path d="M162.5 1008.5 C162.5 1008.7 162.4 1009.0 162.3 1009.2 C162.2 1009.5 161.9 1009.7 161.7 1009.9 C161.4 1010.1 161.1 1010.3 160.7 1010.5 C160.4 1010.7 159.9 1010.8 159.5 1010.9 C159.0 1011.1 158.5 1011.1 158.1 1011.2 C157.5 1011.3 157.0 1011.3 156.5 1011.3 C156.0 1011.3 155.5 1011.3 154.9 1011.2 C154.5 1011.1 154.0 1011.1 153.5 1010.9 C153.1 1010.8 152.6 1010.7 152.3 1010.5 C151.9 1010.3 151.6 1010.1 151.3 1009.9 C151.1 1009.7 150.8 1009.5 150.7 1009.2 C150.6 1009.0 150.5 1008.7 150.5 1008.5 C150.5 1008.3 150.6 1008.0 150.7 1007.8 C150.8 1007.5 151.1 1007.3 151.3 1007.1 C151.6 1006.9 151.9 1006.7 152.3 1006.5 C152.6 1006.3 153.1 1006.2 153.5 1006.1 C154.0 1005.9 154.5 1005.9 154.9 1005.8 C155.5 1005.7 156.0 1005.7 156.5 1005.7 C157.0 1005.7 157.5 1005.7 158.1 1005.8 C158.5 1005.9 159.0 1005.9 159.5 1006.1 C159.9 1006.2 160.4 1006.3 160.7 1006.5 C161.1 1006.7 161.4 1006.9 161.7 1007.1 C161.9 1007.3 162.2 1007.5 162.3 1007.8 C162.4 1008.0 162.5 1008.3 162.5 1008.5 Z" fill="#8c1a1d"/>
<path d="M201.0 1009.5 C201.0 1009.8 200.9 1010.2 200.7 1010.5 C200.5 1010.9 200.2 1011.2 199.8 1011.5 C199.4 1011.8 198.9 1012.1 198.4 1012.3 C197.8 1012.6 197.2 1012.8 196.5 1013.0 C195.8 1013.1 195.1 1013.3 194.3 1013.4 C193.6 1013.5 192.8 1013.5 192.0 1013.5 C191.2 1013.5 190.4 1013.5 189.7 1013.4 C188.9 1013.3 188.2 1013.1 187.5 1013.0 C186.8 1012.8 186.2 1012.6 185.6 1012.3 C185.1 1012.1 184.6 1011.8 184.2 1011.5 C183.8 1011.2 183.5 1010.9 183.3 1010.5 C183.1 1010.2 183.0 1009.8 183.0 1009.5 C183.0 1009.2 183.1 1008.8 183.3 1008.5 C183.5 1008.1 183.8 1007.8 184.2 1007.5 C184.6 1007.2 185.1 1006.9 185.6 1006.7 C186.2 1006.4 186.8 1006.2 187.5 1006.0 C188.2 1005.9 188.9 1005.7 189.7 1005.6 C190.4 1005.5 191.2 1005.5 192.0 1005.5 C192.8 1005.5 193.6 1005.5 194.3 1005.6 C195.1 1005.7 195.8 1005.9 196.5 1006.0 C197.2 1006.2 197.8 1006.4 198.4 1006.7 C198.9 1006.9 199.4 1007.2 199.8 1007.5 C200.2 1007.8 200.5 1008.1 200.7 1008.5 C200.9 1008.8 201.0 1009.2 201.0 1009.5 Z" fill="#8c1a1d"/>
<path d="M878.1 1004.8 C878.5 1000.9 887.7 993.2 892.5 990.4 C896.0 988.4 898.2 988.0 902.8 987.4 C911.9 986.2 930.2 987.2 943.9 988.4 C957.6 989.6 971.9 992.8 985.0 994.6 C996.9 996.2 1019.0 998.7 1019.0 998.7 L1019.0 1019.2 C1019.0 1019.2 996.9 1016.9 985.0 1016.1 C972.0 1015.2 957.6 1014.8 943.9 1014.1 C930.2 1013.4 914.2 1012.6 902.8 1012.0 C894.8 1011.6 886.2 1013.3 882.2 1011.0 C879.8 1009.6 877.9 1007.2 878.1 1004.8 Z" fill="#fef6d8"/>
<path d="M880.2 1004.8 C880.5 1002.7 883.4 999.2 886.3 997.6 C890.2 995.4 896.0 995.4 902.8 995.0 C913.4 994.4 930.6 995.6 943.9 996.6 C956.6 997.5 972.1 997.5 980.9 1000.7 C986.4 1002.7 988.1 1007.7 993.2 1008.9 C1000.0 1010.5 1019.0 1005.9 1019.0 1005.9 L1019.0 1014.1 C1019.0 1014.1 1000.4 1015.5 991.2 1015.1 C982.2 1014.7 974.3 1012.8 964.4 1012.0 C952.2 1011.0 937.0 1010.5 923.3 1010.0 C909.6 1009.5 887.1 1012.1 882.2 1008.9 C880.6 1007.8 880.0 1006.3 880.2 1004.8 Z" fill="#fdd476"/>
<path d="M895.9 1004.8 C895.9 1005.1 895.8 1005.5 895.6 1005.8 C895.5 1006.2 895.2 1006.5 894.9 1006.8 C894.6 1007.1 894.1 1007.4 893.7 1007.6 C893.2 1007.9 892.7 1008.1 892.1 1008.3 C891.6 1008.4 891.0 1008.6 890.3 1008.7 C889.7 1008.8 889.0 1008.8 888.4 1008.8 C887.8 1008.8 887.1 1008.8 886.5 1008.7 C885.8 1008.6 885.2 1008.4 884.6 1008.3 C884.1 1008.1 883.6 1007.9 883.1 1007.6 C882.7 1007.4 882.2 1007.1 881.9 1006.8 C881.6 1006.5 881.3 1006.2 881.2 1005.8 C881.0 1005.5 880.9 1005.1 880.9 1004.8 C880.9 1004.5 881.0 1004.1 881.2 1003.8 C881.3 1003.4 881.6 1003.1 881.9 1002.8 C882.2 1002.5 882.7 1002.2 883.1 1002.0 C883.6 1001.7 884.1 1001.5 884.6 1001.3 C885.2 1001.2 885.8 1001.0 886.5 1000.9 C887.1 1000.8 887.8 1000.8 888.4 1000.8 C889.0 1000.8 889.7 1000.8 890.3 1000.9 C891.0 1001.0 891.6 1001.2 892.1 1001.3 C892.7 1001.5 893.2 1001.7 893.7 1002.0 C894.1 1002.2 894.6 1002.5 894.9 1002.8 C895.2 1003.1 895.5 1003.4 895.6 1003.8 C895.8 1004.1 895.9 1004.5 895.9 1004.8 Z" fill="#f99d2c"/>
<path d="M931.6 1002.8 C932.9 1000.3 955.1 999.5 964.4 1000.3 C971.5 1000.9 980.0 1001.9 983.0 1004.8 C984.9 1006.6 986.1 1010.6 985.0 1012.0 C983.1 1014.4 971.9 1011.8 964.4 1011.0 C955.1 1010.0 937.7 1008.6 933.6 1005.9 C932.2 1005.0 931.2 1003.6 931.6 1002.8 Z" fill="#f99d2c"/>
<path d="M982.0 1007.5 C982.0 1007.9 981.8 1008.3 981.6 1008.7 C981.3 1009.1 980.9 1009.4 980.4 1009.8 C979.9 1010.1 979.2 1010.4 978.5 1010.7 C977.7 1011.0 976.9 1011.2 976.0 1011.4 C975.1 1011.6 974.1 1011.7 973.1 1011.8 C972.1 1012.0 971.0 1012.0 970.0 1012.0 C969.0 1012.0 967.9 1012.0 966.9 1011.8 C965.9 1011.7 964.9 1011.6 964.0 1011.4 C963.1 1011.2 962.3 1011.0 961.5 1010.7 C960.8 1010.4 960.1 1010.1 959.6 1009.8 C959.1 1009.4 958.7 1009.1 958.4 1008.7 C958.2 1008.3 958.0 1007.9 958.0 1007.5 C958.0 1007.1 958.2 1006.7 958.4 1006.3 C958.7 1005.9 959.1 1005.6 959.6 1005.2 C960.1 1004.9 960.8 1004.6 961.5 1004.3 C962.3 1004.0 963.1 1003.8 964.0 1003.6 C964.9 1003.4 965.9 1003.3 966.9 1003.2 C967.9 1003.0 969.0 1003.0 970.0 1003.0 C971.0 1003.0 972.1 1003.0 973.1 1003.2 C974.1 1003.3 975.1 1003.4 976.0 1003.6 C976.9 1003.8 977.7 1004.0 978.5 1004.3 C979.2 1004.6 979.9 1004.9 980.4 1005.2 C980.9 1005.6 981.3 1005.9 981.6 1006.3 C981.8 1006.7 982.0 1007.1 982.0 1007.5 Z" fill="#ef6229"/>
<path d="M86.0 1024.2 C86.0 1024.2 128.9 1025.1 151.1 1026.0 C174.3 1026.9 201.5 1028.2 222.2 1029.6 C238.2 1030.7 254.7 1030.2 264.9 1033.1 C271.1 1034.8 274.3 1039.7 279.1 1040.2 C283.7 1040.7 287.4 1037.4 293.3 1036.7 C302.4 1035.6 317.1 1036.1 328.9 1036.7 C340.8 1037.3 352.6 1038.7 364.4 1040.2 C376.3 1041.7 388.1 1044.1 400.0 1045.6 C411.8 1047.1 423.1 1048.1 435.6 1049.1 C449.6 1050.2 466.1 1053.1 480.0 1052.0 C492.6 1051.0 503.7 1046.4 515.6 1043.8 C527.4 1041.3 539.2 1038.5 551.1 1036.7 C562.9 1034.9 574.8 1034.3 586.7 1033.1 C598.5 1031.9 610.3 1030.1 622.2 1029.6 C634.0 1029.1 646.0 1029.7 657.8 1030.3 C669.7 1030.9 681.5 1032.0 693.3 1033.1 C705.2 1034.2 717.0 1035.5 728.9 1036.7 C740.7 1037.9 752.6 1039.0 764.4 1040.2 C776.3 1041.4 790.7 1044.5 800.0 1043.8 C806.1 1043.3 811.3 1042.6 815.0 1040.0 C818.3 1037.7 818.2 1032.9 822.0 1030.0 C827.9 1025.5 842.6 1021.5 850.0 1020.0 C854.7 1019.0 857.3 1019.6 861.7 1019.2 C867.6 1018.7 874.2 1017.5 882.2 1017.2 C893.5 1016.8 909.6 1017.5 923.3 1018.2 C937.0 1018.9 949.7 1020.2 964.4 1021.3 C981.3 1022.6 1019.0 1025.4 1019.0 1025.4 L1019.0 1130.0 L645.0 1130.0 C645.0 1130.0 651.9 1107.0 645.0 1100.0 C629.9 1084.7 514.9 1105.1 500.0 1098.0 C496.5 1096.3 498.8 1093.7 495.0 1092.0 C467.9 1079.4 86.0 1095.0 86.0 1095.0 L86.0 1024.2 Z" fill="#e8f4fb"/>
<path d="M86.0 1027.8 C86.0 1027.8 128.9 1030.1 151.1 1031.3 C174.3 1032.5 202.6 1032.9 222.2 1034.9 C236.1 1036.3 247.5 1037.7 257.8 1040.2 C265.9 1042.1 272.8 1047.7 279.1 1047.3 C284.4 1046.9 287.3 1041.6 293.3 1040.2 C302.3 1038.1 315.0 1039.3 328.9 1040.2 C348.6 1041.4 375.6 1046.4 400.0 1049.1 C425.9 1052.0 458.7 1058.3 480.0 1057.0 C494.3 1056.1 503.7 1051.6 515.6 1049.1 C527.4 1046.6 539.2 1044.0 551.1 1042.0 C562.9 1040.1 574.8 1038.6 586.7 1037.4 C598.5 1036.2 610.4 1035.3 622.2 1034.9 C634.1 1034.5 646.0 1034.3 657.8 1034.9 C669.7 1035.5 681.5 1037.2 693.3 1038.4 C705.2 1039.6 717.0 1040.8 728.9 1042.0 C740.7 1043.2 752.6 1044.4 764.4 1045.6 C776.3 1046.8 788.1 1048.2 800.0 1049.1 C811.9 1050.0 826.5 1052.5 835.6 1050.9 C841.6 1049.9 846.0 1048.3 850.0 1045.0 C854.3 1041.5 857.0 1033.9 860.0 1030.0 C862.1 1027.2 862.5 1024.9 865.8 1023.3 C872.5 1020.1 890.1 1022.3 902.8 1022.3 C916.1 1022.3 930.2 1022.6 943.9 1023.3 C957.6 1024.0 971.9 1025.5 985.0 1026.4 C996.9 1027.2 1019.0 1028.5 1019.0 1028.5 L1019.0 1130.0 L645.0 1130.0 C645.0 1130.0 651.9 1107.0 645.0 1100.0 C629.9 1084.7 514.9 1105.1 500.0 1098.0 C496.5 1096.3 498.8 1093.7 495.0 1092.0 C467.9 1079.4 86.0 1095.0 86.0 1095.0 L86.0 1027.8 Z" fill="#bde2f4"/>
<path d="M86.0 1030.3 C86.0 1030.3 128.9 1033.3 151.1 1034.9 C174.3 1036.6 202.7 1036.6 222.2 1040.2 C236.3 1042.8 247.5 1047.6 257.8 1050.9 C265.8 1053.4 273.6 1059.7 279.1 1058.0 C284.0 1056.5 284.1 1046.6 289.8 1043.8 C298.2 1039.6 314.0 1042.9 328.9 1043.8 C349.1 1045.1 375.6 1050.1 400.0 1052.7 C425.9 1055.5 458.7 1061.2 480.0 1060.0 C494.3 1059.2 503.7 1055.1 515.6 1052.7 C527.4 1050.3 539.2 1047.6 551.1 1045.6 C562.9 1043.6 574.8 1042.1 586.7 1040.9 C598.5 1039.7 610.4 1038.8 622.2 1038.4 C634.1 1038.0 646.0 1037.8 657.8 1038.4 C669.7 1039.0 681.5 1040.8 693.3 1042.0 C705.2 1043.2 717.0 1044.4 728.9 1045.6 C740.7 1046.8 752.6 1047.9 764.4 1049.1 C776.3 1050.3 788.1 1051.8 800.0 1052.7 C811.9 1053.6 825.3 1053.3 835.6 1054.4 C843.6 1055.3 851.7 1054.6 856.9 1058.0 C861.4 1061.0 862.9 1067.4 866.0 1072.0 C869.0 1076.4 872.7 1085.5 875.0 1085.0 C877.9 1084.4 879.4 1067.9 880.0 1060.0 C880.5 1053.0 877.7 1045.4 879.0 1040.0 C880.0 1035.9 881.8 1032.4 885.0 1030.0 C889.0 1027.0 895.6 1026.2 902.8 1025.4 C913.6 1024.2 930.2 1025.7 943.9 1026.4 C957.6 1027.1 971.9 1028.6 985.0 1029.5 C996.9 1030.3 1019.0 1031.6 1019.0 1031.6 L1019.0 1130.0 L645.0 1130.0 C645.0 1130.0 651.9 1107.0 645.0 1100.0 C629.9 1084.7 514.9 1105.1 500.0 1098.0 C496.5 1096.3 498.8 1093.7 495.0 1092.0 C467.9 1079.4 86.0 1095.0 86.0 1095.0 L86.0 1030.3 Z" fill="#85c4ea"/>
<path d="M848.0 1032.0 C850.0 1028.8 854.3 1025.0 858.0 1024.0 C861.6 1023.1 866.4 1024.4 870.0 1026.0 C873.7 1027.7 877.7 1030.5 880.0 1034.0 C882.5 1037.7 883.8 1043.1 884.0 1048.0 C884.2 1053.1 883.1 1060.0 881.0 1064.0 C879.3 1067.1 876.8 1070.0 874.0 1071.0 C871.2 1072.0 866.9 1071.4 864.0 1070.0 C860.9 1068.5 858.3 1065.0 856.0 1062.0 C853.6 1059.0 851.7 1055.4 850.0 1052.0 C848.4 1048.7 846.3 1045.4 846.0 1042.0 C845.7 1038.7 846.2 1034.9 848.0 1032.0 Z" fill="#e8f4fb"/>
<path d="M884.0 1053.0 C884.0 1053.2 883.9 1053.4 883.8 1053.6 C883.7 1053.8 883.5 1053.9 883.3 1054.1 C883.1 1054.3 882.8 1054.4 882.5 1054.6 C882.2 1054.7 881.9 1054.8 881.5 1054.9 C881.1 1055.0 880.7 1055.1 880.3 1055.1 C879.9 1055.2 879.4 1055.2 879.0 1055.2 C878.6 1055.2 878.1 1055.2 877.7 1055.1 C877.3 1055.1 876.9 1055.0 876.5 1054.9 C876.1 1054.8 875.8 1054.7 875.5 1054.6 C875.2 1054.4 874.9 1054.3 874.7 1054.1 C874.5 1053.9 874.3 1053.8 874.2 1053.6 C874.1 1053.4 874.0 1053.2 874.0 1053.0 C874.0 1052.8 874.1 1052.6 874.2 1052.4 C874.3 1052.2 874.5 1052.1 874.7 1051.9 C874.9 1051.7 875.2 1051.6 875.5 1051.4 C875.8 1051.3 876.1 1051.2 876.5 1051.1 C876.9 1051.0 877.3 1050.9 877.7 1050.9 C878.1 1050.8 878.6 1050.8 879.0 1050.8 C879.4 1050.8 879.9 1050.8 880.3 1050.9 C880.7 1050.9 881.1 1051.0 881.5 1051.1 C881.9 1051.2 882.2 1051.3 882.5 1051.4 C882.8 1051.6 883.1 1051.7 883.3 1051.9 C883.5 1052.1 883.7 1052.2 883.8 1052.4 C883.9 1052.6 884.0 1052.8 884.0 1053.0 Z" fill="#ffffff"/>
<path d="M858.0 1075.0 C861.0 1073.6 868.0 1082.7 872.0 1086.0 C875.1 1088.6 875.6 1091.3 880.0 1093.0 C890.8 1097.2 921.8 1094.9 943.9 1094.2 C967.9 1093.4 1019.0 1088.0 1019.0 1088.0 L1019.0 1130.0 L858.0 1130.0 C858.0 1130.0 852.8 1077.5 858.0 1075.0 Z" fill="#bde2f4"/>
<path d="M858.0 1085.0 C861.4 1082.8 870.1 1090.8 875.0 1093.0 C878.7 1094.6 880.2 1096.0 885.0 1097.0 C896.3 1099.3 923.1 1099.2 943.9 1098.4 C967.4 1097.5 1019.0 1091.0 1019.0 1091.0 L1019.0 1130.0 L858.0 1130.0 C858.0 1130.0 852.7 1088.4 858.0 1085.0 Z" fill="#e8f4fb"/>
<path d="M890.0 1101.0 C897.6 1093.6 924.5 1103.3 943.9 1102.5 C966.9 1101.5 1019.0 1094.0 1019.0 1094.0 L1019.0 1130.0 L890.0 1130.0 C890.0 1130.0 884.4 1106.4 890.0 1101.0 Z" fill="#ffffff"/>
<path d="M86.0 1033.1 C86.0 1033.1 130.5 1037.7 151.1 1040.2 C169.8 1042.5 188.5 1044.7 204.4 1047.3 C217.5 1049.5 230.8 1051.2 240.0 1054.4 C246.2 1056.6 253.9 1058.6 255.0 1062.0 C255.9 1064.8 253.1 1069.7 250.0 1072.0 C245.9 1075.2 237.4 1075.1 230.0 1076.0 C221.0 1077.0 211.3 1076.8 200.0 1077.0 C185.5 1077.2 167.7 1077.1 150.0 1077.0 C130.0 1076.8 86.0 1076.0 86.0 1076.0 L86.0 1033.1 Z" fill="#4b8ecb"/>
<path d="M282.0 1058.0 C283.2 1054.2 285.5 1049.3 290.0 1047.0 C297.7 1043.0 315.1 1045.8 328.9 1046.5 C344.8 1047.3 364.0 1049.9 380.0 1052.0 C394.2 1053.8 409.0 1056.1 420.0 1058.0 C427.8 1059.4 435.8 1059.5 440.0 1062.0 C442.6 1063.6 445.5 1066.4 445.0 1068.0 C444.3 1070.2 435.9 1071.1 430.0 1072.0 C421.8 1073.2 412.1 1072.8 400.0 1073.0 C381.5 1073.3 350.1 1073.3 330.0 1073.0 C314.8 1072.8 298.1 1074.0 290.0 1072.0 C286.2 1071.0 283.4 1070.2 282.0 1068.0 C280.6 1065.7 280.9 1061.2 282.0 1058.0 Z" fill="#4b8ecb"/>
<path d="M463.0 1068.0 C463.4 1065.4 473.3 1064.6 480.0 1063.0 C489.7 1060.7 503.7 1058.5 515.6 1056.2 C527.4 1053.9 539.2 1051.2 551.1 1049.1 C562.9 1047.0 574.8 1045.3 586.7 1043.8 C598.5 1042.3 610.3 1040.7 622.2 1040.2 C634.0 1039.7 646.0 1040.0 657.8 1040.9 C669.7 1041.8 681.4 1044.2 693.3 1045.6 C705.1 1047.0 717.0 1047.9 728.9 1049.1 C740.7 1050.3 752.6 1051.5 764.4 1052.7 C776.3 1053.9 788.1 1055.3 800.0 1056.2 C811.9 1057.1 825.8 1057.3 835.6 1058.0 C842.5 1058.5 849.6 1057.4 853.3 1059.8 C856.0 1061.6 857.5 1064.8 858.0 1068.0 C858.6 1071.9 858.8 1078.3 855.0 1082.0 C847.5 1089.2 821.1 1089.6 800.0 1092.0 C771.7 1095.3 729.1 1095.5 700.0 1097.0 C677.5 1098.1 663.4 1100.0 640.0 1100.0 C606.9 1100.0 542.9 1099.5 520.0 1094.0 C510.2 1091.6 506.8 1087.3 500.0 1085.0 C493.4 1082.7 486.2 1082.8 480.0 1080.0 C473.8 1077.2 462.5 1070.9 463.0 1068.0 Z" fill="#4b8ecb"/>
<path d="M878.1 1039.8 C878.2 1036.3 878.0 1033.5 880.2 1031.6 C883.8 1028.6 894.1 1029.9 902.8 1029.5 C914.5 1029.0 930.2 1029.0 943.9 1029.5 C957.6 1030.0 971.9 1031.9 985.0 1032.6 C996.9 1033.2 1019.0 1033.6 1019.0 1033.6 L1019.0 1085.0 C1019.0 1085.0 981.3 1088.0 964.4 1089.1 C949.7 1090.0 936.2 1091.7 923.3 1091.2 C911.7 1090.8 897.2 1092.4 890.4 1087.0 C884.6 1082.4 884.2 1072.2 882.2 1064.4 C880.1 1056.5 877.8 1045.8 878.1 1039.8 Z" fill="#4b8ecb"/>
<path d="M86.0 1081.0 C86.0 1081.0 127.5 1082.0 150.0 1082.0 C175.2 1082.0 204.2 1082.1 230.0 1081.0 C254.1 1080.0 274.6 1076.9 300.0 1076.0 C330.4 1074.9 369.6 1075.6 400.0 1076.0 C425.4 1076.4 453.9 1074.7 470.0 1078.0 C478.9 1079.8 487.0 1081.6 490.0 1086.0 C492.4 1089.5 493.9 1096.1 490.0 1100.0 C468.9 1121.1 86.0 1100.0 86.0 1100.0 L86.0 1081.0 Z" fill="#bde2f4"/>
<path d="M86.0 1084.0 C86.0 1084.0 127.5 1085.0 150.0 1085.0 C175.2 1085.0 204.2 1085.2 230.0 1084.0 C254.1 1082.9 274.6 1079.5 300.0 1078.5 C330.3 1077.3 369.6 1078.2 400.0 1078.5 C425.4 1078.8 454.0 1076.4 470.0 1080.0 C479.0 1082.0 487.2 1084.7 490.0 1089.0 C492.0 1092.0 493.1 1096.9 490.0 1100.0 C470.9 1119.1 86.0 1100.0 86.0 1100.0 L86.0 1084.0 Z" fill="#e8f4fb"/>
<path d="M86.0 1036.7 C86.0 1036.7 132.7 1041.0 151.1 1043.8 C164.8 1045.9 175.6 1048.1 186.7 1050.9 C196.8 1053.5 214.9 1056.3 215.1 1059.8 C215.3 1063.4 196.9 1069.5 186.7 1072.2 C175.7 1075.1 164.8 1074.9 151.1 1075.8 C132.7 1077.0 86.0 1077.6 86.0 1077.6 L86.0 1036.7 Z" fill="#23559f"/>
<path d="M285.0 1060.0 C285.1 1057.0 290.1 1052.1 295.0 1050.0 C302.7 1046.7 316.4 1048.3 330.0 1049.0 C349.4 1050.0 383.9 1054.2 400.0 1058.0 C408.8 1060.1 420.1 1063.0 420.0 1065.0 C419.9 1067.0 408.8 1069.0 400.0 1070.0 C383.8 1071.8 350.1 1068.8 330.0 1068.0 C314.8 1067.4 296.7 1069.3 290.0 1066.0 C287.0 1064.5 284.9 1062.2 285.0 1060.0 Z" fill="#23559f"/>
<path d="M494.2 1066.9 C496.5 1063.9 507.6 1063.6 515.6 1061.6 C525.9 1059.0 539.2 1055.4 551.1 1052.7 C562.9 1050.0 574.8 1047.4 586.7 1045.6 C598.5 1043.8 610.3 1042.3 622.2 1042.0 C634.0 1041.7 646.0 1042.6 657.8 1043.8 C669.7 1045.0 681.4 1047.6 693.3 1049.1 C705.1 1050.6 717.0 1051.5 728.9 1052.7 C740.7 1053.9 752.5 1055.3 764.4 1056.2 C776.2 1057.1 788.1 1058.0 800.0 1058.0 C811.9 1058.0 825.8 1055.5 835.6 1056.2 C842.6 1056.7 851.8 1057.0 853.3 1059.8 C854.3 1061.8 851.9 1065.3 849.8 1068.0 C846.9 1071.8 841.8 1076.4 835.6 1079.3 C826.8 1083.4 814.0 1084.7 800.0 1086.4 C780.4 1088.8 752.6 1088.4 728.9 1090.0 C705.2 1091.6 681.5 1095.2 657.8 1096.0 C634.1 1096.8 610.3 1097.7 586.7 1095.0 C562.9 1092.2 532.3 1084.0 515.6 1079.3 C506.3 1076.7 496.5 1075.2 494.2 1072.0 C493.1 1070.5 493.1 1068.3 494.2 1066.9 Z" fill="#23559f"/>
<path d="M898.7 1037.7 C905.4 1035.7 914.0 1035.3 923.3 1034.6 C935.2 1033.7 949.7 1033.4 964.4 1033.6 C981.3 1033.9 1019.0 1036.7 1019.0 1036.7 L1019.0 1077.0 C1019.0 1077.0 981.3 1081.6 964.4 1082.9 C949.7 1084.1 935.2 1085.7 923.3 1085.0 C914.0 1084.5 904.2 1085.0 898.7 1080.9 C893.9 1077.4 892.4 1070.3 890.4 1064.4 C888.2 1058.1 884.1 1048.4 886.3 1043.9 C888.1 1040.3 893.7 1039.2 898.7 1037.7 Z" fill="#23559f"/>
<path d="M86.0 1040.2 C86.0 1040.2 118.7 1043.7 133.3 1045.6 C146.0 1047.3 160.0 1047.2 168.9 1050.9 C175.1 1053.5 183.2 1058.3 183.1 1061.6 C183.0 1064.8 175.0 1068.5 168.9 1070.4 C160.0 1073.2 146.0 1071.9 133.3 1072.2 C118.7 1072.6 86.0 1072.2 86.0 1072.2 L86.0 1040.2 Z" fill="#1c2a60"/>
<path d="M343.0 1058.0 C343.0 1058.4 342.7 1058.9 342.3 1059.3 C341.8 1059.8 341.0 1060.2 340.2 1060.5 C339.2 1060.9 338.0 1061.2 336.8 1061.5 C335.5 1061.9 334.0 1062.1 332.5 1062.3 C330.9 1062.6 329.2 1062.7 327.4 1062.8 C325.7 1062.9 323.8 1063.0 322.0 1063.0 C320.2 1063.0 318.3 1062.9 316.6 1062.8 C314.8 1062.7 313.1 1062.6 311.5 1062.3 C310.0 1062.1 308.5 1061.9 307.2 1061.5 C306.0 1061.2 304.8 1060.9 303.8 1060.5 C303.0 1060.2 302.2 1059.8 301.7 1059.3 C301.3 1058.9 301.0 1058.4 301.0 1058.0 C301.0 1057.6 301.3 1057.1 301.7 1056.7 C302.2 1056.2 303.0 1055.8 303.8 1055.5 C304.8 1055.1 306.0 1054.8 307.2 1054.5 C308.5 1054.1 310.0 1053.9 311.5 1053.7 C313.1 1053.4 314.8 1053.3 316.6 1053.2 C318.3 1053.1 320.2 1053.0 322.0 1053.0 C323.8 1053.0 325.7 1053.1 327.4 1053.2 C329.2 1053.3 330.9 1053.4 332.5 1053.7 C334.0 1053.9 335.5 1054.1 336.8 1054.5 C338.0 1054.8 339.2 1055.1 340.2 1055.5 C341.0 1055.8 341.8 1056.2 342.3 1056.7 C342.7 1057.1 343.0 1057.6 343.0 1058.0 Z" fill="#1c2a60"/>
<path d="M533.3 1063.3 C536.4 1057.3 556.9 1054.2 568.9 1050.9 C580.6 1047.7 592.5 1045.5 604.4 1043.8 C616.2 1042.1 628.1 1040.9 640.0 1040.9 C651.9 1040.9 664.9 1041.9 675.6 1043.8 C684.7 1045.5 691.8 1048.6 700.4 1050.9 C709.5 1053.3 718.9 1055.5 728.9 1058.0 C740.1 1060.8 757.2 1063.5 764.4 1066.9 C767.9 1068.6 771.9 1070.6 771.6 1072.2 C771.1 1075.0 755.8 1077.3 746.7 1079.3 C736.0 1081.6 723.0 1082.9 711.1 1084.7 C699.3 1086.5 687.4 1088.2 675.6 1090.0 C663.7 1091.8 651.9 1094.4 640.0 1095.3 C628.2 1096.2 615.6 1095.6 604.4 1095.3 C594.4 1095.0 585.1 1095.2 576.0 1093.6 C567.3 1092.1 558.0 1089.8 551.1 1086.4 C545.4 1083.6 539.8 1080.0 536.9 1075.8 C534.4 1072.2 531.5 1066.8 533.3 1063.3 Z" fill="#1c2a60"/>
<path d="M1019.0 1039.8 C1019.0 1039.8 989.2 1037.9 974.7 1037.7 C960.7 1037.5 945.5 1037.8 933.6 1038.7 C924.3 1039.4 910.8 1038.8 908.9 1041.8 C907.9 1043.3 910.1 1045.7 911.0 1048.0 C912.1 1051.0 912.4 1055.7 915.1 1058.3 C918.5 1061.6 930.9 1061.3 931.6 1064.4 C932.3 1067.5 918.5 1074.0 919.2 1076.8 C919.9 1079.3 927.5 1080.4 933.6 1080.9 C943.7 1081.8 960.8 1078.5 974.7 1076.8 C989.2 1075.1 1019.0 1070.6 1019.0 1070.6 L1019.0 1039.8 Z" fill="#1c2a60"/>
<path d="M815.0 1085.0 C817.7 1081.5 825.0 1081.3 830.0 1081.0 C835.0 1080.7 841.7 1080.4 845.0 1083.0 C848.1 1085.4 850.1 1091.2 850.0 1095.0 C849.9 1098.5 848.3 1102.9 845.0 1105.0 C839.5 1108.4 819.5 1109.5 815.0 1105.0 C811.3 1101.3 812.0 1088.9 815.0 1085.0 Z" fill="#ffffff"/>
<path d="M826.7 1094.5 C825.9 1092.8 828.2 1089.0 830.0 1087.0 C831.9 1084.8 835.1 1082.6 838.0 1082.0 C840.8 1081.4 845.8 1081.5 847.0 1083.3 C848.4 1085.2 845.1 1090.6 844.8 1094.0 C844.5 1097.1 846.2 1102.2 844.8 1103.0 C843.3 1103.9 838.2 1098.4 835.0 1097.0 C832.2 1095.7 827.5 1096.2 826.7 1094.5 Z" fill="#ffffff"/>
<g fill="#d3d3d3" stroke="#000" stroke-width="1.3" stroke-linejoin="round">
<path d="M71.5 812.8 L69.7 811.5 L66.8 809.7 L62.9 810.2 L63.2 806.3 L61.4 805.6 L62.9 801.9 L63.2 797.3 L61.9 794.7 L65.3 792.9 L73.0 793.4 L81.3 793.6 L82.9 790.5 L82.9 786.9 L80.3 783.8 L74.3 782.3 L73.8 780.4 L78.2 779.7 L81.9 779.9 L81.1 777.3 L86.5 777.9 L90.1 776.0 L92.5 774.0 L95.3 772.9 L96.9 771.4 L98.4 768.8 L101.5 767.5 L104.1 767.5 L108.0 767.0 L108.8 764.9 L108.3 762.3 L107.3 759.5 L108.3 758.2 L113.5 756.6 L113.2 758.4 L112.7 760.5 L111.4 763.6 L111.9 764.9 L114.5 766.2 L118.4 765.2 L122.3 766.2 L127.5 765.4 L133.9 764.1 L137.6 763.9 L140.9 763.1 L140.4 759.7 L142.5 757.1 L144.6 756.9 L148.5 758.4 L149.2 755.1 L146.9 752.7 L150.0 752.0 L158.6 752.0 L164.3 750.9 L161.2 750.1 L156.0 749.4 L150.8 750.1 L145.6 750.9 L141.7 748.6 L141.7 746.0 L140.9 742.9 L144.3 740.8 L150.8 737.7 L149.5 735.7 L144.3 735.7 L140.4 739.0 L135.2 741.6 L131.4 744.7 L130.6 748.1 L133.9 750.1 L132.7 752.5 L128.8 755.8 L128.5 759.2 L123.6 760.8 L119.4 762.3 L118.7 760.8 L116.6 756.6 L115.0 753.3 L113.2 752.2 L111.9 753.3 L106.7 755.8 L101.5 755.3 L100.3 753.3 L99.0 749.9 L99.0 746.8 L100.8 744.7 L105.4 742.9 L109.3 741.3 L113.2 739.0 L118.4 735.1 L122.3 731.2 L126.2 728.7 L130.1 727.4 L135.2 725.3 L143.0 724.0 L152.9 721.9 L158.6 722.4 L163.8 724.8 L167.6 725.6 L171.5 726.6 L179.3 727.1 L189.7 730.5 L193.0 733.1 L189.7 734.6 L184.5 735.1 L176.7 733.8 L171.5 733.6 L176.2 739.0 L181.9 740.6 L191.0 739.0 L198.7 734.4 L200.6 735.1 L200.0 730.2 L206.5 729.4 L211.7 730.7 L223.4 728.7 L227.2 729.4 L236.3 727.9 L241.5 727.9 L244.1 725.3 L251.9 726.1 L259.6 728.1 L263.5 729.4 L264.8 727.4 L259.6 724.8 L259.6 722.2 L264.8 717.5 L273.9 718.3 L275.2 724.8 L276.5 732.5 L280.4 731.2 L281.7 724.8 L285.6 719.6 L290.7 718.8 L294.6 715.7 L298.5 719.6 L308.9 715.7 L311.5 713.1 L332.2 709.2 L345.2 708.0 L355.5 704.8 L363.3 706.7 L376.3 708.0 L380.2 710.5 L373.7 714.4 L365.9 715.7 L376.3 715.5 L386.6 715.5 L394.4 717.0 L404.8 717.0 L412.6 715.5 L420.3 719.6 L425.5 722.2 L435.9 720.6 L446.2 720.9 L448.8 718.3 L464.4 718.8 L474.8 720.9 L482.5 722.4 L492.9 722.2 L500.7 724.8 L505.9 725.8 L516.2 726.1 L526.6 724.8 L534.4 725.3 L542.1 725.6 L552.5 727.6 L560.3 731.2 L568.0 733.8 L577.1 735.1 L573.2 736.4 L571.9 739.0 L562.9 739.5 L557.7 736.4 L552.5 737.7 L548.6 739.0 L546.0 744.2 L537.0 746.0 L526.6 750.7 L516.2 750.7 L511.0 750.9 L508.4 754.5 L505.9 757.1 L508.4 761.0 L500.7 767.5 L496.8 769.3 L492.1 774.0 L490.3 770.1 L489.3 763.6 L489.8 758.4 L492.9 755.8 L500.7 749.4 L508.4 745.5 L500.7 746.0 L490.3 746.5 L485.1 752.0 L474.8 751.7 L461.8 752.2 L454.0 753.3 L443.6 759.7 L438.5 764.9 L443.6 766.2 L450.1 768.3 L452.5 770.9 L450.1 776.6 L448.8 780.4 L444.9 784.3 L438.5 790.8 L430.7 795.2 L427.8 794.4 L424.7 796.5 L422.1 799.9 L422.1 801.1 L417.7 803.0 L416.4 804.3 L418.8 806.1 L421.4 810.2 L421.4 814.1 L420.3 815.1 L416.4 816.4 L413.6 816.7 L413.8 814.1 L414.4 810.2 L413.1 808.4 L410.5 807.6 L409.4 805.0 L408.4 803.0 L402.7 801.1 L400.1 805.6 L401.9 802.4 L399.6 800.4 L395.7 802.7 L391.8 804.8 L391.8 807.1 L394.4 809.7 L398.3 808.4 L403.5 809.2 L399.6 811.5 L397.5 813.1 L394.9 815.9 L397.8 819.3 L399.3 823.2 L401.9 825.7 L401.9 827.0 L402.4 828.9 L401.1 832.2 L398.8 834.8 L396.0 838.7 L393.1 842.6 L389.2 845.2 L384.0 847.2 L382.0 848.3 L378.9 849.0 L373.7 850.3 L371.9 853.4 L370.3 851.6 L367.2 850.1 L363.3 851.6 L362.0 853.4 L360.2 856.8 L362.0 860.7 L364.6 863.8 L368.0 867.2 L369.3 872.3 L369.0 876.2 L365.9 878.0 L362.8 879.3 L358.1 883.7 L357.6 880.6 L354.2 878.8 L351.6 874.9 L347.8 873.1 L345.2 871.3 L345.2 874.2 L343.1 880.1 L344.6 882.2 L345.9 885.3 L346.7 887.9 L349.1 888.4 L351.1 889.9 L354.0 894.4 L354.0 898.2 L356.1 902.4 L354.0 902.6 L350.4 900.0 L347.8 898.2 L345.9 894.4 L345.9 890.5 L344.4 888.4 L341.3 884.8 L340.8 881.4 L341.5 876.2 L341.3 872.3 L339.2 865.9 L338.7 863.3 L334.8 863.3 L333.0 865.1 L330.4 864.3 L330.9 859.4 L328.3 855.5 L325.2 851.6 L323.9 848.0 L320.5 849.0 L316.7 849.6 L311.5 850.3 L311.0 852.9 L306.3 855.5 L301.9 860.2 L299.0 863.3 L294.9 865.9 L293.9 872.3 L292.8 877.5 L291.5 879.3 L288.9 882.7 L286.9 885.0 L284.3 883.0 L282.4 877.5 L279.6 872.3 L276.5 864.6 L274.7 856.8 L274.4 851.6 L273.9 848.5 L268.7 852.2 L264.8 848.3 L267.4 847.0 L264.3 845.7 L260.2 841.8 L258.3 840.2 L251.9 840.5 L245.6 840.8 L238.4 839.7 L234.5 839.2 L232.7 835.8 L227.2 837.1 L223.4 836.1 L219.5 833.8 L216.1 829.6 L211.7 828.3 L210.4 829.9 L212.5 834.8 L216.1 837.4 L217.1 841.3 L219.0 838.4 L219.7 842.6 L227.2 843.1 L231.1 840.0 L232.2 837.9 L232.4 842.6 L237.6 844.9 L241.0 847.8 L237.6 852.9 L235.5 856.8 L231.9 859.7 L228.5 862.0 L221.3 865.4 L213.0 868.5 L207.8 871.6 L202.6 872.9 L198.7 873.1 L196.9 868.5 L196.7 864.6 L193.6 860.7 L191.0 856.8 L187.6 850.3 L184.5 843.9 L180.6 838.7 L176.7 833.5 L176.7 829.6 L175.4 832.2 L174.9 834.0 L172.8 832.2 L170.5 828.6 L174.1 837.4 L178.0 843.3 L179.3 845.2 L182.7 851.6 L185.8 859.4 L189.7 865.9 L194.8 869.8 L198.2 873.4 L198.2 876.2 L202.6 878.8 L213.0 876.7 L219.0 875.5 L216.9 881.4 L213.0 887.9 L209.1 894.4 L203.4 900.8 L197.4 906.0 L193.6 909.9 L191.0 912.5 L188.9 916.4 L187.1 918.9 L187.9 923.6 L188.4 926.7 L191.0 933.2 L191.5 943.5 L187.1 950.0 L180.6 954.7 L176.2 957.8 L177.7 963.0 L178.0 968.1 L172.8 971.5 L171.0 973.3 L170.2 978.5 L166.3 983.1 L163.8 986.3 L157.3 992.0 L152.3 994.0 L143.0 994.5 L137.8 996.1 L133.7 994.5 L133.4 990.1 L131.4 985.0 L128.8 979.8 L124.9 974.6 L123.6 965.5 L122.3 963.0 L118.4 955.2 L116.6 951.3 L117.1 946.1 L118.4 941.0 L121.0 933.2 L119.7 928.0 L117.9 921.5 L117.1 918.9 L113.2 915.1 L108.8 908.6 L110.1 907.3 L110.6 903.4 L111.4 899.5 L110.6 896.2 L108.0 894.1 L105.4 894.4 L101.5 894.9 L99.0 891.0 L94.8 889.4 L89.9 889.9 L86.0 891.5 L80.8 893.6 L73.0 892.8 L66.6 894.6 L58.8 889.9 L54.9 887.4 L51.8 884.0 L51.5 881.4 L48.4 878.8 L45.8 876.2 L42.7 874.9 L42.5 872.3 L40.6 867.9 L43.2 864.6 L44.5 859.4 L43.8 855.5 L41.9 851.6 L44.5 844.4 L48.4 838.7 L52.3 834.8 L57.5 832.2 L61.1 827.3 L64.0 819.8 L68.4 818.0 L71.0 813.3 L72.3 813.1 L80.8 815.1 L86.0 813.3 L93.8 810.7 L102.8 810.2 L108.0 810.5 L111.9 809.4 L114.5 810.0 L113.2 810.7 L114.5 814.1 L112.2 817.2 L114.5 820.0 L120.2 820.8 L125.7 822.4 L130.1 825.7 L135.2 827.6 L137.8 824.5 L140.4 821.1 L145.6 821.6 L150.8 824.2 L158.6 825.7 L163.8 825.2 L169.7 825.0 L174.6 825.0 L176.2 822.4 L177.0 820.3 L178.0 818.2 L179.0 815.4 L178.8 812.0 L179.8 811.2 L178.0 811.2 L175.4 810.7 L171.5 812.5 L168.9 811.2 L165.3 810.7 L164.3 812.0 L161.2 811.2 L157.3 810.2 L156.5 807.6 L154.4 806.6 L155.5 804.3 L153.9 803.7 L154.2 802.2 L157.3 801.4 L161.2 800.1 L161.4 799.3 L166.3 799.6 L171.5 797.5 L176.7 797.3 L180.6 799.1 L184.5 800.1 L189.7 799.9 L193.8 798.3 L193.8 795.7 L189.7 793.6 L185.8 790.8 L182.7 789.5 L185.8 785.6 L187.9 783.8 L183.2 784.3 L178.0 785.9 L176.7 788.2 L180.6 788.7 L177.2 790.0 L173.3 791.1 L170.2 788.5 L172.8 786.9 L167.6 785.4 L165.6 785.9 L163.0 788.7 L160.4 791.6 L158.3 794.2 L158.6 797.3 L161.2 799.3 L158.6 799.9 L155.2 800.9 L153.4 800.4 L148.2 800.4 L145.6 801.7 L144.6 801.1 L145.1 804.3 L146.4 806.3 L148.2 807.6 L145.6 808.9 L145.1 811.5 L143.0 810.2 L142.0 810.7 L140.7 808.1 L141.5 806.6 L139.6 804.8 L137.8 803.2 L136.3 801.1 L136.5 797.8 L133.9 796.0 L130.1 794.2 L126.2 792.1 L124.6 790.0 L122.8 789.2 L121.2 787.9 L117.9 788.7 L118.1 790.8 L121.2 793.1 L123.6 796.5 L127.5 798.6 L132.7 800.9 L133.9 802.2 L130.1 801.1 L128.8 803.0 L130.3 805.0 L127.5 807.6 L126.4 806.8 L126.7 802.4 L123.1 800.4 L118.1 798.0 L113.2 794.9 L112.4 792.3 L109.3 791.1 L105.4 792.6 L101.5 794.4 L97.7 793.6 L93.8 794.2 L94.3 796.7 L91.7 798.8 L88.1 800.6 L85.2 803.7 L86.5 805.6 L84.7 806.8 L83.4 808.7 L80.8 810.7 L74.6 811.0 L72.3 812.5 Z"/>
<path d="M1004.5 812.8 L1002.7 811.5 L999.8 809.7 L995.9 810.2 L996.2 806.3 L994.4 805.6 L995.9 801.9 L996.2 797.3 L994.9 794.7 L998.3 792.9 L1006.0 793.4 L1014.3 793.6 L1015.9 790.5 L1015.9 786.9 L1013.3 783.8 L1007.3 782.3 L1006.8 780.4 L1011.2 779.7 L1014.9 779.9 L1014.1 777.3 L1019.5 777.9 L1023.1 776.0 L1025.5 774.0 L1028.3 772.9 L1029.9 771.4 L1031.4 768.8 L1034.5 767.5 L1037.1 767.5 L1041.0 767.0 L1041.8 764.9 L1041.3 762.3 L1040.3 759.5 L1041.3 758.2 L1046.5 756.6 L1046.2 758.4 L1045.7 760.5 L1044.4 763.6 L1044.9 764.9 L1047.5 766.2 L1051.4 765.2 L1055.3 766.2 L1060.5 765.4 L1066.9 764.1 L1070.6 763.9 L1073.9 763.1 L1073.4 759.7 L1075.5 757.1 L1077.6 756.9 L1081.5 758.4 L1082.2 755.1 L1079.9 752.7 L1083.0 752.0 L1091.6 752.0 L1097.3 750.9 L1094.2 750.1 L1089.0 749.4 L1083.8 750.1 L1078.6 750.9 L1074.7 748.6 L1074.7 746.0 L1073.9 742.9 L1077.3 740.8 L1083.8 737.7 L1082.5 735.7 L1077.3 735.7 L1073.4 739.0 L1068.2 741.6 L1064.4 744.7 L1063.6 748.1 L1066.9 750.1 L1065.7 752.5 L1061.8 755.8 L1061.5 759.2 L1056.6 760.8 L1052.4 762.3 L1051.7 760.8 L1049.6 756.6 L1048.0 753.3 L1046.2 752.2 L1044.9 753.3 L1039.7 755.8 L1034.5 755.3 L1033.3 753.3 L1032.0 749.9 L1032.0 746.8 L1033.8 744.7 L1038.4 742.9 L1042.3 741.3 L1046.2 739.0 L1051.4 735.1 L1055.3 731.2 L1059.2 728.7 L1063.1 727.4 L1068.2 725.3 L1076.0 724.0 L1085.9 721.9 L1091.6 722.4 L1096.8 724.8 L1100.6 725.6 L1104.5 726.6 L1112.3 727.1 L1122.7 730.5 L1126.0 733.1 L1122.7 734.6 L1117.5 735.1 L1109.7 733.8 L1104.5 733.6 L1109.2 739.0 L1114.9 740.6 L1124.0 739.0 L1131.7 734.4 L1133.6 735.1 L1133.0 730.2 L1139.5 729.4 L1144.7 730.7 L1156.4 728.7 L1160.2 729.4 L1169.3 727.9 L1174.5 727.9 L1177.1 725.3 L1184.9 726.1 L1192.6 728.1 L1196.5 729.4 L1197.8 727.4 L1192.6 724.8 L1192.6 722.2 L1197.8 717.5 L1206.9 718.3 L1208.2 724.8 L1209.5 732.5 L1213.4 731.2 L1214.7 724.8 L1218.6 719.6 L1223.7 718.8 L1227.6 715.7 L1231.5 719.6 L1241.9 715.7 L1244.5 713.1 L1265.2 709.2 L1278.2 708.0 L1288.5 704.8 L1296.3 706.7 L1309.3 708.0 L1313.2 710.5 L1306.7 714.4 L1298.9 715.7 L1309.3 715.5 L1319.6 715.5 L1327.4 717.0 L1337.8 717.0 L1345.5 715.5 L1353.3 719.6 L1358.5 722.2 L1368.9 720.6 L1379.2 720.9 L1381.8 718.3 L1397.4 718.8 L1407.8 720.9 L1415.5 722.4 L1425.9 722.2 L1433.7 724.8 L1438.8 725.8 L1449.2 726.1 L1459.6 724.8 L1467.4 725.3 L1475.1 725.6 L1485.5 727.6 L1493.3 731.2 L1501.0 733.8 L1510.1 735.1 L1506.2 736.4 L1504.9 739.0 L1495.9 739.5 L1490.7 736.4 L1485.5 737.7 L1481.6 739.0 L1479.0 744.2 L1470.0 746.0 L1459.6 750.7 L1449.2 750.7 L1444.0 750.9 L1441.4 754.5 L1438.8 757.1 L1441.4 761.0 L1433.7 767.5 L1429.8 769.3 L1425.1 774.0 L1423.3 770.1 L1422.3 763.6 L1422.8 758.4 L1425.9 755.8 L1433.7 749.4 L1441.4 745.5 L1433.7 746.0 L1423.3 746.5 L1418.1 752.0 L1407.8 751.7 L1394.8 752.2 L1387.0 753.3 L1376.7 759.7 L1371.5 764.9 L1376.7 766.2 L1383.1 768.3 L1385.5 770.9 L1383.1 776.6 L1381.8 780.4 L1377.9 784.3 L1371.5 790.8 L1363.7 795.2 L1360.8 794.4 L1357.7 796.5 L1355.1 799.9 L1355.1 801.1 L1350.7 803.0 L1349.4 804.3 L1351.8 806.1 L1354.4 810.2 L1354.4 814.1 L1353.3 815.1 L1349.4 816.4 L1346.6 816.7 L1346.8 814.1 L1347.4 810.2 L1346.1 808.4 L1343.5 807.6 L1342.4 805.0 L1341.4 803.0 L1335.7 801.1 L1333.1 805.6 L1334.9 802.4 L1332.6 800.4 L1328.7 802.7 L1324.8 804.8 L1324.8 807.1 L1327.4 809.7 L1331.3 808.4 L1336.5 809.2 L1332.6 811.5 L1330.5 813.1 L1327.9 815.9 L1330.8 819.3 L1332.3 823.2 L1334.9 825.7 L1334.9 827.0 L1335.4 828.9 L1334.1 832.2 L1331.8 834.8 L1329.0 838.7 L1326.1 842.6 L1322.2 845.2 L1317.0 847.2 L1315.0 848.3 L1311.9 849.0 L1306.7 850.3 L1304.9 853.4 L1303.3 851.6 L1300.2 850.1 L1296.3 851.6 L1295.0 853.4 L1293.2 856.8 L1295.0 860.7 L1297.6 863.8 L1301.0 867.2 L1302.3 872.3 L1302.0 876.2 L1298.9 878.0 L1295.8 879.3 L1291.1 883.7 L1290.6 880.6 L1287.2 878.8 L1284.6 874.9 L1280.8 873.1 L1278.2 871.3 L1278.2 874.2 L1276.1 880.1 L1277.6 882.2 L1278.9 885.3 L1279.7 887.9 L1282.1 888.4 L1284.1 889.9 L1287.0 894.4 L1287.0 898.2 L1289.1 902.4 L1287.0 902.6 L1283.3 900.0 L1280.8 898.2 L1278.9 894.4 L1278.9 890.5 L1277.4 888.4 L1274.3 884.8 L1273.8 881.4 L1274.5 876.2 L1274.3 872.3 L1272.2 865.9 L1271.7 863.3 L1267.8 863.3 L1266.0 865.1 L1263.4 864.3 L1263.9 859.4 L1261.3 855.5 L1258.2 851.6 L1256.9 848.0 L1253.5 849.0 L1249.7 849.6 L1244.5 850.3 L1244.0 852.9 L1239.3 855.5 L1234.9 860.2 L1232.0 863.3 L1227.9 865.9 L1226.9 872.3 L1225.8 877.5 L1224.5 879.3 L1221.9 882.7 L1219.9 885.0 L1217.3 883.0 L1215.4 877.5 L1212.6 872.3 L1209.5 864.6 L1207.7 856.8 L1207.4 851.6 L1206.9 848.5 L1201.7 852.2 L1197.8 848.3 L1200.4 847.0 L1197.3 845.7 L1193.2 841.8 L1191.3 840.2 L1184.9 840.5 L1178.6 840.8 L1171.4 839.7 L1167.5 839.2 L1165.7 835.8 L1160.2 837.1 L1156.4 836.1 L1152.5 833.8 L1149.1 829.6 L1144.7 828.3 L1143.4 829.9 L1145.5 834.8 L1149.1 837.4 L1150.1 841.3 L1152.0 838.4 L1152.7 842.6 L1160.2 843.1 L1164.1 840.0 L1165.2 837.9 L1165.4 842.6 L1170.6 844.9 L1174.0 847.8 L1170.6 852.9 L1168.5 856.8 L1164.9 859.7 L1161.5 862.0 L1154.3 865.4 L1146.0 868.5 L1140.8 871.6 L1135.6 872.9 L1131.7 873.1 L1129.9 868.5 L1129.7 864.6 L1126.6 860.7 L1124.0 856.8 L1120.6 850.3 L1117.5 843.9 L1113.6 838.7 L1109.7 833.5 L1109.7 829.6 L1108.4 832.2 L1107.9 834.0 L1105.8 832.2 L1103.5 828.6 L1107.1 837.4 L1111.0 843.3 L1112.3 845.2 L1115.7 851.6 L1118.8 859.4 L1122.7 865.9 L1127.8 869.8 L1131.2 873.4 L1131.2 876.2 L1135.6 878.8 L1146.0 876.7 L1152.0 875.5 L1149.9 881.4 L1146.0 887.9 L1142.1 894.4 L1136.4 900.8 L1130.4 906.0 L1126.6 909.9 L1124.0 912.5 L1121.9 916.4 L1120.1 918.9 L1120.9 923.6 L1121.4 926.7 L1124.0 933.2 L1124.5 943.5 L1120.1 950.0 L1113.6 954.7 L1109.2 957.8 L1110.7 963.0 L1111.0 968.1 L1105.8 971.5 L1104.0 973.3 L1103.2 978.5 L1099.3 983.1 L1096.8 986.3 L1090.3 992.0 L1085.3 994.0 L1076.0 994.5 L1070.8 996.1 L1066.7 994.5 L1066.4 990.1 L1064.4 985.0 L1061.8 979.8 L1057.9 974.6 L1056.6 965.5 L1055.3 963.0 L1051.4 955.2 L1049.6 951.3 L1050.1 946.1 L1051.4 941.0 L1054.0 933.2 L1052.7 928.0 L1050.9 921.5 L1050.1 918.9 L1046.2 915.1 L1041.8 908.6 L1043.1 907.3 L1043.6 903.4 L1044.4 899.5 L1043.6 896.2 L1041.0 894.1 L1038.4 894.4 L1034.5 894.9 L1032.0 891.0 L1027.8 889.4 L1022.9 889.9 L1019.0 891.5 L1013.8 893.6 L1006.0 892.8 L999.6 894.6 L991.8 889.9 L987.9 887.4 L984.8 884.0 L984.5 881.4 L981.4 878.8 L978.8 876.2 L975.7 874.9 L975.5 872.3 L973.6 867.9 L976.2 864.6 L977.5 859.4 L976.8 855.5 L974.9 851.6 L977.5 844.4 L981.4 838.7 L985.3 834.8 L990.5 832.2 L994.1 827.3 L997.0 819.8 L1001.4 818.0 L1004.0 813.3 L1005.3 813.1 L1013.8 815.1 L1019.0 813.3 L1026.8 810.7 L1035.8 810.2 L1041.0 810.5 L1044.9 809.4 L1047.5 810.0 L1046.2 810.7 L1047.5 814.1 L1045.2 817.2 L1047.5 820.0 L1053.2 820.8 L1058.7 822.4 L1063.1 825.7 L1068.2 827.6 L1070.8 824.5 L1073.4 821.1 L1078.6 821.6 L1083.8 824.2 L1091.6 825.7 L1096.8 825.2 L1102.7 825.0 L1107.6 825.0 L1109.2 822.4 L1110.0 820.3 L1111.0 818.2 L1112.0 815.4 L1111.8 812.0 L1112.8 811.2 L1111.0 811.2 L1108.4 810.7 L1104.5 812.5 L1101.9 811.2 L1098.3 810.7 L1097.3 812.0 L1094.2 811.2 L1090.3 810.2 L1089.5 807.6 L1087.4 806.6 L1088.5 804.3 L1086.9 803.7 L1087.2 802.2 L1090.3 801.4 L1094.2 800.1 L1094.4 799.3 L1099.3 799.6 L1104.5 797.5 L1109.7 797.3 L1113.6 799.1 L1117.5 800.1 L1122.7 799.9 L1126.8 798.3 L1126.8 795.7 L1122.7 793.6 L1118.8 790.8 L1115.7 789.5 L1118.8 785.6 L1120.9 783.8 L1116.2 784.3 L1111.0 785.9 L1109.7 788.2 L1113.6 788.7 L1110.2 790.0 L1106.3 791.1 L1103.2 788.5 L1105.8 786.9 L1100.6 785.4 L1098.6 785.9 L1096.0 788.7 L1093.4 791.6 L1091.3 794.2 L1091.6 797.3 L1094.2 799.3 L1091.6 799.9 L1088.2 800.9 L1086.4 800.4 L1081.2 800.4 L1078.6 801.7 L1077.6 801.1 L1078.1 804.3 L1079.4 806.3 L1081.2 807.6 L1078.6 808.9 L1078.1 811.5 L1076.0 810.2 L1075.0 810.7 L1073.7 808.1 L1074.5 806.6 L1072.6 804.8 L1070.8 803.2 L1069.3 801.1 L1069.5 797.8 L1066.9 796.0 L1063.1 794.2 L1059.2 792.1 L1057.6 790.0 L1055.8 789.2 L1054.2 787.9 L1050.9 788.7 L1051.1 790.8 L1054.2 793.1 L1056.6 796.5 L1060.5 798.6 L1065.7 800.9 L1066.9 802.2 L1063.1 801.1 L1061.8 803.0 L1063.3 805.0 L1060.5 807.6 L1059.4 806.8 L1059.7 802.4 L1056.1 800.4 L1051.1 798.0 L1046.2 794.9 L1045.4 792.3 L1042.3 791.1 L1038.4 792.6 L1034.5 794.4 L1030.7 793.6 L1026.8 794.2 L1027.3 796.7 L1024.7 798.8 L1021.1 800.6 L1018.2 803.7 L1019.5 805.6 L1017.7 806.8 L1016.4 808.7 L1013.8 810.7 L1007.6 811.0 L1005.3 812.5 Z"/>
<path d="M583.6 736.2 L588.8 734.6 L594.0 733.8 L594.7 732.3 L590.1 730.0 L587.5 727.9 L596.6 726.1 L601.7 724.0 L612.6 721.4 L619.9 722.4 L625.1 722.7 L635.4 724.0 L643.2 724.8 L653.6 725.8 L661.4 727.4 L669.1 726.1 L676.9 725.8 L684.7 724.8 L692.5 726.1 L697.6 726.1 L708.0 727.4 L715.8 727.9 L721.0 730.5 L733.9 730.0 L744.3 727.9 L754.6 730.5 L765.0 730.0 L770.2 731.2 L771.5 728.7 L775.4 720.9 L780.6 723.5 L785.8 726.1 L790.9 728.7 L796.1 729.2 L799.2 726.1 L806.5 727.4 L807.8 730.0 L803.9 733.8 L796.1 733.8 L793.5 737.7 L790.9 740.3 L785.8 740.3 L783.2 744.2 L775.4 748.1 L774.1 753.3 L778.0 756.4 L785.8 758.4 L793.5 761.8 L798.7 763.1 L805.2 763.6 L806.5 768.8 L809.6 772.7 L814.3 772.7 L814.8 768.8 L813.0 764.9 L818.1 761.5 L820.5 758.4 L818.1 754.5 L818.1 749.4 L816.9 744.7 L824.6 745.0 L832.4 746.8 L837.6 748.1 L838.9 753.3 L844.1 755.3 L848.0 753.8 L851.8 749.9 L855.7 755.8 L859.6 761.0 L863.5 763.6 L870.0 766.2 L873.9 770.1 L874.6 771.4 L870.0 772.9 L863.5 776.0 L853.1 775.8 L846.7 776.6 L841.5 778.6 L836.3 783.0 L835.0 784.3 L840.2 781.2 L848.0 778.6 L852.6 779.7 L850.5 781.7 L851.8 784.3 L854.4 786.9 L859.6 787.9 L863.5 786.9 L862.2 788.7 L854.4 790.5 L848.7 793.4 L847.4 790.8 L851.8 788.7 L845.4 789.5 L841.5 791.3 L837.1 792.9 L835.5 795.7 L837.6 798.0 L833.7 798.8 L829.8 799.6 L827.2 800.9 L827.2 803.7 L824.6 805.3 L823.3 807.1 L822.0 810.2 L823.3 814.9 L820.7 816.2 L816.9 818.5 L813.7 820.0 L809.3 823.2 L808.0 827.0 L809.1 830.9 L811.7 836.6 L811.1 840.5 L809.1 840.8 L807.0 837.4 L804.7 834.0 L803.9 830.9 L801.3 828.3 L797.4 828.9 L793.5 827.6 L789.6 827.3 L786.8 827.8 L787.8 830.4 L784.5 830.7 L780.6 829.4 L775.4 829.4 L771.5 831.7 L767.1 834.8 L766.8 839.2 L765.8 843.9 L765.5 849.0 L767.1 852.9 L769.9 856.3 L774.1 858.9 L779.3 857.8 L783.2 856.8 L784.5 854.7 L784.7 851.6 L788.3 850.6 L793.5 850.3 L792.5 853.7 L791.5 858.1 L790.2 862.0 L788.6 864.8 L792.2 865.1 L796.1 864.6 L801.3 865.1 L803.4 867.2 L802.1 872.3 L802.3 877.5 L805.2 881.4 L809.1 883.0 L813.0 881.1 L816.9 882.2 L818.7 884.0 L820.0 883.7 L823.3 878.8 L825.9 877.5 L829.8 876.7 L833.7 873.9 L835.0 876.2 L837.6 876.2 L841.5 878.8 L848.0 878.6 L853.1 878.6 L857.0 878.6 L859.6 880.1 L862.2 884.0 L866.1 886.6 L870.0 890.5 L876.5 890.7 L881.6 891.8 L885.5 895.1 L886.8 898.2 L889.4 901.3 L889.4 906.0 L893.3 908.6 L899.8 908.6 L905.0 912.5 L911.4 913.5 L917.9 915.1 L922.6 918.4 L927.0 919.5 L928.8 924.1 L928.3 929.3 L924.4 933.2 L919.2 939.7 L917.9 944.8 L917.4 951.8 L915.9 956.5 L914.0 960.4 L910.1 965.5 L907.0 965.5 L901.1 967.6 L895.9 970.7 L893.0 974.6 L892.8 979.8 L888.9 986.3 L884.2 990.1 L880.3 993.5 L876.7 996.4 L872.6 996.1 L867.4 994.5 L870.8 998.7 L872.1 1000.5 L870.0 1004.4 L863.5 1006.7 L857.8 1006.4 L858.3 1010.1 L854.4 1012.7 L850.5 1011.6 L851.8 1015.5 L853.9 1016.3 L850.5 1017.3 L849.8 1022.5 L844.1 1025.1 L848.0 1029.0 L844.1 1034.2 L840.2 1036.7 L841.7 1041.4 L838.9 1041.9 L836.3 1044.5 L833.7 1045.5 L827.2 1041.9 L824.6 1038.0 L823.3 1030.3 L825.9 1025.1 L827.2 1019.9 L828.5 1014.7 L828.0 1008.3 L828.5 1001.8 L832.4 995.3 L833.7 988.8 L833.7 981.1 L836.3 970.7 L837.1 965.5 L836.8 953.9 L833.7 950.8 L824.6 945.6 L821.3 941.0 L819.2 937.1 L815.6 930.6 L813.0 925.4 L809.1 921.5 L808.3 917.6 L811.7 914.3 L810.4 909.9 L811.7 906.0 L814.3 902.1 L815.6 899.5 L818.7 895.6 L818.4 889.2 L815.6 885.3 L813.0 883.7 L810.4 885.3 L807.8 886.3 L804.4 884.8 L801.3 881.9 L796.9 880.1 L796.6 877.5 L793.5 872.9 L789.6 871.8 L785.8 870.3 L781.9 869.8 L779.3 867.7 L774.1 864.1 L768.9 865.4 L763.7 863.8 L757.2 860.7 L750.8 858.6 L745.6 854.2 L746.1 850.3 L743.0 845.9 L737.8 840.5 L732.6 834.8 L728.2 829.6 L725.6 825.7 L721.5 823.7 L722.3 828.3 L726.1 833.5 L728.7 838.7 L732.6 843.3 L735.2 846.5 L733.1 845.2 L728.7 841.8 L724.8 836.6 L722.3 833.5 L719.7 828.9 L716.6 823.7 L715.3 821.3 L711.9 818.0 L706.4 816.4 L703.1 811.2 L701.5 808.1 L698.2 803.7 L696.9 801.1 L697.4 797.3 L696.3 793.4 L697.9 786.4 L695.8 780.7 L700.2 781.0 L701.8 783.0 L700.2 779.1 L696.3 776.6 L688.6 774.0 L687.3 770.1 L682.1 766.2 L680.8 763.6 L676.9 759.7 L669.1 754.5 L663.9 754.5 L657.5 751.7 L651.0 750.7 L643.2 749.6 L635.4 749.4 L630.2 747.6 L626.4 750.7 L625.6 752.7 L619.9 755.8 L613.4 759.0 L606.9 761.5 L599.1 763.6 L592.7 764.9 L599.1 762.3 L604.3 759.7 L610.8 756.9 L612.1 753.8 L606.9 754.5 L599.9 753.8 L599.1 750.7 L591.4 749.4 L590.1 746.8 L588.8 744.2 L592.7 742.4 L601.7 740.8 L601.7 739.0 L596.6 738.8 L588.3 738.8 Z"/>
<path d="M118.1 807.4 L126.4 806.8 L125.1 810.0 L125.1 811.0 L118.4 808.7 Z"/>
<path d="M107.8 805.0 L107.3 800.1 L109.3 799.3 L111.4 799.9 L110.9 804.8 Z"/>
<path d="M108.3 798.8 L110.4 798.8 L110.6 794.7 L108.3 796.2 Z"/>
<path d="M146.9 814.6 L154.2 814.9 L153.4 815.4 L148.2 815.4 Z"/>
<path d="M169.7 816.2 L170.2 815.1 L175.7 813.6 L173.6 815.6 L171.5 816.4 Z"/>
<path d="M71.2 776.3 L76.9 775.8 L83.4 774.5 L89.6 773.7 L89.9 772.9 L88.1 772.2 L90.4 769.8 L89.4 769.0 L86.8 768.8 L86.3 767.2 L84.7 764.9 L82.1 763.1 L80.8 761.5 L78.2 761.0 L79.5 759.7 L81.3 757.1 L78.2 756.6 L75.6 756.9 L78.2 754.3 L73.0 754.3 L71.5 757.1 L71.0 759.7 L71.7 762.3 L73.6 764.1 L77.2 763.9 L77.7 765.4 L78.2 767.8 L74.1 768.0 L75.1 770.1 L72.5 771.9 L76.9 772.9 L75.1 773.4 Z"/>
<path d="M1004.2 776.3 L1009.9 775.8 L1016.4 774.5 L1022.6 773.7 L1022.9 772.9 L1021.1 772.2 L1023.4 769.8 L1022.4 769.0 L1019.8 768.8 L1019.3 767.2 L1017.7 764.9 L1015.1 763.1 L1013.8 761.5 L1011.2 761.0 L1012.5 759.7 L1014.3 757.1 L1011.2 756.6 L1008.6 756.9 L1011.2 754.3 L1006.0 754.3 L1004.5 757.1 L1004.0 759.7 L1004.7 762.3 L1006.6 764.1 L1010.2 763.9 L1010.7 765.4 L1011.2 767.8 L1007.1 768.0 L1008.1 770.1 L1005.5 771.9 L1009.9 772.9 L1008.1 773.4 Z"/>
<path d="M1002.9 767.8 L1003.5 764.9 L1000.1 762.8 L997.0 763.6 L993.3 765.9 L995.7 768.3 L993.1 771.1 L993.9 772.7 L998.3 771.9 L1002.7 770.9 Z"/>
<path d="M962.0 740.3 L956.8 736.4 L960.7 734.1 L967.2 735.1 L972.4 734.6 L980.1 734.4 L983.8 737.2 L981.4 739.5 L972.4 741.9 L964.6 740.8 Z"/>
<path d="M114.5 702.8 L117.1 699.4 L130.1 698.9 L137.8 697.9 L156.0 698.4 L144.3 703.5 L130.1 708.0 L126.2 706.7 L121.0 704.1 Z"/>
<path d="M202.6 697.6 L215.6 695.0 L241.5 694.2 L254.5 696.3 L228.5 698.9 Z"/>
<path d="M220.8 720.9 L228.5 715.7 L232.4 711.8 L241.5 708.7 L254.5 706.7 L264.8 707.2 L257.1 710.5 L244.1 713.1 L236.3 717.0 L231.1 722.2 L235.0 723.5 L223.4 722.7 Z"/>
<path d="M332.2 702.8 L345.2 701.5 L358.1 700.2 L355.5 697.6 L334.8 696.3 L324.4 698.9 Z"/>
<path d="M441.1 711.8 L451.4 709.2 L469.6 710.5 L461.8 713.1 L443.6 714.4 Z"/>
<path d="M548.6 722.2 L557.7 721.4 L556.4 722.7 L549.9 722.7 Z"/>
<path d="M425.2 818.2 L429.1 817.2 L432.0 816.9 L435.9 816.4 L436.4 818.0 L437.9 819.3 L440.5 817.2 L441.1 816.2 L444.9 816.4 L446.8 814.9 L448.3 815.4 L450.9 813.6 L450.4 810.7 L451.4 807.6 L453.0 805.3 L454.0 803.5 L452.7 801.1 L452.5 798.8 L449.6 799.3 L448.8 802.4 L448.1 805.0 L447.3 807.1 L444.9 809.4 L441.8 810.7 L440.5 809.2 L438.5 813.1 L436.7 813.8 L433.3 814.1 L430.2 814.1 L426.8 816.4 Z"/>
<path d="M425.2 818.2 L427.6 819.8 L426.8 824.5 L424.7 825.7 L423.4 824.7 L423.2 821.3 L421.9 819.8 L424.0 819.0 Z"/>
<path d="M429.4 819.5 L430.7 821.1 L433.8 819.8 L435.1 818.0 L432.0 817.2 L429.9 818.2 Z"/>
<path d="M448.8 798.6 L451.9 797.8 L457.1 797.3 L463.1 793.9 L462.6 791.6 L459.2 791.8 L453.8 788.2 L453.0 792.1 L452.2 794.2 L449.6 794.9 L449.1 796.5 Z"/>
<path d="M454.0 786.9 L457.9 785.6 L456.6 779.1 L459.2 778.6 L457.1 772.2 L456.6 767.5 L455.6 765.4 L454.5 767.5 L453.2 771.4 L454.3 779.1 L453.8 784.3 Z"/>
<path d="M397.3 846.5 L398.8 849.0 L399.6 849.0 L401.1 845.2 L402.2 841.3 L400.9 840.5 L399.1 842.6 Z"/>
<path d="M367.5 856.3 L369.8 858.9 L372.4 857.8 L373.7 855.3 L372.6 854.0 L369.0 854.2 Z"/>
<path d="M293.1 881.1 L293.9 880.6 L296.4 884.0 L298.3 886.8 L298.0 888.9 L294.9 890.7 L293.3 889.2 L292.8 885.3 Z"/>
<path d="M398.6 858.1 L402.7 858.1 L403.0 862.0 L401.1 864.8 L401.1 867.9 L403.5 869.2 L407.4 872.3 L407.6 873.6 L405.6 872.3 L401.9 870.0 L398.6 869.2 L398.6 867.2 L396.5 864.1 L398.0 863.3 Z"/>
<path d="M402.2 887.9 L406.1 885.8 L407.4 884.0 L411.3 880.9 L414.1 887.1 L412.6 889.7 L410.7 891.5 L407.9 889.7 L404.8 886.6 Z"/>
<path d="M408.7 873.6 L411.8 877.5 L410.5 880.1 L407.4 878.8 Z"/>
<path d="M402.2 875.5 L406.1 877.5 L407.4 880.1 L404.8 882.7 L403.2 880.4 L401.9 878.6 Z"/>
<path d="M389.7 884.3 L396.0 878.8 L395.4 877.0 L391.0 883.5 Z"/>
<path d="M368.5 902.1 L369.8 900.8 L373.7 900.8 L378.9 897.7 L382.0 894.4 L385.3 892.5 L387.9 889.2 L389.2 887.9 L391.0 889.9 L394.9 892.3 L391.8 894.9 L391.3 899.5 L394.4 903.4 L390.5 906.0 L390.0 908.6 L387.9 911.2 L386.6 915.1 L382.7 916.1 L378.9 914.3 L375.0 913.8 L371.6 913.5 L371.1 909.9 L368.5 906.8 L368.5 903.4 Z"/>
<path d="M333.0 891.5 L338.7 892.5 L341.8 896.2 L346.5 900.8 L349.1 902.1 L354.2 907.8 L356.8 910.7 L360.7 913.8 L360.2 921.0 L356.8 921.0 L351.1 916.4 L347.8 912.5 L345.9 908.6 L343.1 904.7 L341.3 901.3 L337.4 896.9 L333.5 894.4 Z"/>
<path d="M358.6 923.6 L361.0 921.5 L366.7 922.3 L372.1 923.9 L377.8 923.9 L382.7 925.9 L382.5 928.5 L376.3 927.5 L371.1 927.0 L365.9 926.2 L361.8 925.2 Z"/>
<path d="M382.7 927.0 L385.9 927.7 L384.6 928.8 Z"/>
<path d="M388.7 927.5 L394.4 927.7 L394.9 928.5 L389.2 929.3 Z"/>
<path d="M396.5 928.0 L404.8 927.2 L404.3 928.5 L397.0 928.8 Z"/>
<path d="M406.1 932.7 L410.5 928.3 L415.7 927.7 L410.0 930.6 L407.4 932.4 Z"/>
<path d="M394.4 930.6 L399.1 932.4 L397.0 932.7 Z"/>
<path d="M395.4 920.2 L398.3 920.5 L397.8 913.8 L399.6 913.0 L402.2 917.9 L404.8 918.7 L403.5 915.1 L405.8 908.6 L400.9 908.1 L399.1 909.4 L400.1 904.7 L404.8 904.7 L408.7 904.4 L410.0 901.9 L407.4 903.4 L399.6 902.9 L397.0 904.4 L396.5 907.3 L394.4 913.8 L393.9 915.1 L396.0 916.4 Z"/>
<path d="M416.4 901.3 L417.7 900.3 L419.0 904.7 L417.7 906.0 L416.4 908.1 L415.9 904.7 Z"/>
<path d="M417.7 913.8 L425.0 914.5 L422.9 915.8 L417.7 915.1 Z"/>
<path d="M412.6 914.0 L415.7 914.5 L414.6 915.8 L412.6 915.3 Z"/>
<path d="M425.5 908.6 L428.1 907.0 L433.3 908.1 L435.9 914.5 L442.4 909.9 L446.2 911.2 L451.4 912.7 L457.9 914.5 L463.9 917.9 L464.4 920.2 L468.3 921.8 L469.0 923.6 L465.7 925.4 L470.3 928.8 L474.8 932.4 L472.2 933.2 L467.0 931.9 L464.4 928.0 L459.7 925.9 L457.6 929.3 L455.3 930.1 L451.4 929.6 L446.2 927.0 L443.6 927.7 L442.9 925.9 L444.9 923.6 L441.1 918.4 L435.9 917.4 L432.0 916.4 L428.1 913.2 L432.8 912.0 L428.9 911.7 L425.5 909.9 Z"/>
<path d="M470.9 920.2 L478.6 916.9 L480.7 917.6 L476.0 922.1 L470.9 921.5 Z"/>
<path d="M476.0 912.5 L481.2 915.1 L482.5 917.6 L479.9 915.8 Z"/>
<path d="M491.6 923.6 L498.1 926.7 L496.8 927.2 Z"/>
<path d="M499.4 929.8 L502.7 930.6 L502.0 931.6 L499.6 931.1 Z"/>
<path d="M380.2 963.0 L382.0 962.4 L388.4 959.6 L394.4 957.8 L399.6 956.5 L402.7 952.6 L403.5 949.5 L406.1 948.7 L410.0 943.5 L414.6 941.7 L417.7 944.8 L421.6 944.6 L422.9 940.4 L424.2 938.1 L425.5 937.3 L429.4 937.1 L429.7 935.3 L435.9 937.6 L439.8 937.1 L440.5 939.1 L438.2 941.0 L437.2 944.6 L442.4 948.2 L447.0 951.0 L450.9 951.3 L452.7 947.4 L453.2 939.7 L454.0 934.5 L455.3 933.7 L457.9 939.1 L458.7 942.8 L462.6 944.8 L463.1 948.7 L464.9 954.9 L471.4 958.3 L473.5 963.7 L476.8 964.8 L482.8 971.2 L484.1 979.0 L482.8 985.0 L481.2 990.1 L477.9 993.8 L475.3 998.4 L474.8 1003.1 L469.6 1003.9 L465.2 1007.2 L461.8 1004.4 L459.2 1005.4 L452.7 1005.4 L448.8 1003.1 L447.5 999.2 L444.9 998.2 L443.9 994.5 L442.4 997.1 L440.5 997.1 L443.1 991.4 L441.1 993.2 L438.2 996.1 L435.9 992.7 L433.3 990.1 L428.1 988.8 L420.3 988.1 L415.1 989.6 L407.4 991.4 L406.1 993.8 L397.0 994.0 L391.8 996.9 L386.6 996.6 L384.0 994.8 L385.9 991.4 L385.9 987.5 L384.0 982.4 L382.0 978.5 L379.6 974.1 L380.9 969.4 Z"/>
<path d="M461.0 1011.4 L470.3 1011.9 L469.6 1017.3 L467.0 1018.9 L464.4 1018.6 L462.3 1015.3 Z"/>
<path d="M533.6 995.1 L537.7 998.2 L539.0 1001.3 L541.9 1003.1 L547.3 1003.3 L548.6 1003.9 L547.1 1007.2 L544.7 1008.8 L542.1 1012.1 L540.1 1013.7 L538.5 1012.9 L539.5 1009.3 L536.4 1007.7 L538.5 1004.4 L538.2 1001.8 L534.9 997.4 Z"/>
<path d="M533.6 1010.9 L537.7 1012.1 L537.0 1014.7 L534.4 1017.3 L533.6 1019.4 L530.0 1020.9 L528.4 1024.8 L525.3 1026.6 L520.1 1025.6 L517.5 1023.8 L521.9 1019.9 L527.9 1017.3 L530.5 1014.0 L532.0 1011.6 Z"/>
<path d="M213.8 937.1 L216.9 946.1 L215.1 950.0 L211.7 959.1 L208.3 970.5 L203.1 972.0 L199.3 966.8 L198.2 961.7 L201.1 956.5 L200.0 950.0 L205.2 946.9 L209.9 942.2 L211.7 940.4 Z"/>
<path d="M829.8 704.1 L848.0 709.2 L863.5 709.2 L868.7 710.5 L872.6 713.1 L875.2 718.3 L877.8 722.2 L884.2 723.5 L886.8 726.1 L880.3 728.7 L881.6 732.5 L881.6 735.1 L884.2 739.0 L888.1 742.9 L893.3 748.1 L903.7 750.7 L907.6 750.1 L910.1 748.1 L912.7 742.9 L915.3 739.0 L921.8 736.4 L928.3 733.8 L934.8 730.0 L945.1 728.7 L954.2 726.1 L962.0 723.5 L962.0 718.3 L967.2 714.4 L969.8 709.2 L971.1 705.4 L967.2 701.5 L974.9 697.6 L980.1 695.0 L967.2 693.7 L954.2 691.1 L933.5 689.6 L915.3 690.3 L889.4 692.4 L868.7 693.7 L858.3 695.0 L851.8 697.6 L845.4 698.9 L837.6 701.5 L829.8 703.3 Z"/>
<path d="M851.8 742.9 L849.2 745.5 L841.5 744.7 L832.4 740.8 L823.3 739.5 L816.9 738.8 L819.4 736.4 L828.5 734.6 L831.1 731.0 L825.9 728.4 L818.1 726.1 L811.7 725.3 L801.3 725.0 L796.1 723.5 L788.3 720.9 L790.9 715.7 L798.7 715.2 L811.7 715.7 L819.4 718.0 L829.8 720.9 L837.6 723.5 L842.8 724.8 L846.7 730.0 L855.7 733.1 L859.6 733.8 L854.4 737.7 Z"/>
<path d="M811.7 740.3 L807.8 744.2 L801.3 744.2 L793.5 739.0 L796.1 735.7 L803.9 736.4 L809.1 739.0 Z"/>
<path d="M865.3 782.8 L873.9 777.9 L875.2 772.4 L880.3 777.9 L882.7 783.0 L879.8 785.4 L874.4 784.3 L867.4 784.3 Z"/>
<path d="M799.0 849.3 L803.9 846.7 L810.4 846.2 L816.9 848.3 L822.8 851.4 L827.0 853.7 L817.6 854.5 L818.1 852.4 L815.6 850.1 L808.6 848.8 L804.4 849.0 Z"/>
<path d="M826.2 858.1 L830.3 854.5 L837.6 855.0 L842.0 857.8 L835.0 859.4 L831.1 858.9 Z"/>
<path d="M816.1 858.4 L821.5 859.7 L820.0 859.9 L816.3 858.9 Z"/>
<path d="M844.8 858.1 L849.0 858.6 L848.7 859.4 L844.8 859.4 Z"/>
<path d="M699.4 781.0 L695.0 779.7 L686.5 774.7 L689.9 775.0 L696.3 777.6 Z"/>
<path d="M841.5 1042.4 L849.8 1047.6 L845.4 1048.6 L837.6 1049.2 L832.4 1045.8 L836.3 1043.7 Z"/>
<path d="M860.1 1038.6 L869.2 1039.3 L867.4 1041.1 L860.9 1040.6 Z"/>
<path d="M827.2 1014.2 L828.5 1017.8 L826.7 1017.8 Z"/>
<path d="M617.6 855.3 L617.1 854.2 L616.0 853.7 L614.9 854.2 L614.4 855.3 L614.9 856.4 L616.0 856.8 L617.1 856.4 Z"/>
<path d="M615.0 852.2 L614.7 851.7 L613.9 851.5 L613.2 851.7 L612.9 852.2 L613.2 852.6 L613.9 852.8 L614.7 852.6 Z"/>
<path d="M610.4 850.3 L610.2 850.0 L609.5 849.8 L608.9 850.0 L608.6 850.3 L608.9 850.7 L609.5 850.9 L610.2 850.7 Z"/>
<path d="M606.4 848.9 L606.2 848.5 L605.6 848.4 L605.1 848.5 L604.9 848.9 L605.1 849.3 L605.6 849.4 L606.2 849.3 Z"/>
<path d="M467.5 791.4 L466.7 791.2 L465.4 791.8 L464.2 792.6 L463.9 793.3 L464.6 793.5 L466.0 792.9 L467.2 792.0 Z"/>
<path d="M473.0 788.0 L472.1 788.1 L470.5 789.0 L469.1 790.2 L468.7 791.0 L469.6 790.9 L471.2 790.0 L472.6 788.8 Z"/>
<path d="M477.3 785.5 L476.7 785.5 L475.8 786.0 L474.9 786.7 L474.8 787.3 L475.3 787.3 L476.3 786.8 L477.2 786.1 Z"/>
<path d="M482.3 782.3 L481.8 782.2 L480.9 782.6 L480.3 783.2 L480.2 783.8 L480.7 783.8 L481.5 783.5 L482.2 782.8 Z"/>
<path d="M487.5 778.0 L486.9 778.1 L486.0 778.8 L485.4 779.7 L485.3 780.3 L485.9 780.2 L486.8 779.5 L487.4 778.6 Z"/>
<path d="M490.9 774.4 L490.2 774.4 L489.3 775.1 L488.7 776.0 L488.7 776.6 L489.3 776.6 L490.2 776.0 L490.9 775.1 Z"/>
<path d="M597.7 763.6 L596.9 763.3 L595.0 763.6 L593.3 764.4 L592.8 765.2 L593.7 765.5 L595.5 765.1 L597.2 764.4 Z"/>
<path d="M590.0 766.0 L589.1 765.7 L587.3 766.0 L585.6 766.7 L585.0 767.5 L585.9 767.8 L587.7 767.5 L589.4 766.7 Z"/>
<path d="M581.7 768.6 L581.1 768.3 L579.6 768.4 L578.2 768.9 L577.7 769.5 L578.4 769.8 L579.8 769.7 L581.2 769.2 Z"/>
<path d="M574.3 770.4 L573.5 770.1 L571.9 770.1 L570.3 770.4 L569.6 770.8 L570.3 771.1 L572.0 771.1 L573.6 770.8 Z"/>
<path d="M565.5 771.6 L564.7 771.3 L562.9 771.1 L561.0 771.3 L560.3 771.6 L561.0 772.0 L562.9 772.2 L564.7 772.0 Z"/>
<path d="M558.2 771.9 L557.7 771.5 L556.4 771.4 L555.1 771.5 L554.6 771.9 L555.1 772.3 L556.4 772.4 L557.7 772.3 Z"/>
<path d="M549.4 771.9 L548.8 771.5 L547.3 771.4 L545.9 771.5 L545.2 771.9 L545.9 772.3 L547.3 772.4 L548.8 772.3 Z"/>
<path d="M537.7 769.3 L537.1 768.8 L535.7 768.7 L534.2 768.8 L533.6 769.3 L534.2 769.8 L535.7 770.0 L537.1 769.8 Z"/>
<path d="M519.3 945.9 L518.6 944.2 L517.8 943.6 L517.2 944.5 L517.3 946.3 L517.9 948.1 L518.8 948.7 L519.4 947.8 Z"/>
<path d="M521.9 951.3 L521.6 950.2 L520.9 949.8 L520.1 950.2 L519.8 951.3 L520.1 952.4 L520.9 952.9 L521.6 952.4 Z"/>
<path d="M524.8 956.0 L524.5 955.2 L524.0 954.9 L523.4 955.2 L523.2 956.0 L523.4 956.7 L524.0 957.0 L524.5 956.7 Z"/>
<path d="M518.1 963.3 L517.6 962.2 L515.4 960.4 L513.0 959.1 L511.7 959.0 L512.3 960.1 L514.4 961.9 L516.8 963.2 Z"/>
<path d="M549.1 952.1 L548.6 951.2 L547.3 950.8 L546.0 951.2 L545.5 952.1 L546.0 953.0 L547.3 953.4 L548.6 953.0 Z"/>
<path d="M552.7 948.1 L551.9 947.8 L550.5 948.0 L549.1 948.6 L548.7 949.3 L549.4 949.7 L550.9 949.5 L552.2 948.8 Z"/>
<path d="M573.8 941.5 L573.4 941.1 L572.5 941.0 L571.5 941.1 L571.2 941.5 L571.5 941.8 L572.5 942.0 L573.4 941.8 Z"/>
<path d="M565.7 960.9 L565.5 960.5 L564.9 960.4 L564.4 960.5 L564.2 960.9 L564.4 961.3 L564.9 961.4 L565.5 961.3 Z"/>
<path d="M498.0 926.5 L497.7 925.7 L496.4 924.7 L494.8 924.1 L494.0 924.3 L494.3 925.1 L495.6 926.1 L497.2 926.7 Z"/>
<path d="M503.4 931.5 L502.9 930.8 L501.4 930.1 L499.8 929.8 L499.0 930.2 L499.4 930.9 L501.0 931.6 L502.6 931.9 Z"/>
<path d="M504.9 930.4 L504.9 929.8 L504.2 928.8 L503.3 928.2 L502.7 928.2 L502.7 928.8 L503.3 929.8 L504.2 930.4 Z"/>
<path d="M490.0 922.9 L490.2 922.1 L489.7 921.3 L488.8 920.9 L488.0 921.2 L487.8 922.0 L488.3 922.8 L489.2 923.2 Z"/>
<path d="M632.3 951.6 L632.1 951.2 L631.5 951.0 L631.0 951.2 L630.8 951.6 L631.0 951.9 L631.5 952.1 L632.1 951.9 Z"/>
<path d="M656.9 929.3 L656.7 928.9 L656.2 928.8 L655.6 928.9 L655.4 929.3 L655.6 929.7 L656.2 929.8 L656.7 929.7 Z"/>
<path d="M435.4 886.6 L435.1 885.9 L434.6 885.5 L434.0 885.9 L433.8 886.6 L434.0 887.3 L434.6 887.6 L435.1 887.3 Z"/>
<path d="M444.4 881.4 L444.3 881.0 L443.9 880.9 L443.5 881.0 L443.4 881.4 L443.5 881.8 L443.9 881.9 L444.3 881.8 Z"/>
<path d="M480.2 886.8 L480.0 886.5 L479.4 886.3 L478.9 886.5 L478.6 886.8 L478.9 887.2 L479.4 887.4 L480.0 887.2 Z"/>
<path d="M496.8 888.1 L496.6 887.8 L496.0 887.6 L495.5 887.8 L495.2 888.1 L495.5 888.5 L496.0 888.7 L496.6 888.5 Z"/>
<path d="M509.0 892.3 L508.8 891.9 L508.4 891.8 L508.1 891.9 L507.9 892.3 L508.1 892.6 L508.4 892.8 L508.8 892.6 Z"/>
<path d="M530.5 887.6 L530.2 887.3 L529.7 887.1 L529.1 887.3 L528.9 887.6 L529.1 888.0 L529.7 888.1 L530.2 888.0 Z"/>
<path d="M461.8 871.3 L461.6 870.8 L461.3 870.5 L460.9 870.8 L460.8 871.3 L460.9 871.9 L461.3 872.1 L461.6 871.9 Z"/>
<path d="M464.1 866.6 L464.0 866.1 L463.6 865.9 L463.2 866.1 L463.1 866.6 L463.2 867.2 L463.6 867.4 L464.0 867.2 Z"/>
<path d="M979.6 833.5 L979.3 833.0 L978.6 832.7 L977.8 833.0 L977.5 833.5 L977.8 834.1 L978.6 834.3 L979.3 834.1 Z"/>
<path d="M977.0 832.7 L976.7 832.2 L976.0 832.0 L975.2 832.2 L974.9 832.7 L975.2 833.3 L976.0 833.5 L976.7 833.3 Z"/>
<path d="M984.0 832.5 L983.6 831.9 L982.7 831.7 L981.8 831.9 L981.4 832.5 L981.8 833.0 L982.7 833.3 L983.6 833.0 Z"/>
<path d="M984.8 830.9 L984.5 830.4 L983.8 830.1 L983.0 830.4 L982.7 830.9 L983.0 831.5 L983.8 831.7 L984.5 831.5 Z"/>
<path d="M973.4 832.0 L973.2 831.4 L972.6 831.2 L972.1 831.4 L971.8 832.0 L972.1 832.5 L972.6 832.7 L973.2 832.5 Z"/>
<path d="M958.6 866.9 L958.4 866.4 L957.8 866.1 L957.3 866.4 L957.1 866.9 L957.3 867.5 L957.8 867.7 L958.4 867.5 Z"/>
<path d="M956.8 862.5 L956.4 862.1 L955.5 862.0 L954.6 862.1 L954.2 862.5 L954.6 862.9 L955.5 863.0 L956.4 862.9 Z"/>
<path d="M960.7 864.1 L960.5 863.5 L959.9 863.3 L959.4 863.5 L959.1 864.1 L959.4 864.6 L959.9 864.8 L960.5 864.6 Z"/>
<path d="M949.0 806.1 L948.3 805.7 L946.4 805.6 L944.6 805.7 L943.8 806.1 L944.6 806.4 L946.4 806.6 L948.3 806.4 Z"/>
<path d="M954.2 808.1 L953.8 807.8 L952.9 807.6 L952.0 807.8 L951.6 808.1 L952.0 808.5 L952.9 808.7 L953.8 808.5 Z"/>
<path d="M938.9 803.7 L938.8 803.4 L938.4 803.2 L938.0 803.4 L937.9 803.7 L938.0 804.1 L938.4 804.3 L938.8 804.1 Z"/>
<path d="M976.0 821.3 L975.8 821.0 L975.2 820.8 L974.7 821.0 L974.4 821.3 L974.7 821.7 L975.2 821.9 L975.8 821.7 Z"/>
<path d="M926.1 1047.3 L925.5 1046.7 L923.8 1046.0 L922.0 1045.6 L921.2 1045.8 L921.7 1046.5 L923.4 1047.2 L925.2 1047.6 Z"/>
<path d="M982.5 926.5 L982.3 926.1 L981.9 925.9 L981.6 926.1 L981.4 926.5 L981.6 926.8 L981.9 927.0 L982.3 926.8 Z"/>
<path d="M1004.7 947.2 L1004.6 946.8 L1004.2 946.6 L1003.9 946.8 L1003.7 947.2 L1003.9 947.5 L1004.2 947.7 L1004.6 947.5 Z"/>
<path d="M987.6 1002.0 L987.5 1001.7 L987.1 1001.5 L986.8 1001.7 L986.6 1002.0 L986.8 1002.4 L987.1 1002.6 L987.5 1002.4 Z"/>
<path d="M784.7 907.6 L784.3 906.6 L783.2 906.3 L782.1 906.6 L781.6 907.6 L782.1 908.5 L783.2 908.8 L784.3 908.5 Z"/>
<path d="M785.8 905.5 L785.5 904.9 L785.0 904.7 L784.4 904.9 L784.2 905.5 L784.4 906.0 L785.0 906.3 L785.5 906.0 Z"/>
<path d="M818.4 842.6 L818.1 841.5 L817.4 841.0 L816.6 841.5 L816.3 842.6 L816.6 843.7 L817.4 844.1 L818.1 843.7 Z"/>
<path d="M821.8 841.0 L821.5 840.5 L820.7 840.2 L820.0 840.5 L819.7 841.0 L820.0 841.6 L820.7 841.8 L821.5 841.6 Z"/>
<path d="M823.3 843.9 L823.1 843.3 L822.6 843.1 L822.0 843.3 L821.8 843.9 L822.0 844.4 L822.6 844.6 L823.1 844.4 Z"/>
<path d="M818.9 837.1 L818.3 836.8 L816.9 836.6 L815.4 836.8 L814.8 837.1 L815.4 837.5 L816.9 837.7 L818.3 837.5 Z"/>
<path d="M818.7 837.4 L818.5 836.7 L818.1 836.4 L817.8 836.7 L817.6 837.4 L817.8 838.1 L818.1 838.4 L818.5 838.1 Z"/>
<path d="M829.0 851.6 L828.8 851.3 L828.3 851.1 L827.7 851.3 L827.5 851.6 L827.7 852.0 L828.3 852.2 L828.8 852.0 Z"/>
<path d="M833.4 849.6 L833.1 849.2 L832.4 849.0 L831.7 849.2 L831.4 849.6 L831.7 849.9 L832.4 850.1 L833.1 849.9 Z"/>
<path d="M860.9 879.1 L860.5 878.3 L859.6 878.0 L858.7 878.3 L858.3 879.1 L858.7 879.8 L859.6 880.1 L860.5 879.8 Z"/>
<path d="M861.4 868.2 L861.3 867.7 L860.9 867.4 L860.5 867.7 L860.4 868.2 L860.5 868.8 L860.9 869.0 L861.3 868.8 Z"/>
<path d="M860.4 866.1 L860.2 865.6 L859.9 865.4 L859.5 865.6 L859.4 866.1 L859.5 866.7 L859.9 866.9 L860.2 866.7 Z"/>
<path d="M860.1 864.1 L859.9 863.7 L859.4 863.5 L858.8 863.7 L858.6 864.1 L858.8 864.4 L859.4 864.6 L859.9 864.4 Z"/>
<path d="M865.1 871.8 L864.9 871.5 L864.5 871.3 L864.2 871.5 L864.0 871.8 L864.2 872.2 L864.5 872.3 L864.9 872.2 Z"/>
<path d="M861.4 870.0 L861.3 869.6 L860.9 869.5 L860.5 869.6 L860.4 870.0 L860.5 870.4 L860.9 870.5 L861.3 870.4 Z"/>
<path d="M852.1 858.4 L851.9 858.1 L851.3 858.0 L850.8 858.1 L850.5 858.4 L850.8 858.6 L851.3 858.8 L851.9 858.6 Z"/>
<path d="M841.2 874.4 L841.0 874.1 L840.4 874.0 L839.9 874.1 L839.7 874.4 L839.9 874.7 L840.4 874.8 L841.0 874.7 Z"/>
<path d="M838.4 873.6 L838.2 873.5 L837.8 873.4 L837.5 873.5 L837.3 873.6 L837.5 873.8 L837.8 873.9 L838.2 873.8 Z"/>
<path d="M327.0 874.2 L326.8 872.0 L326.2 871.0 L325.7 872.0 L325.5 874.2 L325.7 876.4 L326.2 877.3 L326.8 876.4 Z"/>
<path d="M327.8 886.6 L327.6 885.5 L327.0 885.0 L326.5 885.5 L326.2 886.6 L326.5 887.7 L327.0 888.1 L327.6 887.7 Z"/>
<path d="M227.2 873.6 L226.8 873.3 L225.7 873.1 L224.6 873.3 L224.1 873.6 L224.6 874.0 L225.7 874.2 L226.8 874.0 Z"/>
<path d="M230.6 960.6 L230.4 960.1 L229.8 959.8 L229.3 960.1 L229.1 960.6 L229.3 961.2 L229.8 961.4 L230.4 961.2 Z"/>
<path d="M236.1 958.3 L235.8 957.7 L235.3 957.5 L234.7 957.7 L234.5 958.3 L234.7 958.8 L235.3 959.1 L235.8 958.8 Z"/>
<path d="M268.2 1033.6 L267.6 1032.7 L266.1 1032.3 L264.7 1032.7 L264.0 1033.6 L264.7 1034.5 L266.1 1034.9 L267.6 1034.5 Z"/>
<path d="M221.0 1026.1 L220.8 1025.8 L220.2 1025.6 L219.7 1025.8 L219.5 1026.1 L219.7 1026.5 L220.2 1026.6 L220.8 1026.5 Z"/>
<path d="M276.7 895.1 L276.7 894.2 L276.5 893.8 L276.3 894.2 L276.2 895.1 L276.3 896.0 L276.5 896.4 L276.7 896.0 Z"/>
<path d="M274.3 924.9 L274.2 924.5 L273.9 924.4 L273.6 924.5 L273.5 924.9 L273.6 925.3 L273.9 925.4 L274.2 925.3 Z"/>
<path d="M199.0 936.3 L198.8 935.9 L198.2 935.8 L197.7 935.9 L197.4 936.3 L197.7 936.7 L198.2 936.8 L198.8 936.7 Z"/>
<path d="M230.4 917.9 L230.2 917.5 L229.8 917.4 L229.5 917.5 L229.3 917.9 L229.5 918.3 L229.8 918.4 L230.2 918.3 Z"/>
<path d="M188.8 921.5 L188.6 921.0 L188.4 920.8 L188.1 921.0 L188.0 921.5 L188.1 922.1 L188.4 922.3 L188.6 922.1 Z"/>
<path d="M190.1 919.5 L189.9 918.9 L189.7 918.7 L189.4 918.9 L189.3 919.5 L189.4 920.0 L189.7 920.2 L189.9 920.0 Z"/>
<path d="M118.1 762.3 L117.7 761.6 L116.6 761.3 L115.5 761.6 L115.0 762.3 L115.5 763.0 L116.6 763.4 L117.7 763.0 Z"/>
<path d="M113.7 762.8 L113.4 762.3 L112.7 762.1 L112.0 762.3 L111.7 762.8 L112.0 763.4 L112.7 763.6 L113.4 763.4 Z"/>
<path d="M134.7 757.4 L134.5 756.5 L133.9 756.1 L133.4 756.5 L133.2 757.4 L133.4 758.3 L133.9 758.7 L134.5 758.3 Z"/>
<path d="M129.4 759.5 L129.3 758.6 L129.0 758.2 L128.7 758.6 L128.6 759.5 L128.7 760.4 L129.0 760.8 L129.3 760.4 Z"/>
<path d="M146.4 754.8 L145.8 754.3 L144.3 754.0 L142.8 754.3 L142.2 754.8 L142.8 755.4 L144.3 755.6 L145.8 755.4 Z"/>
<path d="M145.9 753.5 L145.6 753.1 L144.8 753.0 L144.1 753.1 L143.8 753.5 L144.1 753.9 L144.8 754.0 L145.6 753.9 Z"/>
<path d="M94.8 803.5 L94.4 802.9 L93.5 802.7 L92.6 802.9 L92.2 803.5 L92.6 804.0 L93.5 804.3 L94.4 804.0 Z"/>
<path d="M90.1 805.3 L90.0 805.0 L89.6 804.9 L89.3 805.0 L89.1 805.3 L89.3 805.6 L89.6 805.7 L90.0 805.6 Z"/>
<path d="M97.3 802.6 L97.1 802.3 L96.6 802.2 L96.2 802.3 L96.0 802.6 L96.2 802.8 L96.6 803.0 L97.1 802.8 Z"/>
<path d="M1001.9 745.2 L1001.7 744.9 L1001.1 744.7 L1000.6 744.9 L1000.3 745.2 L1000.6 745.6 L1001.1 745.7 L1001.7 745.6 Z"/>
<path d="M1016.7 749.6 L1016.4 748.7 L1015.9 748.3 L1015.3 748.7 L1015.1 749.6 L1015.3 750.5 L1015.9 750.9 L1016.4 750.5 Z"/>
<path d="M1012.3 753.3 L1012.0 752.9 L1011.2 752.7 L1010.5 752.9 L1010.2 753.3 L1010.5 753.6 L1011.2 753.8 L1012.0 753.6 Z"/>
<path d="M1004.0 757.4 L1003.6 756.5 L1002.7 756.1 L1001.8 756.5 L1001.4 757.4 L1001.8 758.3 L1002.7 758.7 L1003.6 758.3 Z"/>
<path d="M1001.4 756.4 L1001.1 755.4 L1000.3 755.1 L999.6 755.4 L999.3 756.4 L999.6 757.3 L1000.3 757.7 L1001.1 757.3 Z"/>
<path d="M1007.9 765.7 L1007.7 765.3 L1007.3 765.2 L1007.0 765.3 L1006.8 765.7 L1007.0 766.0 L1007.3 766.2 L1007.7 766.0 Z"/>
<path d="M1003.7 761.5 L1003.5 761.0 L1002.9 760.8 L1002.4 761.0 L1002.2 761.5 L1002.4 762.1 L1002.9 762.3 L1003.5 762.1 Z"/>
<path d="M136.0 713.1 L135.8 712.8 L135.2 712.6 L134.7 712.8 L134.5 713.1 L134.7 713.5 L135.2 713.6 L135.8 713.5 Z"/>
<path d="M998.3 722.2 L997.9 721.8 L997.0 721.7 L996.1 721.8 L995.7 722.2 L996.1 722.6 L997.0 722.7 L997.9 722.6 Z"/>
<path d="M149.5 807.2 L149.4 806.5 L148.6 805.7 L147.6 805.3 L146.9 805.5 L147.0 806.2 L147.8 807.0 L148.8 807.4 Z"/>
<path d="M152.3 810.0 L152.2 809.6 L151.8 809.4 L151.5 809.6 L151.3 810.0 L151.5 810.3 L151.8 810.5 L152.2 810.3 Z"/>
<path d="M155.7 804.5 L155.5 804.1 L154.9 804.0 L154.4 804.1 L154.2 804.5 L154.4 804.9 L154.9 805.0 L155.5 804.9 Z"/>
<path d="M159.3 812.0 L159.1 811.7 L158.6 811.5 L158.0 811.7 L157.8 812.0 L158.0 812.4 L158.6 812.5 L159.1 812.4 Z"/>
<path d="M859.1 777.6 L858.0 777.2 L855.6 777.3 L853.3 777.9 L852.4 778.6 L853.5 779.0 L855.8 778.9 L858.2 778.3 Z"/>
<path d="M857.8 785.9 L857.0 785.3 L855.2 785.1 L853.4 785.3 L852.6 785.9 L853.4 786.4 L855.2 786.7 L857.0 786.4 Z"/>
<path d="M831.9 800.4 L831.1 800.1 L829.3 800.0 L827.5 800.1 L826.7 800.4 L827.5 800.6 L829.3 800.8 L831.1 800.6 Z"/>
<path d="M677.6 767.9 L676.7 766.3 L675.6 765.8 L675.0 766.8 L675.1 768.7 L676.0 770.3 L677.1 770.7 L677.8 769.7 Z"/>
<path d="M623.7 756.0 L622.7 755.5 L621.1 756.0 L619.8 757.1 L619.7 758.3 L620.7 758.7 L622.3 758.3 L623.6 757.2 Z"/>
<path d="M582.0 741.9 L581.0 741.1 L578.4 740.8 L575.9 741.1 L574.8 741.9 L575.9 742.6 L578.4 742.9 L581.0 742.6 Z"/>
<path d="M590.3 750.4 L589.9 749.9 L588.8 749.6 L587.7 749.9 L587.2 750.4 L587.7 751.0 L588.8 751.2 L589.9 751.0 Z"/>
<path d="M815.6 745.0 L814.8 744.4 L813.0 744.2 L811.1 744.4 L810.4 745.0 L811.1 745.5 L813.0 745.7 L814.8 745.5 Z"/>
<path d="M808.0 743.4 L807.6 743.1 L806.5 742.9 L805.4 743.1 L804.9 743.4 L805.4 743.8 L806.5 743.9 L807.6 743.8 Z"/>
<path d="M813.0 760.2 L812.6 759.9 L811.7 759.7 L810.8 759.9 L810.4 760.2 L810.8 760.6 L811.7 760.8 L812.6 760.6 Z"/>
<path d="M796.9 745.5 L796.7 745.1 L796.1 745.0 L795.6 745.1 L795.3 745.5 L795.6 745.9 L796.1 746.0 L796.7 745.9 Z"/>
<path d="M764.2 725.8 L763.9 725.1 L762.9 724.8 L762.0 725.1 L761.6 725.8 L762.0 726.5 L762.9 726.8 L763.9 726.5 Z"/>
<path d="M453.2 789.0 L453.1 788.7 L452.7 788.6 L452.4 788.7 L452.2 789.0 L452.4 789.3 L452.7 789.4 L453.1 789.3 Z"/>
<path d="M422.9 832.5 L422.7 832.1 L422.1 832.0 L421.6 832.1 L421.4 832.5 L421.6 832.8 L422.1 833.0 L422.7 832.8 Z"/>
<path d="M418.5 836.7 L418.0 836.7 L417.5 837.1 L417.0 837.7 L417.0 838.1 L417.4 838.1 L418.0 837.7 L418.4 837.1 Z"/>
<path d="M408.7 842.8 L408.4 842.6 L407.9 842.4 L407.3 842.6 L407.1 842.8 L407.3 843.1 L407.9 843.2 L408.4 843.1 Z"/>
<path d="M414.9 819.5 L414.6 819.2 L413.8 819.0 L413.1 819.2 L412.8 819.5 L413.1 819.9 L413.8 820.0 L414.6 819.9 Z"/>
<path d="M401.9 872.3 L401.5 871.8 L400.6 871.6 L399.7 871.8 L399.3 872.3 L399.7 872.9 L400.6 873.1 L401.5 872.9 Z"/>
<path d="M403.0 873.6 L402.7 873.1 L402.2 872.9 L401.6 873.1 L401.4 873.6 L401.6 874.2 L402.2 874.4 L402.7 874.2 Z"/>
<path d="M398.6 931.1 L398.1 930.7 L397.0 930.6 L395.9 930.7 L395.4 931.1 L395.9 931.5 L397.0 931.6 L398.1 931.5 Z"/>
<path d="M417.7 915.3 L417.4 914.8 L416.4 914.5 L415.5 914.8 L415.1 915.3 L415.5 915.9 L416.4 916.1 L417.4 915.9 Z"/>
<path d="M427.6 915.8 L427.4 915.5 L426.8 915.3 L426.3 915.5 L426.0 915.8 L426.3 916.2 L426.8 916.4 L427.4 916.2 Z"/>
<path d="M435.9 921.8 L435.5 920.7 L434.6 920.2 L433.7 920.7 L433.3 921.8 L433.7 922.9 L434.6 923.3 L435.5 922.9 Z"/>
<path d="M414.1 926.5 L413.8 926.1 L413.1 925.9 L412.3 926.1 L412.0 926.5 L412.3 926.8 L413.1 927.0 L413.8 926.8 Z"/>
<path d="M425.2 926.7 L424.9 926.2 L424.2 925.9 L423.5 926.2 L423.2 926.7 L423.5 927.3 L424.2 927.5 L424.9 927.3 Z"/>
<path d="M409.7 927.7 L409.4 927.4 L408.7 927.2 L407.9 927.4 L407.6 927.7 L407.9 928.1 L408.7 928.3 L409.4 928.1 Z"/>
<path d="M432.0 908.3 L431.6 908.0 L430.7 907.8 L429.8 908.0 L429.4 908.3 L429.8 908.7 L430.7 908.8 L431.6 908.7 Z"/>
<path d="M439.0 908.8 L438.6 908.5 L437.7 908.3 L436.8 908.5 L436.4 908.8 L436.8 909.2 L437.7 909.4 L438.6 909.2 Z"/>
<path d="M426.0 908.3 L425.8 908.0 L425.2 907.8 L424.7 908.0 L424.5 908.3 L424.7 908.7 L425.2 908.8 L425.8 908.7 Z"/>
<path d="M412.8 910.9 L412.4 910.6 L411.3 910.4 L410.2 910.6 L409.7 910.9 L410.2 911.3 L411.3 911.4 L412.4 911.3 Z"/>
<path d="M417.5 902.1 L417.4 901.2 L417.2 900.8 L417.0 901.2 L417.0 902.1 L417.0 903.0 L417.2 903.4 L417.4 903.0 Z"/>
<path d="M411.5 896.9 L411.4 896.6 L411.0 896.4 L410.6 896.6 L410.5 896.9 L410.6 897.3 L411.0 897.5 L411.4 897.3 Z"/>
<path d="M404.0 918.4 L403.8 917.5 L403.5 917.1 L403.1 917.5 L403.0 918.4 L403.1 919.3 L403.5 919.7 L403.8 919.3 Z"/>
<path d="M405.8 917.9 L405.7 917.2 L405.3 916.9 L404.9 917.2 L404.8 917.9 L404.9 918.6 L405.3 918.9 L405.7 918.6 Z"/>
<path d="M410.0 910.4 L409.5 910.0 L408.4 909.9 L407.3 910.0 L406.8 910.4 L407.3 910.8 L408.4 910.9 L409.5 910.8 Z"/>
<path d="M405.0 909.6 L404.8 909.3 L404.3 909.1 L403.7 909.3 L403.5 909.6 L403.7 910.0 L404.3 910.1 L404.8 910.0 Z"/>
<path d="M363.5 912.4 L363.1 911.3 L361.6 910.5 L359.9 910.3 L359.0 911.0 L359.4 912.1 L360.9 912.9 L362.5 913.1 Z"/>
<path d="M366.9 913.2 L366.5 912.3 L365.4 912.0 L364.3 912.3 L363.8 913.2 L364.3 914.2 L365.4 914.5 L366.5 914.2 Z"/>
<path d="M357.9 906.8 L357.6 906.0 L356.8 905.7 L356.1 906.0 L355.8 906.8 L356.1 907.5 L356.8 907.8 L357.6 907.5 Z"/>
<path d="M340.7 903.1 L340.1 902.4 L339.5 902.2 L339.1 902.8 L339.3 903.7 L339.8 904.5 L340.5 904.6 L340.8 904.0 Z"/>
<path d="M343.9 909.9 L343.6 909.0 L343.1 908.6 L342.5 909.0 L342.3 909.9 L342.5 910.8 L343.1 911.2 L343.6 910.8 Z"/>
<path d="M351.4 919.7 L351.2 919.4 L350.9 919.2 L350.5 919.4 L350.4 919.7 L350.5 920.1 L350.9 920.2 L351.2 920.1 Z"/>
<path d="M388.4 928.3 L388.1 927.7 L387.4 927.5 L386.7 927.7 L386.4 928.3 L386.7 928.8 L387.4 929.0 L388.1 928.8 Z"/>
<path d="M382.2 924.1 L381.8 923.8 L380.7 923.7 L379.6 923.8 L379.1 924.1 L379.6 924.4 L380.7 924.5 L381.8 924.4 Z"/>
<path d="M379.4 924.1 L379.1 923.9 L378.6 923.9 L378.0 923.9 L377.8 924.1 L378.0 924.3 L378.6 924.4 L379.1 924.3 Z"/>
<path d="M475.5 918.9 L475.3 918.6 L474.8 918.4 L474.2 918.6 L474.0 918.9 L474.2 919.3 L474.8 919.5 L475.3 919.3 Z"/>
<path d="M468.5 911.4 L468.1 911.1 L467.0 910.9 L465.9 911.1 L465.4 911.4 L465.9 911.8 L467.0 912.0 L468.1 911.8 Z"/>
<path d="M477.3 930.6 L477.1 930.0 L476.6 929.8 L476.0 930.0 L475.8 930.6 L476.0 931.1 L476.6 931.4 L477.1 931.1 Z"/>
<path d="M482.3 933.7 L482.0 933.2 L481.2 932.9 L480.5 933.2 L480.2 933.7 L480.5 934.3 L481.2 934.5 L482.0 934.3 Z"/>
<path d="M522.2 1106.6 L521.0 1106.1 L518.3 1105.9 L515.5 1106.1 L514.4 1106.6 L515.5 1107.2 L518.3 1107.4 L521.0 1107.2 Z"/>
<path d="M80.0 1089.4 L86.0 1089.4 L103.8 1087.3 L120.0 1087.3 L144.7 1088.6 L160.0 1086.0 L171.3 1084.1 L176.0 1083.0 L185.6 1087.3 L192.7 1083.2 L214.0 1079.7 L221.1 1076.6 L233.6 1077.9 L246.0 1079.7 L265.6 1080.9 L269.1 1087.7 L275.0 1085.0 L286.0 1084.1 L311.1 1079.3 L346.7 1077.2 L382.2 1076.4 L417.8 1078.2 L453.3 1080.0 L480.0 1083.6 L503.1 1087.1 L528.0 1090.7 L526.2 1094.2 L510.2 1098.7 L507.6 1103.1 L512.0 1107.6 L501.3 1110.2 L502.2 1114.7 L515.6 1119.1 L551.1 1123.6 L586.7 1126.2 L622.2 1127.1 L640.0 1126.2 L622.2 1121.8 L618.7 1116.4 L640.0 1114.7 L625.8 1111.1 L615.1 1107.6 L609.8 1105.8 L631.1 1104.0 L640.0 1102.2 L657.8 1100.4 L680.0 1099.6 L693.3 1098.5 L728.9 1097.8 L764.4 1096.4 L800.0 1094.3 L815.0 1094.0 L826.7 1094.5 L835.0 1097.0 L842.0 1101.0 L844.8 1103.0 L844.8 1094.0 L847.0 1083.3 L853.0 1074.8 L862.0 1071.0 L868.0 1069.8 L874.7 1069.5 L866.0 1075.0 L858.7 1083.3 L860.8 1094.0 L859.7 1101.5 L856.0 1104.3 L864.0 1104.7 L885.3 1107.9 L906.7 1110.0 L922.7 1108.4 L943.1 1102.3 L963.6 1097.2 L984.0 1092.1 L994.2 1090.0 L1004.5 1089.6 L1019.0 1089.0 L1025.0 1089.0 L1025.0 1156.0 L80.0 1156.0 Z"/>
<path d="M772.0 696.0 L785.0 692.0 L800.0 690.0 L830.0 689.5 L856.0 692.0 L858.0 694.0 L845.0 698.0 L834.0 701.6 L826.0 706.0 L810.0 708.0 L790.0 709.0 L776.0 707.0 L770.0 702.0 Z"/>
<path d="M782.4 713.0 L798.9 711.3 L816.6 711.3 L832.0 713.6 L829.6 719.5 L813.1 721.3 L793.0 720.7 L782.4 717.2 Z"/>
<path d="M692.2 713.3 L699.3 711.0 L711.1 711.5 L717.0 715.7 L715.8 722.8 L706.4 725.1 L696.9 723.9 L692.2 719.2 Z"/>
<path d="M712.7 716.2 L723.3 713.9 L741.0 714.5 L755.2 716.2 L759.9 722.1 L752.8 728.0 L735.1 729.2 L717.4 728.0 L712.7 723.3 Z"/>
<path d="M693.5 705.7 L708.9 702.2 L726.6 701.6 L740.7 703.4 L739.5 710.5 L723.0 712.8 L704.1 712.8 L694.7 710.5 Z"/>
<path d="M737.6 701.3 L751.7 699.0 L770.6 700.2 L773.0 708.4 L761.2 712.0 L743.5 712.0 L736.4 707.2 Z"/>
<path d="M755.7 713.3 L769.9 711.5 L784.0 712.1 L786.4 719.2 L779.3 725.1 L764.0 725.1 L755.7 720.3 Z"/>
<path d="M761.1 694.5 L770.6 692.7 L775.3 700.4 L767.0 702.7 L760.0 699.2 Z"/>
</g>
<g fill="#fff" stroke="#000" stroke-width="1.3">
<path d="M213.0 785.6 L219.5 784.3 L223.4 785.6 L223.4 789.5 L219.0 790.8 L216.9 792.1 L220.8 797.3 L223.4 799.9 L223.4 802.4 L224.7 805.0 L225.7 808.9 L219.5 810.7 L214.3 808.9 L212.5 806.3 L213.8 802.4 L214.3 800.9 L210.4 797.3 L209.1 794.7 L208.6 790.8 L207.3 788.2 L209.1 786.9 Z"/>
<path d="M238.9 786.9 L245.4 785.6 L245.4 790.8 L238.9 793.4 L237.6 789.5 Z"/>
<path d="M355.5 772.4 L360.7 770.1 L365.9 767.5 L369.8 761.8 L368.5 762.3 L363.3 768.0 L358.1 771.4 L354.8 772.2 Z"/>
<path d="M277.8 784.8 L290.7 786.1 L290.7 785.4 L277.8 784.3 Z"/>
<path d="M171.5 906.8 L174.1 908.6 L172.8 912.5 L168.9 911.2 L168.4 907.3 Z"/>
<path d="M780.6 785.1 L788.3 781.7 L798.7 784.3 L800.0 785.6 L793.5 785.6 L785.8 785.4 Z"/>
<path d="M792.2 786.9 L798.7 786.9 L795.3 792.1 L794.8 797.3 L791.5 797.3 L792.2 790.8 Z"/>
<path d="M800.0 786.9 L809.1 786.9 L811.7 790.8 L805.2 794.7 L802.6 792.1 L801.3 788.2 Z"/>
<path d="M802.6 798.0 L814.3 795.2 L814.3 796.0 L805.2 798.6 Z"/>
<path d="M812.2 793.9 L821.3 792.1 L821.5 793.4 L813.0 794.2 Z"/>
<path d="M695.0 735.1 L708.0 732.5 L713.2 735.1 L705.4 737.7 L697.6 737.7 Z"/>
<path d="M715.8 748.1 L726.1 744.2 L731.3 745.5 L723.5 748.1 L718.4 748.6 Z"/>
<path d="M161.7 914.5 L163.5 917.6 L165.3 922.8 L166.9 928.3 L165.8 928.5 L164.3 924.1 L162.2 918.9 L161.2 915.1 Z"/>
<path d="M174.1 930.6 L175.7 933.2 L177.2 941.0 L177.5 943.3 L176.2 942.2 L174.6 935.8 L173.9 931.9 Z"/>
<path d="M121.0 872.3 L123.8 870.8 L124.4 872.9 L122.0 873.4 Z"/>
<path d="M765.0 774.0 L767.6 771.4 L766.3 766.7 L762.9 768.8 L762.4 772.7 Z"/>
</g>
</g>
<rect x="357.8" y="796.7" width="70.7" height="72.1" fill="none" stroke="#000" stroke-width="1.6"/>
<rect x="86.0" y="673.0" width="933.0" height="466.0" fill="none" stroke="#000" stroke-width="2"/>
<g stroke="#000" stroke-linecap="butt"><line x1="86.0" y1="673.0" x2="86.0" y2="657.0" stroke-width="2"/><line x1="86.0" y1="1139.0" x2="86.0" y2="1155.0" stroke-width="2"/><line x1="111.5" y1="673.0" x2="111.5" y2="665.0" stroke-width="1"/><line x1="111.5" y1="1139.0" x2="111.5" y2="1147.0" stroke-width="1"/><line x1="137.5" y1="673.0" x2="137.5" y2="665.0" stroke-width="1"/><line x1="137.5" y1="1139.0" x2="137.5" y2="1147.0" stroke-width="1"/><line x1="164.0" y1="673.0" x2="164.0" y2="657.0" stroke-width="2"/><line x1="164.0" y1="1139.0" x2="164.0" y2="1155.0" stroke-width="2"/><line x1="189.5" y1="673.0" x2="189.5" y2="665.0" stroke-width="1"/><line x1="189.5" y1="1139.0" x2="189.5" y2="1147.0" stroke-width="1"/><line x1="215.5" y1="673.0" x2="215.5" y2="665.0" stroke-width="1"/><line x1="215.5" y1="1139.0" x2="215.5" y2="1147.0" stroke-width="1"/><line x1="242.0" y1="673.0" x2="242.0" y2="657.0" stroke-width="2"/><line x1="242.0" y1="1139.0" x2="242.0" y2="1155.0" stroke-width="2"/><line x1="267.5" y1="673.0" x2="267.5" y2="665.0" stroke-width="1"/><line x1="267.5" y1="1139.0" x2="267.5" y2="1147.0" stroke-width="1"/><line x1="293.5" y1="673.0" x2="293.5" y2="665.0" stroke-width="1"/><line x1="293.5" y1="1139.0" x2="293.5" y2="1147.0" stroke-width="1"/><line x1="319.0" y1="673.0" x2="319.0" y2="657.0" stroke-width="2"/><line x1="319.0" y1="1139.0" x2="319.0" y2="1155.0" stroke-width="2"/><line x1="345.5" y1="673.0" x2="345.5" y2="665.0" stroke-width="1"/><line x1="345.5" y1="1139.0" x2="345.5" y2="1147.0" stroke-width="1"/><line x1="371.5" y1="673.0" x2="371.5" y2="665.0" stroke-width="1"/><line x1="371.5" y1="1139.0" x2="371.5" y2="1147.0" stroke-width="1"/><line x1="397.0" y1="673.0" x2="397.0" y2="657.0" stroke-width="2"/><line x1="397.0" y1="1139.0" x2="397.0" y2="1155.0" stroke-width="2"/><line x1="422.5" y1="673.0" x2="422.5" y2="665.0" stroke-width="1"/><line x1="422.5" y1="1139.0" x2="422.5" y2="1147.0" stroke-width="1"/><line x1="448.5" y1="673.0" x2="448.5" y2="665.0" stroke-width="1"/><line x1="448.5" y1="1139.0" x2="448.5" y2="1147.0" stroke-width="1"/><line x1="475.0" y1="673.0" x2="475.0" y2="657.0" stroke-width="2"/><line x1="475.0" y1="1139.0" x2="475.0" y2="1155.0" stroke-width="2"/><line x1="500.5" y1="673.0" x2="500.5" y2="665.0" stroke-width="1"/><line x1="500.5" y1="1139.0" x2="500.5" y2="1147.0" stroke-width="1"/><line x1="526.5" y1="673.0" x2="526.5" y2="665.0" stroke-width="1"/><line x1="526.5" y1="1139.0" x2="526.5" y2="1147.0" stroke-width="1"/><line x1="552.0" y1="673.0" x2="552.0" y2="657.0" stroke-width="2"/><line x1="552.0" y1="1139.0" x2="552.0" y2="1155.0" stroke-width="2"/><line x1="578.5" y1="673.0" x2="578.5" y2="665.0" stroke-width="1"/><line x1="578.5" y1="1139.0" x2="578.5" y2="1147.0" stroke-width="1"/><line x1="604.5" y1="673.0" x2="604.5" y2="665.0" stroke-width="1"/><line x1="604.5" y1="1139.0" x2="604.5" y2="1147.0" stroke-width="1"/><line x1="630.0" y1="673.0" x2="630.0" y2="657.0" stroke-width="2"/><line x1="630.0" y1="1139.0" x2="630.0" y2="1155.0" stroke-width="2"/><line x1="656.5" y1="673.0" x2="656.5" y2="665.0" stroke-width="1"/><line x1="656.5" y1="1139.0" x2="656.5" y2="1147.0" stroke-width="1"/><line x1="682.5" y1="673.0" x2="682.5" y2="665.0" stroke-width="1"/><line x1="682.5" y1="1139.0" x2="682.5" y2="1147.0" stroke-width="1"/><line x1="708.0" y1="673.0" x2="708.0" y2="657.0" stroke-width="2"/><line x1="708.0" y1="1139.0" x2="708.0" y2="1155.0" stroke-width="2"/><line x1="733.5" y1="673.0" x2="733.5" y2="665.0" stroke-width="1"/><line x1="733.5" y1="1139.0" x2="733.5" y2="1147.0" stroke-width="1"/><line x1="759.5" y1="673.0" x2="759.5" y2="665.0" stroke-width="1"/><line x1="759.5" y1="1139.0" x2="759.5" y2="1147.0" stroke-width="1"/><line x1="786.0" y1="673.0" x2="786.0" y2="657.0" stroke-width="2"/><line x1="786.0" y1="1139.0" x2="786.0" y2="1155.0" stroke-width="2"/><line x1="811.5" y1="673.0" x2="811.5" y2="665.0" stroke-width="1"/><line x1="811.5" y1="1139.0" x2="811.5" y2="1147.0" stroke-width="1"/><line x1="837.5" y1="673.0" x2="837.5" y2="665.0" stroke-width="1"/><line x1="837.5" y1="1139.0" x2="837.5" y2="1147.0" stroke-width="1"/><line x1="864.0" y1="673.0" x2="864.0" y2="657.0" stroke-width="2"/><line x1="864.0" y1="1139.0" x2="864.0" y2="1155.0" stroke-width="2"/><line x1="889.5" y1="673.0" x2="889.5" y2="665.0" stroke-width="1"/><line x1="889.5" y1="1139.0" x2="889.5" y2="1147.0" stroke-width="1"/><line x1="915.5" y1="673.0" x2="915.5" y2="665.0" stroke-width="1"/><line x1="915.5" y1="1139.0" x2="915.5" y2="1147.0" stroke-width="1"/><line x1="941.0" y1="673.0" x2="941.0" y2="657.0" stroke-width="2"/><line x1="941.0" y1="1139.0" x2="941.0" y2="1155.0" stroke-width="2"/><line x1="967.5" y1="673.0" x2="967.5" y2="665.0" stroke-width="1"/><line x1="967.5" y1="1139.0" x2="967.5" y2="1147.0" stroke-width="1"/><line x1="993.5" y1="673.0" x2="993.5" y2="665.0" stroke-width="1"/><line x1="993.5" y1="1139.0" x2="993.5" y2="1147.0" stroke-width="1"/><line x1="1019.0" y1="673.0" x2="1019.0" y2="657.0" stroke-width="2"/><line x1="1019.0" y1="1139.0" x2="1019.0" y2="1155.0" stroke-width="2"/><line x1="86.0" y1="1139.0" x2="70.0" y2="1139.0" stroke-width="2"/><line x1="1019.0" y1="1139.0" x2="1035.0" y2="1139.0" stroke-width="2"/><line x1="86.0" y1="1113.5" x2="78.0" y2="1113.5" stroke-width="1"/><line x1="1019.0" y1="1113.5" x2="1027.0" y2="1113.5" stroke-width="1"/><line x1="86.0" y1="1087.5" x2="78.0" y2="1087.5" stroke-width="1"/><line x1="1019.0" y1="1087.5" x2="1027.0" y2="1087.5" stroke-width="1"/><line x1="86.0" y1="1061.0" x2="70.0" y2="1061.0" stroke-width="2"/><line x1="1019.0" y1="1061.0" x2="1035.0" y2="1061.0" stroke-width="2"/><line x1="86.0" y1="1035.5" x2="78.0" y2="1035.5" stroke-width="1"/><line x1="1019.0" y1="1035.5" x2="1027.0" y2="1035.5" stroke-width="1"/><line x1="86.0" y1="1009.5" x2="78.0" y2="1009.5" stroke-width="1"/><line x1="1019.0" y1="1009.5" x2="1027.0" y2="1009.5" stroke-width="1"/><line x1="86.0" y1="984.0" x2="70.0" y2="984.0" stroke-width="2"/><line x1="1019.0" y1="984.0" x2="1035.0" y2="984.0" stroke-width="2"/><line x1="86.0" y1="957.5" x2="78.0" y2="957.5" stroke-width="1"/><line x1="1019.0" y1="957.5" x2="1027.0" y2="957.5" stroke-width="1"/><line x1="86.0" y1="931.5" x2="78.0" y2="931.5" stroke-width="1"/><line x1="1019.0" y1="931.5" x2="1027.0" y2="931.5" stroke-width="1"/><line x1="86.0" y1="906.0" x2="70.0" y2="906.0" stroke-width="2"/><line x1="1019.0" y1="906.0" x2="1035.0" y2="906.0" stroke-width="2"/><line x1="86.0" y1="880.5" x2="78.0" y2="880.5" stroke-width="1"/><line x1="1019.0" y1="880.5" x2="1027.0" y2="880.5" stroke-width="1"/><line x1="86.0" y1="854.5" x2="78.0" y2="854.5" stroke-width="1"/><line x1="1019.0" y1="854.5" x2="1027.0" y2="854.5" stroke-width="1"/><line x1="86.0" y1="828.0" x2="70.0" y2="828.0" stroke-width="2"/><line x1="1019.0" y1="828.0" x2="1035.0" y2="828.0" stroke-width="2"/><line x1="86.0" y1="802.5" x2="78.0" y2="802.5" stroke-width="1"/><line x1="1019.0" y1="802.5" x2="1027.0" y2="802.5" stroke-width="1"/><line x1="86.0" y1="776.5" x2="78.0" y2="776.5" stroke-width="1"/><line x1="1019.0" y1="776.5" x2="1027.0" y2="776.5" stroke-width="1"/><line x1="86.0" y1="751.0" x2="70.0" y2="751.0" stroke-width="2"/><line x1="1019.0" y1="751.0" x2="1035.0" y2="751.0" stroke-width="2"/><line x1="86.0" y1="724.5" x2="78.0" y2="724.5" stroke-width="1"/><line x1="1019.0" y1="724.5" x2="1027.0" y2="724.5" stroke-width="1"/><line x1="86.0" y1="698.5" x2="78.0" y2="698.5" stroke-width="1"/><line x1="1019.0" y1="698.5" x2="1027.0" y2="698.5" stroke-width="1"/><line x1="86.0" y1="673.0" x2="70.0" y2="673.0" stroke-width="2"/><line x1="1019.0" y1="673.0" x2="1035.0" y2="673.0" stroke-width="2"/></g>
<g font-size="30" fill="#000"><text transform="translate(51.3 683.1) scale(0.97 1)" text-anchor="end">90N</text><text transform="translate(51.3 760.8) scale(0.97 1)" text-anchor="end">60N</text><text transform="translate(51.3 838.4) scale(0.97 1)" text-anchor="end">30N</text><text transform="translate(51.3 916.1) scale(0.97 1)" text-anchor="end">0</text><text transform="translate(51.3 993.8) scale(0.97 1)" text-anchor="end">30S</text><text transform="translate(51.3 1071.4) scale(0.97 1)" text-anchor="end">60S</text><text transform="translate(51.3 1149.1) scale(0.97 1)" text-anchor="end">90S</text><text transform="translate(86.0 1196.3) scale(0.97 1)" text-anchor="middle">0</text><text transform="translate(163.8 1196.3) scale(0.97 1)" text-anchor="middle">30E</text><text transform="translate(241.5 1196.3) scale(0.97 1)" text-anchor="middle">60E</text><text transform="translate(319.2 1196.3) scale(0.97 1)" text-anchor="middle">90E</text><text transform="translate(397.0 1196.3) scale(0.97 1)" text-anchor="middle">120E</text><text transform="translate(474.8 1196.3) scale(0.97 1)" text-anchor="middle">150E</text><text transform="translate(552.5 1196.3) scale(0.97 1)" text-anchor="middle">180</text><text transform="translate(630.2 1196.3) scale(0.97 1)" text-anchor="middle">150W</text><text transform="translate(708.0 1196.3) scale(0.97 1)" text-anchor="middle">120W</text><text transform="translate(785.8 1196.3) scale(0.97 1)" text-anchor="middle">90W</text><text transform="translate(863.5 1196.3) scale(0.97 1)" text-anchor="middle">60W</text><text transform="translate(941.2 1196.3) scale(0.97 1)" text-anchor="middle">30W</text><text transform="translate(1019.0 1196.3) scale(0.97 1)" text-anchor="middle">0</text></g>
<text transform="translate(84.2 642.0) scale(0.972 1)" font-size="36">(b) OCN</text>
<rect x="1054.5" y="294.6" width="17.0" height="55.3" fill="#d01f2c" stroke="#222" stroke-width="1.2"/>
<rect x="1054.5" y="349.9" width="17.0" height="55.3" fill="#ef6229" stroke="#222" stroke-width="1.2"/>
<rect x="1054.5" y="405.2" width="17.0" height="55.3" fill="#f99d2c" stroke="#222" stroke-width="1.2"/>
<rect x="1054.5" y="460.5" width="17.0" height="55.3" fill="#fdd476" stroke="#222" stroke-width="1.2"/>
<rect x="1054.5" y="515.8" width="17.0" height="55.3" fill="#fef6d8" stroke="#222" stroke-width="1.2"/>
<rect x="1054.5" y="571.1" width="17.0" height="55.3" fill="#ffffff" stroke="#222" stroke-width="1.2"/>
<rect x="1054.5" y="626.4" width="17.0" height="55.3" fill="#e8f4fb" stroke="#222" stroke-width="1.2"/>
<rect x="1054.5" y="681.7" width="17.0" height="55.3" fill="#bde2f4" stroke="#222" stroke-width="1.2"/>
<rect x="1054.5" y="737.0" width="17.0" height="55.3" fill="#85c4ea" stroke="#222" stroke-width="1.2"/>
<rect x="1054.5" y="792.3" width="17.0" height="55.3" fill="#4b8ecb" stroke="#222" stroke-width="1.2"/>
<rect x="1054.5" y="847.6" width="17.0" height="55.3" fill="#23559f" stroke="#222" stroke-width="1.2"/>
<path d="M1054.5 294.6 L1063.0 239.1 L1071.5 294.6 Z" fill="#8c1a1d" stroke="#222" stroke-width="1.2"/>
<path d="M1054.5 902.9 L1063.0 957.8 L1071.5 902.9 Z" fill="#1c2a60" stroke="#222" stroke-width="1.2"/>
<text x="1100.7" y="307.6" text-anchor="middle" font-size="36">12</text>
<text x="1100.7" y="362.9" text-anchor="middle" font-size="36">10</text>
<text x="1100.7" y="418.2" text-anchor="middle" font-size="36">8</text>
<text x="1100.7" y="473.5" text-anchor="middle" font-size="36">6</text>
<text x="1100.7" y="528.8" text-anchor="middle" font-size="36">4</text>
<text x="1100.7" y="584.1" text-anchor="middle" font-size="36">2</text>
<text x="1100.7" y="639.4" text-anchor="middle" font-size="36">-2</text>
<text x="1100.7" y="694.7" text-anchor="middle" font-size="36">-4</text>
<text x="1100.7" y="750.0" text-anchor="middle" font-size="36">-6</text>
<text x="1100.7" y="805.3" text-anchor="middle" font-size="36">-8</text>
<text x="1100.7" y="860.6" text-anchor="middle" font-size="36">-10</text>
<text x="1100.7" y="915.9" text-anchor="middle" font-size="36">-12</text>
<text x="1094.7" y="230.1" text-anchor="middle" font-size="36.3">cm</text>
</svg>
</body></html>
